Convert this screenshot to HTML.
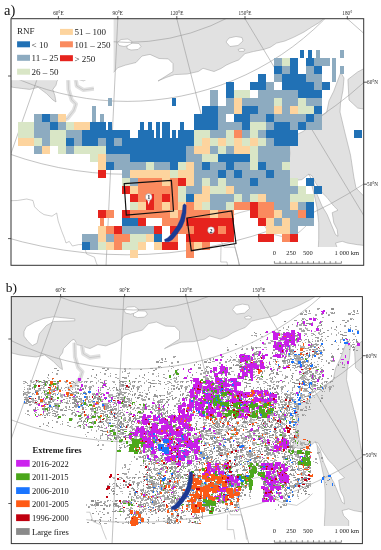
<!DOCTYPE html>
<html><head><meta charset="utf-8"><title>Fire maps</title>
<style>html,body{margin:0;padding:0;background:#fff;width:381px;height:550px;overflow:hidden}svg{display:block}</style>
</head><body>
<svg width="381" height="550" viewBox="0 0 381 550"><rect width="381" height="550" fill="#fff"/><text x="4" y="14.6" font-size="14.5" font-family="'Liberation Serif', serif" fill="#111">a)</text><text x="5.8" y="291.7" font-size="13.5" font-family="'Liberation Serif', serif" fill="#111">b)</text><clipPath id="ca"><rect x="11" y="18.7" width="352.7" height="246.6"/></clipPath><g clip-path="url(#ca)"><polygon points="-30.0,85.0 4.5,85.2 12.9,87.3 21.3,88.4 29.7,89.4 33.9,88.4 38.1,87.3 46.5,93.6 52.8,99.9 56.0,102.0 54.9,95.7 52.8,89.4 56.0,85.2 57.0,81.0 61.2,76.8 65.4,72.6 67.5,71.6 69.6,74.7 70.0,77.0 75.5,78.2 80.0,80.0 83.5,80.9 91.4,77.0 99.3,78.3 109.7,74.3 114.0,72.0 117.6,67.8 125.5,65.1 136.0,62.5 142.0,56.0 150.0,54.4 159.0,58.5 168.3,58.9 173.0,63.6 173.0,71.5 166.0,76.0 158.0,81.0 166.0,77.5 174.6,74.6 187.2,74.0 198.3,71.5 203.0,68.3 214.0,71.5 221.0,68.5 226.1,65.2 232.0,62.5 238.7,59.9 245.0,53.6 253.4,51.5 263.9,49.4 270.2,47.3 276.5,43.1 284.9,41.0 293.6,37.3 304.0,32.0 312.0,26.8 318.6,22.9 323.8,18.7 326.0,-40.0 -30.0,-40.0" fill="#e1e1e1" stroke="#9a9a9a" stroke-width="0.5"/><polygon points="293.5,136.2 303.0,131.5 312.4,124.4 319.5,117.3 326.6,112.6 329.0,100.8 333.7,91.3 337.2,81.9 340.8,72.4 344.0,78.0 343.0,90.0 340.5,103.0 340.0,112.0 345.0,133.0 350.5,155.0 354.0,178.0 356.0,188.0 363.7,196.0 380.0,196.0 380.0,300.0 317.9,300.0 317.9,256.4 318.7,239.6 318.7,222.8 317.0,207.7 314.5,195.9 311.1,182.5 310.3,174.9 308.0,174.7 301.9,179.6 292.1,180.8 286.0,179.0 288.8,166.5 289.9,153.2 289.0,140.0" fill="#e1e1e1" stroke="#9a9a9a" stroke-width="0.5"/><polygon points="347.9,79.5 357.6,72.0 380.0,60.0 380.0,112.0 357.6,108.0 349.0,100.0" fill="#e1e1e1" stroke="#9a9a9a" stroke-width="0.5"/><polygon points="17.5,63.8 19.9,59.1 28.1,54.4 37.5,50.8 47.0,49.2 68.3,51.3 68.3,53.2 47.0,53.9 39.9,57.9 32.8,66.2 30.5,75.6 25.8,78.0 21.0,73.3 17.5,68.6" fill="#fff" stroke="#9a9a9a" stroke-width="0.5"/><polygon points="117.5,42.5 121.0,39.5 128.0,39.0 132.0,41.5 131.0,45.0 124.0,46.5 119.0,45.5" fill="#fff" stroke="#9a9a9a" stroke-width="0.5"/><polygon points="127.0,46.0 132.0,43.2 139.0,43.5 141.0,46.5 138.0,49.5 131.0,50.0 127.0,48.5" fill="#fff" stroke="#9a9a9a" stroke-width="0.5"/><polygon points="226.0,42.0 229.0,38.0 236.0,36.5 242.0,37.5 243.0,41.0 238.0,45.5 230.0,46.5" fill="#fff" stroke="#9a9a9a" stroke-width="0.5"/><polygon points="238.0,49.5 242.0,48.3 245.0,49.5 244.0,51.3 239.0,51.3" fill="#fff" stroke="#9a9a9a" stroke-width="0.5"/><polygon points="308.6,174.1 312.0,175.8 315.3,182.5 322.0,192.6 327.1,197.6 333.8,206.0 338.0,210.2 332.2,212.7 333.8,222.8 337.2,229.5 338.0,236.3 335.5,234.6 331.3,224.5 327.1,214.4 322.0,206.0 317.0,194.2 313.7,182.5" fill="#fff" stroke="#9a9a9a" stroke-width="0.5"/><polygon points="335.5,243.0 342.2,241.3 347.3,243.0 357.5,244.7 370.0,246.0 370.0,275.0 342.2,262.0 342.2,253.1 337.2,248.0" fill="#fff" stroke="#9a9a9a" stroke-width="0.5"/><polyline points="0.0,201.0 17.3,200.5 26.7,199.0 33.0,200.5 34.6,206.8 39.3,211.5 44.0,214.6 52.0,216.2 56.7,213.0 58.2,221.0 61.4,230.4 64.5,238.3 66.0,243.0 69.3,241.4 72.4,246.0 78.7,244.6 83.4,244.6 86.6,254.0 94.5,257.2 96.0,262.0 100.0,272.0" fill="none" stroke="#9a9a9a" stroke-width="0.5"/><polyline points="226.0,217.0 230.4,215.7 239.8,212.6 252.4,209.4 257.2,214.2 262.0,222.0 268.2,231.5 274.5,234.6 280.8,236.2 290.2,237.8 300.0,231.5 306.0,226.0" fill="none" stroke="#9a9a9a" stroke-width="0.5"/><polyline points="219.0,236.0 221.0,241.0 224.0,247.2 235.0,247.2 238.3,259.8 240.0,272.0" fill="none" stroke="#9a9a9a" stroke-width="0.5"/><polyline points="221.0,247.0 220.7,262.0 227.0,262.0 228.5,272.0" fill="none" stroke="#9a9a9a" stroke-width="0.5"/><polyline points="68.0,75.0 68.5,89.4 71.7,99.9 75.9,104.1 73.8,110.4 67.5,118.4 61.0,121.0" fill="none" stroke="#e1e1e1" stroke-width="4.2" stroke-linejoin="round"/><polyline points="68.0,75.0 68.5,89.4 71.7,99.9 75.9,104.1 73.8,110.4 67.5,118.4 61.0,121.0" fill="none" stroke="#a8a8a8" stroke-width="0.4"/><polyline points="75.5,78.2 76.8,86.0 83.4,90.0 93.9,88.6" fill="none" stroke="#e1e1e1" stroke-width="4.2" stroke-linejoin="round"/><polyline points="75.5,78.2 76.8,86.0 83.4,90.0 93.9,88.6" fill="none" stroke="#a8a8a8" stroke-width="0.4"/><g fill="none" stroke="#9a9a9a" stroke-width="0.6"><line x1="127.1" y1="-176.6" x2="-171.6" y2="672.4"/><line x1="127.1" y1="-176.6" x2="84.3" y2="722.4"/><line x1="127.1" y1="-176.6" x2="349.1" y2="695.6"/><line x1="127.1" y1="-176.6" x2="592.2" y2="593.9"/><line x1="127.1" y1="-176.6" x2="800.4" y2="420.6"/><circle cx="127.1" cy="-176.6" r="219.0"/><circle cx="127.1" cy="-176.6" r="278.0"/><circle cx="127.1" cy="-176.6" r="350.9"/><circle cx="127.1" cy="-176.6" r="431.4"/></g><g shape-rendering="crispEdges"><rect x="300" y="50" width="4" height="8" fill="#2171b5"/><rect x="308" y="50" width="4" height="8" fill="#2171b5"/><rect x="316" y="50" width="4" height="8" fill="#8dabc0"/><rect x="340" y="50" width="4" height="8" fill="#8dabc0"/><rect x="274" y="58" width="8" height="8" fill="#8dabc0"/><rect x="282" y="58" width="8" height="8" fill="#d9e6c6"/><rect x="290" y="58" width="8" height="8" fill="#2171b5"/><rect x="306" y="58" width="8" height="8" fill="#2171b5"/><rect x="314" y="58" width="8" height="8" fill="#8dabc0"/><rect x="322" y="58" width="8" height="8" fill="#8dabc0"/><rect x="332" y="58" width="4" height="8" fill="#8dabc0"/><rect x="274" y="66" width="8" height="8" fill="#2171b5"/><rect x="282" y="66" width="8" height="8" fill="#8dabc0"/><rect x="290" y="66" width="8" height="8" fill="#2171b5"/><rect x="306" y="66" width="8" height="8" fill="#8dabc0"/><rect x="314" y="66" width="8" height="8" fill="#2171b5"/><rect x="332" y="66" width="4" height="8" fill="#8dabc0"/><rect x="340" y="66" width="4" height="8" fill="#8dabc0"/><rect x="258" y="74" width="8" height="8" fill="#2171b5"/><rect x="274" y="74" width="8" height="8" fill="#8dabc0"/><rect x="282" y="74" width="8" height="8" fill="#2171b5"/><rect x="290" y="74" width="8" height="8" fill="#2171b5"/><rect x="298" y="74" width="8" height="8" fill="#2171b5"/><rect x="306" y="74" width="8" height="8" fill="#8dabc0"/><rect x="314" y="74" width="8" height="8" fill="#8dabc0"/><rect x="332" y="74" width="4" height="8" fill="#8dabc0"/><rect x="226" y="82" width="8" height="8" fill="#2171b5"/><rect x="250" y="82" width="8" height="8" fill="#2171b5"/><rect x="258" y="82" width="8" height="8" fill="#2171b5"/><rect x="266" y="82" width="8" height="8" fill="#8dabc0"/><rect x="282" y="82" width="8" height="8" fill="#2171b5"/><rect x="290" y="82" width="8" height="8" fill="#2171b5"/><rect x="298" y="82" width="8" height="8" fill="#2171b5"/><rect x="306" y="82" width="8" height="8" fill="#2171b5"/><rect x="314" y="82" width="8" height="8" fill="#8dabc0"/><rect x="322" y="82" width="8" height="8" fill="#2171b5"/><rect x="210" y="90" width="8" height="8" fill="#8dabc0"/><rect x="226" y="90" width="8" height="8" fill="#2171b5"/><rect x="234" y="90" width="8" height="8" fill="#d9e6c6"/><rect x="242" y="90" width="8" height="8" fill="#d9e6c6"/><rect x="258" y="90" width="8" height="8" fill="#8dabc0"/><rect x="266" y="90" width="8" height="8" fill="#8dabc0"/><rect x="274" y="90" width="8" height="8" fill="#8dabc0"/><rect x="282" y="90" width="8" height="8" fill="#8dabc0"/><rect x="290" y="90" width="8" height="8" fill="#8dabc0"/><rect x="298" y="90" width="8" height="8" fill="#2171b5"/><rect x="306" y="90" width="8" height="8" fill="#2171b5"/><rect x="314" y="90" width="8" height="8" fill="#2171b5"/><rect x="34" y="114" width="8" height="8" fill="#8dabc0"/><rect x="42" y="114" width="8" height="8" fill="#2171b5"/><rect x="50" y="114" width="8" height="8" fill="#8dabc0"/><rect x="58" y="114" width="8" height="8" fill="#fdd49e"/><rect x="92" y="114" width="4" height="8" fill="#8dabc0"/><rect x="100" y="114" width="4" height="8" fill="#8dabc0"/><rect x="194" y="114" width="8" height="8" fill="#2171b5"/><rect x="202" y="114" width="8" height="8" fill="#2171b5"/><rect x="210" y="114" width="8" height="8" fill="#2171b5"/><rect x="218" y="114" width="8" height="8" fill="#8dabc0"/><rect x="234" y="114" width="8" height="8" fill="#2171b5"/><rect x="242" y="114" width="8" height="8" fill="#2171b5"/><rect x="250" y="114" width="8" height="8" fill="#8dabc0"/><rect x="258" y="114" width="8" height="8" fill="#8dabc0"/><rect x="266" y="114" width="8" height="8" fill="#2171b5"/><rect x="274" y="114" width="8" height="8" fill="#8dabc0"/><rect x="282" y="114" width="8" height="8" fill="#8dabc0"/><rect x="290" y="114" width="8" height="8" fill="#8dabc0"/><rect x="298" y="114" width="8" height="8" fill="#8dabc0"/><rect x="306" y="114" width="8" height="8" fill="#2171b5"/><rect x="314" y="114" width="8" height="8" fill="#8dabc0"/><rect x="18" y="122" width="8" height="8" fill="#d9e6c6"/><rect x="26" y="122" width="8" height="8" fill="#d9e6c6"/><rect x="34" y="122" width="8" height="8" fill="#8dabc0"/><rect x="42" y="122" width="8" height="8" fill="#8dabc0"/><rect x="50" y="122" width="8" height="8" fill="#2171b5"/><rect x="58" y="122" width="8" height="8" fill="#8dabc0"/><rect x="66" y="122" width="8" height="8" fill="#d9e6c6"/><rect x="74" y="122" width="8" height="8" fill="#fdd49e"/><rect x="82" y="122" width="8" height="8" fill="#fdd49e"/><rect x="90" y="122" width="8" height="8" fill="#2171b5"/><rect x="98" y="122" width="8" height="8" fill="#2171b5"/><rect x="108" y="122" width="4" height="8" fill="#2171b5"/><rect x="140" y="122" width="4" height="8" fill="#2171b5"/><rect x="148" y="122" width="4" height="8" fill="#2171b5"/><rect x="156" y="122" width="4" height="8" fill="#2171b5"/><rect x="162" y="122" width="8" height="8" fill="#2171b5"/><rect x="180" y="122" width="4" height="8" fill="#2171b5"/><rect x="194" y="122" width="8" height="8" fill="#2171b5"/><rect x="202" y="122" width="8" height="8" fill="#2171b5"/><rect x="210" y="122" width="8" height="8" fill="#2171b5"/><rect x="218" y="122" width="8" height="8" fill="#8dabc0"/><rect x="226" y="122" width="8" height="8" fill="#8dabc0"/><rect x="234" y="122" width="8" height="8" fill="#8dabc0"/><rect x="242" y="122" width="8" height="8" fill="#2171b5"/><rect x="250" y="122" width="8" height="8" fill="#d9e6c6"/><rect x="258" y="122" width="8" height="8" fill="#d9e6c6"/><rect x="266" y="122" width="8" height="8" fill="#8dabc0"/><rect x="274" y="122" width="8" height="8" fill="#2171b5"/><rect x="282" y="122" width="8" height="8" fill="#2171b5"/><rect x="290" y="122" width="8" height="8" fill="#8dabc0"/><rect x="298" y="122" width="8" height="8" fill="#2171b5"/><rect x="306" y="122" width="8" height="8" fill="#8dabc0"/><rect x="314" y="122" width="8" height="8" fill="#8dabc0"/><rect x="18" y="130" width="8" height="8" fill="#d9e6c6"/><rect x="26" y="130" width="8" height="8" fill="#d9e6c6"/><rect x="34" y="130" width="8" height="8" fill="#8dabc0"/><rect x="42" y="130" width="8" height="8" fill="#8dabc0"/><rect x="50" y="130" width="8" height="8" fill="#d9e6c6"/><rect x="58" y="130" width="8" height="8" fill="#d9e6c6"/><rect x="66" y="130" width="8" height="8" fill="#8dabc0"/><rect x="74" y="130" width="8" height="8" fill="#8dabc0"/><rect x="82" y="130" width="8" height="8" fill="#2171b5"/><rect x="90" y="130" width="8" height="8" fill="#2171b5"/><rect x="98" y="130" width="8" height="8" fill="#2171b5"/><rect x="106" y="130" width="8" height="8" fill="#2171b5"/><rect x="114" y="130" width="8" height="8" fill="#2171b5"/><rect x="122" y="130" width="8" height="8" fill="#2171b5"/><rect x="138" y="130" width="8" height="8" fill="#2171b5"/><rect x="146" y="130" width="8" height="8" fill="#2171b5"/><rect x="156" y="130" width="4" height="8" fill="#2171b5"/><rect x="162" y="130" width="8" height="8" fill="#2171b5"/><rect x="172" y="130" width="4" height="8" fill="#2171b5"/><rect x="178" y="130" width="8" height="8" fill="#2171b5"/><rect x="186" y="130" width="8" height="8" fill="#2171b5"/><rect x="194" y="130" width="8" height="8" fill="#d9e6c6"/><rect x="202" y="130" width="8" height="8" fill="#d9e6c6"/><rect x="210" y="130" width="8" height="8" fill="#8dabc0"/><rect x="218" y="130" width="8" height="8" fill="#8dabc0"/><rect x="226" y="130" width="8" height="8" fill="#d9e6c6"/><rect x="234" y="130" width="8" height="8" fill="#fa8a5e"/><rect x="242" y="130" width="8" height="8" fill="#8dabc0"/><rect x="250" y="130" width="8" height="8" fill="#d9e6c6"/><rect x="258" y="130" width="8" height="8" fill="#8dabc0"/><rect x="266" y="130" width="8" height="8" fill="#2171b5"/><rect x="274" y="130" width="8" height="8" fill="#2171b5"/><rect x="282" y="130" width="8" height="8" fill="#2171b5"/><rect x="290" y="130" width="8" height="8" fill="#2171b5"/><rect x="354" y="130" width="8" height="8" fill="#2171b5"/><rect x="18" y="138" width="8" height="8" fill="#fdd49e"/><rect x="26" y="138" width="8" height="8" fill="#fdd49e"/><rect x="34" y="138" width="8" height="8" fill="#d9e6c6"/><rect x="42" y="138" width="8" height="8" fill="#8dabc0"/><rect x="50" y="138" width="8" height="8" fill="#d9e6c6"/><rect x="58" y="138" width="8" height="8" fill="#d9e6c6"/><rect x="66" y="138" width="8" height="8" fill="#2171b5"/><rect x="74" y="138" width="8" height="8" fill="#8dabc0"/><rect x="82" y="138" width="8" height="8" fill="#2171b5"/><rect x="90" y="138" width="8" height="8" fill="#2171b5"/><rect x="98" y="138" width="8" height="8" fill="#8dabc0"/><rect x="106" y="138" width="8" height="8" fill="#2171b5"/><rect x="114" y="138" width="8" height="8" fill="#8dabc0"/><rect x="122" y="138" width="8" height="8" fill="#2171b5"/><rect x="130" y="138" width="8" height="8" fill="#2171b5"/><rect x="138" y="138" width="8" height="8" fill="#2171b5"/><rect x="146" y="138" width="8" height="8" fill="#2171b5"/><rect x="154" y="138" width="8" height="8" fill="#2171b5"/><rect x="162" y="138" width="8" height="8" fill="#2171b5"/><rect x="170" y="138" width="8" height="8" fill="#2171b5"/><rect x="178" y="138" width="8" height="8" fill="#2171b5"/><rect x="186" y="138" width="8" height="8" fill="#2171b5"/><rect x="194" y="138" width="8" height="8" fill="#d9e6c6"/><rect x="202" y="138" width="8" height="8" fill="#fdd49e"/><rect x="210" y="138" width="8" height="8" fill="#d9e6c6"/><rect x="218" y="138" width="8" height="8" fill="#fdd49e"/><rect x="226" y="138" width="8" height="8" fill="#d9e6c6"/><rect x="234" y="138" width="8" height="8" fill="#fdd49e"/><rect x="242" y="138" width="8" height="8" fill="#d9e6c6"/><rect x="250" y="138" width="8" height="8" fill="#fdd49e"/><rect x="258" y="138" width="8" height="8" fill="#d9e6c6"/><rect x="266" y="138" width="8" height="8" fill="#8dabc0"/><rect x="274" y="138" width="8" height="8" fill="#2171b5"/><rect x="282" y="138" width="8" height="8" fill="#2171b5"/><rect x="290" y="138" width="8" height="8" fill="#2171b5"/><rect x="108" y="98" width="4" height="8" fill="#8dabc0"/><rect x="172" y="98" width="4" height="8" fill="#2171b5"/><rect x="210" y="98" width="8" height="8" fill="#8dabc0"/><rect x="226" y="98" width="8" height="8" fill="#8dabc0"/><rect x="234" y="98" width="8" height="8" fill="#fdd49e"/><rect x="242" y="98" width="8" height="8" fill="#8dabc0"/><rect x="250" y="98" width="8" height="8" fill="#8dabc0"/><rect x="258" y="98" width="8" height="8" fill="#8dabc0"/><rect x="266" y="98" width="8" height="8" fill="#8dabc0"/><rect x="274" y="98" width="8" height="8" fill="#d9e6c6"/><rect x="282" y="98" width="8" height="8" fill="#8dabc0"/><rect x="290" y="98" width="8" height="8" fill="#8dabc0"/><rect x="298" y="98" width="8" height="8" fill="#d9e6c6"/><rect x="306" y="98" width="8" height="8" fill="#8dabc0"/><rect x="314" y="98" width="8" height="8" fill="#8dabc0"/><rect x="92" y="106" width="4" height="8" fill="#8dabc0"/><rect x="202" y="106" width="8" height="8" fill="#2171b5"/><rect x="210" y="106" width="8" height="8" fill="#2171b5"/><rect x="218" y="106" width="8" height="8" fill="#8dabc0"/><rect x="226" y="106" width="8" height="8" fill="#8dabc0"/><rect x="234" y="106" width="8" height="8" fill="#fdd49e"/><rect x="242" y="106" width="8" height="8" fill="#2171b5"/><rect x="250" y="106" width="8" height="8" fill="#2171b5"/><rect x="258" y="106" width="8" height="8" fill="#8dabc0"/><rect x="266" y="106" width="8" height="8" fill="#8dabc0"/><rect x="274" y="106" width="8" height="8" fill="#fdd49e"/><rect x="282" y="106" width="8" height="8" fill="#8dabc0"/><rect x="290" y="106" width="8" height="8" fill="#fdd49e"/><rect x="298" y="106" width="8" height="8" fill="#d9e6c6"/><rect x="306" y="106" width="8" height="8" fill="#d9e6c6"/><rect x="314" y="106" width="8" height="8" fill="#2171b5"/><rect x="34" y="146" width="8" height="8" fill="#8dabc0"/><rect x="42" y="146" width="8" height="8" fill="#fdd49e"/><rect x="58" y="146" width="8" height="8" fill="#d9e6c6"/><rect x="66" y="146" width="8" height="8" fill="#8dabc0"/><rect x="74" y="146" width="8" height="8" fill="#d9e6c6"/><rect x="82" y="146" width="8" height="8" fill="#d9e6c6"/><rect x="90" y="146" width="8" height="8" fill="#d9e6c6"/><rect x="98" y="146" width="8" height="8" fill="#d9e6c6"/><rect x="106" y="146" width="8" height="8" fill="#2171b5"/><rect x="114" y="146" width="8" height="8" fill="#2171b5"/><rect x="122" y="146" width="8" height="8" fill="#2171b5"/><rect x="130" y="146" width="8" height="8" fill="#2171b5"/><rect x="138" y="146" width="8" height="8" fill="#2171b5"/><rect x="146" y="146" width="8" height="8" fill="#2171b5"/><rect x="154" y="146" width="8" height="8" fill="#2171b5"/><rect x="162" y="146" width="8" height="8" fill="#2171b5"/><rect x="170" y="146" width="8" height="8" fill="#2171b5"/><rect x="178" y="146" width="8" height="8" fill="#2171b5"/><rect x="186" y="146" width="8" height="8" fill="#8dabc0"/><rect x="194" y="146" width="8" height="8" fill="#fdd49e"/><rect x="202" y="146" width="8" height="8" fill="#fdd49e"/><rect x="210" y="146" width="8" height="8" fill="#8dabc0"/><rect x="218" y="146" width="8" height="8" fill="#d9e6c6"/><rect x="226" y="146" width="8" height="8" fill="#8dabc0"/><rect x="234" y="146" width="8" height="8" fill="#fdd49e"/><rect x="242" y="146" width="8" height="8" fill="#fdd49e"/><rect x="250" y="146" width="8" height="8" fill="#d9e6c6"/><rect x="258" y="146" width="8" height="8" fill="#8dabc0"/><rect x="266" y="146" width="8" height="8" fill="#8dabc0"/><rect x="274" y="146" width="8" height="8" fill="#8dabc0"/><rect x="282" y="146" width="8" height="8" fill="#8dabc0"/><rect x="90" y="154" width="8" height="8" fill="#d9e6c6"/><rect x="98" y="154" width="8" height="8" fill="#fdd49e"/><rect x="106" y="154" width="8" height="8" fill="#8dabc0"/><rect x="114" y="154" width="8" height="8" fill="#8dabc0"/><rect x="122" y="154" width="8" height="8" fill="#8dabc0"/><rect x="130" y="154" width="8" height="8" fill="#2171b5"/><rect x="138" y="154" width="8" height="8" fill="#2171b5"/><rect x="146" y="154" width="8" height="8" fill="#2171b5"/><rect x="154" y="154" width="8" height="8" fill="#2171b5"/><rect x="162" y="154" width="8" height="8" fill="#2171b5"/><rect x="170" y="154" width="8" height="8" fill="#2171b5"/><rect x="178" y="154" width="8" height="8" fill="#2171b5"/><rect x="186" y="154" width="8" height="8" fill="#8dabc0"/><rect x="194" y="154" width="8" height="8" fill="#8dabc0"/><rect x="202" y="154" width="8" height="8" fill="#d9e6c6"/><rect x="210" y="154" width="8" height="8" fill="#d9e6c6"/><rect x="218" y="154" width="8" height="8" fill="#2171b5"/><rect x="226" y="154" width="8" height="8" fill="#2171b5"/><rect x="234" y="154" width="8" height="8" fill="#2171b5"/><rect x="242" y="154" width="8" height="8" fill="#2171b5"/><rect x="250" y="154" width="8" height="8" fill="#d9e6c6"/><rect x="258" y="154" width="8" height="8" fill="#8dabc0"/><rect x="266" y="154" width="8" height="8" fill="#8dabc0"/><rect x="274" y="154" width="8" height="8" fill="#8dabc0"/><rect x="282" y="154" width="8" height="8" fill="#8dabc0"/><rect x="98" y="162" width="8" height="8" fill="#fdd49e"/><rect x="106" y="162" width="8" height="8" fill="#2171b5"/><rect x="114" y="162" width="8" height="8" fill="#8dabc0"/><rect x="122" y="162" width="8" height="8" fill="#8dabc0"/><rect x="130" y="162" width="8" height="8" fill="#8dabc0"/><rect x="138" y="162" width="8" height="8" fill="#8dabc0"/><rect x="146" y="162" width="8" height="8" fill="#d9e6c6"/><rect x="154" y="162" width="8" height="8" fill="#8dabc0"/><rect x="162" y="162" width="8" height="8" fill="#8dabc0"/><rect x="170" y="162" width="8" height="8" fill="#2171b5"/><rect x="178" y="162" width="8" height="8" fill="#d9e6c6"/><rect x="186" y="162" width="8" height="8" fill="#fdd49e"/><rect x="194" y="162" width="8" height="8" fill="#8dabc0"/><rect x="202" y="162" width="8" height="8" fill="#2171b5"/><rect x="210" y="162" width="8" height="8" fill="#8dabc0"/><rect x="218" y="162" width="8" height="8" fill="#8dabc0"/><rect x="226" y="162" width="8" height="8" fill="#2171b5"/><rect x="234" y="162" width="8" height="8" fill="#8dabc0"/><rect x="242" y="162" width="8" height="8" fill="#8dabc0"/><rect x="250" y="162" width="8" height="8" fill="#d9e6c6"/><rect x="258" y="162" width="8" height="8" fill="#2171b5"/><rect x="266" y="162" width="8" height="8" fill="#8dabc0"/><rect x="274" y="162" width="8" height="8" fill="#8dabc0"/><rect x="282" y="162" width="8" height="8" fill="#d9e6c6"/><rect x="98" y="170" width="8" height="8" fill="#e6231d"/><rect x="122" y="170" width="8" height="8" fill="#8dabc0"/><rect x="130" y="170" width="8" height="8" fill="#fdd49e"/><rect x="138" y="170" width="8" height="8" fill="#fdd49e"/><rect x="146" y="170" width="8" height="8" fill="#fdd49e"/><rect x="154" y="170" width="8" height="8" fill="#fdd49e"/><rect x="162" y="170" width="8" height="8" fill="#fdd49e"/><rect x="170" y="170" width="8" height="8" fill="#d9e6c6"/><rect x="178" y="170" width="8" height="8" fill="#fdd49e"/><rect x="186" y="170" width="8" height="8" fill="#fdd49e"/><rect x="194" y="170" width="8" height="8" fill="#8dabc0"/><rect x="202" y="170" width="8" height="8" fill="#8dabc0"/><rect x="210" y="170" width="8" height="8" fill="#8dabc0"/><rect x="218" y="170" width="8" height="8" fill="#2171b5"/><rect x="226" y="170" width="8" height="8" fill="#8dabc0"/><rect x="234" y="170" width="8" height="8" fill="#2171b5"/><rect x="242" y="170" width="8" height="8" fill="#8dabc0"/><rect x="250" y="170" width="8" height="8" fill="#8dabc0"/><rect x="258" y="170" width="8" height="8" fill="#8dabc0"/><rect x="266" y="170" width="8" height="8" fill="#2171b5"/><rect x="274" y="170" width="8" height="8" fill="#8dabc0"/><rect x="282" y="170" width="8" height="8" fill="#8dabc0"/><rect x="122" y="178" width="8" height="8" fill="#d9e6c6"/><rect x="130" y="178" width="8" height="8" fill="#8dabc0"/><rect x="138" y="178" width="8" height="8" fill="#fa8a5e"/><rect x="146" y="178" width="8" height="8" fill="#fa8a5e"/><rect x="154" y="178" width="8" height="8" fill="#fa8a5e"/><rect x="162" y="178" width="8" height="8" fill="#fdd49e"/><rect x="170" y="178" width="8" height="8" fill="#fa8a5e"/><rect x="178" y="178" width="8" height="8" fill="#e6231d"/><rect x="186" y="178" width="8" height="8" fill="#fdd49e"/><rect x="194" y="178" width="8" height="8" fill="#8dabc0"/><rect x="202" y="178" width="8" height="8" fill="#d9e6c6"/><rect x="210" y="178" width="8" height="8" fill="#8dabc0"/><rect x="218" y="178" width="8" height="8" fill="#d9e6c6"/><rect x="226" y="178" width="8" height="8" fill="#8dabc0"/><rect x="234" y="178" width="8" height="8" fill="#8dabc0"/><rect x="242" y="178" width="8" height="8" fill="#8dabc0"/><rect x="250" y="178" width="8" height="8" fill="#2171b5"/><rect x="258" y="178" width="8" height="8" fill="#8dabc0"/><rect x="266" y="178" width="8" height="8" fill="#8dabc0"/><rect x="274" y="178" width="8" height="8" fill="#8dabc0"/><rect x="282" y="178" width="8" height="8" fill="#8dabc0"/><rect x="290" y="178" width="8" height="8" fill="#d9e6c6"/><rect x="306" y="178" width="8" height="8" fill="#2171b5"/><rect x="122" y="186" width="8" height="8" fill="#e6231d"/><rect x="130" y="186" width="8" height="8" fill="#fdd49e"/><rect x="138" y="186" width="8" height="8" fill="#fa8a5e"/><rect x="146" y="186" width="8" height="8" fill="#fa8a5e"/><rect x="154" y="186" width="8" height="8" fill="#fa8a5e"/><rect x="162" y="186" width="8" height="8" fill="#fa8a5e"/><rect x="170" y="186" width="8" height="8" fill="#fa8a5e"/><rect x="178" y="186" width="8" height="8" fill="#d9e6c6"/><rect x="186" y="186" width="8" height="8" fill="#8dabc0"/><rect x="194" y="186" width="8" height="8" fill="#8dabc0"/><rect x="202" y="186" width="8" height="8" fill="#fdd49e"/><rect x="210" y="186" width="8" height="8" fill="#d9e6c6"/><rect x="218" y="186" width="8" height="8" fill="#d9e6c6"/><rect x="226" y="186" width="8" height="8" fill="#fdd49e"/><rect x="234" y="186" width="8" height="8" fill="#8dabc0"/><rect x="242" y="186" width="8" height="8" fill="#8dabc0"/><rect x="250" y="186" width="8" height="8" fill="#8dabc0"/><rect x="258" y="186" width="8" height="8" fill="#8dabc0"/><rect x="266" y="186" width="8" height="8" fill="#8dabc0"/><rect x="274" y="186" width="8" height="8" fill="#8dabc0"/><rect x="282" y="186" width="8" height="8" fill="#8dabc0"/><rect x="290" y="186" width="8" height="8" fill="#8dabc0"/><rect x="298" y="186" width="8" height="8" fill="#d9e6c6"/><rect x="314" y="186" width="8" height="8" fill="#2171b5"/><rect x="130" y="194" width="8" height="8" fill="#e6231d"/><rect x="138" y="194" width="8" height="8" fill="#fa8a5e"/><rect x="146" y="194" width="8" height="8" fill="#e6231d"/><rect x="154" y="194" width="8" height="8" fill="#fa8a5e"/><rect x="162" y="194" width="8" height="8" fill="#e6231d"/><rect x="170" y="194" width="8" height="8" fill="#fa8a5e"/><rect x="178" y="194" width="8" height="8" fill="#d9e6c6"/><rect x="186" y="194" width="8" height="8" fill="#2171b5"/><rect x="194" y="194" width="8" height="8" fill="#fdd49e"/><rect x="202" y="194" width="8" height="8" fill="#fdd49e"/><rect x="210" y="194" width="8" height="8" fill="#8dabc0"/><rect x="218" y="194" width="8" height="8" fill="#8dabc0"/><rect x="226" y="194" width="8" height="8" fill="#8dabc0"/><rect x="234" y="194" width="8" height="8" fill="#d9e6c6"/><rect x="242" y="194" width="8" height="8" fill="#8dabc0"/><rect x="250" y="194" width="8" height="8" fill="#d9e6c6"/><rect x="258" y="194" width="8" height="8" fill="#fdd49e"/><rect x="266" y="194" width="8" height="8" fill="#8dabc0"/><rect x="274" y="194" width="8" height="8" fill="#8dabc0"/><rect x="282" y="194" width="8" height="8" fill="#8dabc0"/><rect x="290" y="194" width="8" height="8" fill="#d9e6c6"/><rect x="298" y="194" width="8" height="8" fill="#d9e6c6"/><rect x="306" y="194" width="8" height="8" fill="#d9e6c6"/><rect x="130" y="202" width="8" height="8" fill="#d9e6c6"/><rect x="138" y="202" width="8" height="8" fill="#fdd49e"/><rect x="146" y="202" width="8" height="8" fill="#e6231d"/><rect x="154" y="202" width="8" height="8" fill="#fa8a5e"/><rect x="162" y="202" width="8" height="8" fill="#fdd49e"/><rect x="170" y="202" width="8" height="8" fill="#fa8a5e"/><rect x="178" y="202" width="8" height="8" fill="#fdd49e"/><rect x="186" y="202" width="8" height="8" fill="#fa8a5e"/><rect x="194" y="202" width="8" height="8" fill="#fdd49e"/><rect x="202" y="202" width="8" height="8" fill="#d9e6c6"/><rect x="210" y="202" width="8" height="8" fill="#8dabc0"/><rect x="218" y="202" width="8" height="8" fill="#8dabc0"/><rect x="226" y="202" width="8" height="8" fill="#d9e6c6"/><rect x="234" y="202" width="8" height="8" fill="#fa8a5e"/><rect x="242" y="202" width="8" height="8" fill="#fa8a5e"/><rect x="250" y="202" width="8" height="8" fill="#e6231d"/><rect x="258" y="202" width="8" height="8" fill="#fa8a5e"/><rect x="266" y="202" width="8" height="8" fill="#fa8a5e"/><rect x="274" y="202" width="8" height="8" fill="#8dabc0"/><rect x="282" y="202" width="8" height="8" fill="#8dabc0"/><rect x="290" y="202" width="8" height="8" fill="#fdd49e"/><rect x="298" y="202" width="8" height="8" fill="#8dabc0"/><rect x="306" y="202" width="8" height="8" fill="#2171b5"/><rect x="98" y="210" width="8" height="8" fill="#e6231d"/><rect x="106" y="210" width="8" height="8" fill="#fa8a5e"/><rect x="122" y="210" width="8" height="8" fill="#e6231d"/><rect x="130" y="210" width="8" height="8" fill="#fa8a5e"/><rect x="138" y="210" width="8" height="8" fill="#fa8a5e"/><rect x="146" y="210" width="8" height="8" fill="#fa8a5e"/><rect x="154" y="210" width="8" height="8" fill="#fa8a5e"/><rect x="162" y="210" width="8" height="8" fill="#fa8a5e"/><rect x="170" y="210" width="8" height="8" fill="#fdd49e"/><rect x="178" y="210" width="8" height="8" fill="#fa8a5e"/><rect x="186" y="210" width="8" height="8" fill="#fa8a5e"/><rect x="194" y="210" width="8" height="8" fill="#fa8a5e"/><rect x="202" y="210" width="8" height="8" fill="#fa8a5e"/><rect x="210" y="210" width="8" height="8" fill="#fdd49e"/><rect x="218" y="210" width="8" height="8" fill="#fa8a5e"/><rect x="226" y="210" width="8" height="8" fill="#fa8a5e"/><rect x="250" y="210" width="8" height="8" fill="#e6231d"/><rect x="258" y="210" width="8" height="8" fill="#fa8a5e"/><rect x="266" y="210" width="8" height="8" fill="#fa8a5e"/><rect x="274" y="210" width="8" height="8" fill="#fdd49e"/><rect x="282" y="210" width="8" height="8" fill="#8dabc0"/><rect x="290" y="210" width="8" height="8" fill="#8dabc0"/><rect x="298" y="210" width="8" height="8" fill="#fa8a5e"/><rect x="306" y="210" width="8" height="8" fill="#2171b5"/><rect x="100" y="218" width="4" height="8" fill="#fa8a5e"/><rect x="122" y="218" width="8" height="8" fill="#2171b5"/><rect x="130" y="218" width="8" height="8" fill="#2171b5"/><rect x="138" y="218" width="8" height="8" fill="#e6231d"/><rect x="162" y="218" width="8" height="8" fill="#fa8a5e"/><rect x="170" y="218" width="8" height="8" fill="#fa8a5e"/><rect x="178" y="218" width="8" height="8" fill="#fa8a5e"/><rect x="186" y="218" width="8" height="8" fill="#e6231d"/><rect x="194" y="218" width="8" height="8" fill="#e6231d"/><rect x="202" y="218" width="8" height="8" fill="#e6231d"/><rect x="210" y="218" width="8" height="8" fill="#e6231d"/><rect x="218" y="218" width="8" height="8" fill="#e6231d"/><rect x="226" y="218" width="8" height="8" fill="#e6231d"/><rect x="258" y="218" width="8" height="8" fill="#e6231d"/><rect x="266" y="218" width="8" height="8" fill="#fdd49e"/><rect x="274" y="218" width="8" height="8" fill="#8dabc0"/><rect x="282" y="218" width="8" height="8" fill="#fdd49e"/><rect x="290" y="218" width="8" height="8" fill="#8dabc0"/><rect x="298" y="218" width="8" height="8" fill="#8dabc0"/><rect x="306" y="218" width="8" height="8" fill="#8dabc0"/><rect x="98" y="226" width="8" height="8" fill="#fdd49e"/><rect x="106" y="226" width="8" height="8" fill="#fa8a5e"/><rect x="114" y="226" width="8" height="8" fill="#e6231d"/><rect x="122" y="226" width="8" height="8" fill="#8dabc0"/><rect x="130" y="226" width="8" height="8" fill="#8dabc0"/><rect x="138" y="226" width="8" height="8" fill="#8dabc0"/><rect x="146" y="226" width="8" height="8" fill="#8dabc0"/><rect x="154" y="226" width="8" height="8" fill="#e6231d"/><rect x="170" y="226" width="8" height="8" fill="#e6231d"/><rect x="178" y="226" width="8" height="8" fill="#fa8a5e"/><rect x="186" y="226" width="8" height="8" fill="#fa8a5e"/><rect x="194" y="226" width="8" height="8" fill="#e6231d"/><rect x="202" y="226" width="8" height="8" fill="#e6231d"/><rect x="210" y="226" width="8" height="8" fill="#e6231d"/><rect x="218" y="226" width="8" height="8" fill="#fa8a5e"/><rect x="226" y="226" width="8" height="8" fill="#e6231d"/><rect x="266" y="226" width="8" height="8" fill="#fdd49e"/><rect x="274" y="226" width="8" height="8" fill="#fdd49e"/><rect x="282" y="226" width="8" height="8" fill="#fdd49e"/><rect x="290" y="226" width="8" height="8" fill="#8dabc0"/><rect x="82" y="234" width="8" height="8" fill="#8dabc0"/><rect x="90" y="234" width="8" height="8" fill="#8dabc0"/><rect x="98" y="234" width="8" height="8" fill="#fdd49e"/><rect x="106" y="234" width="8" height="8" fill="#8dabc0"/><rect x="114" y="234" width="8" height="8" fill="#fa8a5e"/><rect x="122" y="234" width="8" height="8" fill="#fa8a5e"/><rect x="130" y="234" width="8" height="8" fill="#d9e6c6"/><rect x="138" y="234" width="8" height="8" fill="#d9e6c6"/><rect x="146" y="234" width="8" height="8" fill="#fdd49e"/><rect x="154" y="234" width="8" height="8" fill="#2171b5"/><rect x="170" y="234" width="8" height="8" fill="#fa8a5e"/><rect x="186" y="234" width="8" height="8" fill="#e6231d"/><rect x="194" y="234" width="8" height="8" fill="#e6231d"/><rect x="202" y="234" width="8" height="8" fill="#e6231d"/><rect x="210" y="234" width="8" height="8" fill="#e6231d"/><rect x="218" y="234" width="8" height="8" fill="#e6231d"/><rect x="226" y="234" width="8" height="8" fill="#e6231d"/><rect x="258" y="234" width="8" height="8" fill="#e6231d"/><rect x="266" y="234" width="8" height="8" fill="#e6231d"/><rect x="282" y="234" width="8" height="8" fill="#fa8a5e"/><rect x="290" y="234" width="8" height="8" fill="#e6231d"/><rect x="82" y="242" width="8" height="8" fill="#2171b5"/><rect x="90" y="242" width="8" height="8" fill="#8dabc0"/><rect x="98" y="242" width="8" height="8" fill="#d9e6c6"/><rect x="106" y="242" width="8" height="8" fill="#fdd49e"/><rect x="114" y="242" width="8" height="8" fill="#fa8a5e"/><rect x="122" y="242" width="8" height="8" fill="#d9e6c6"/><rect x="130" y="242" width="8" height="8" fill="#d9e6c6"/><rect x="138" y="242" width="8" height="8" fill="#fdd49e"/><rect x="154" y="242" width="8" height="8" fill="#fdd49e"/><rect x="162" y="242" width="8" height="8" fill="#e6231d"/><rect x="170" y="242" width="8" height="8" fill="#e6231d"/><rect x="186" y="242" width="8" height="8" fill="#fa8a5e"/><rect x="194" y="242" width="8" height="8" fill="#fdd49e"/><rect x="202" y="242" width="8" height="8" fill="#fa8a5e"/><rect x="130" y="250" width="8" height="8" fill="#fdd49e"/><rect x="186" y="250" width="8" height="8" fill="#fa8a5e"/></g><polygon points="183.0,205.0 182.3,212.0 180.5,219.0 177.5,225.5 174.0,230.5 171.0,234.5 167.5,238.0 164.5,239.5 165.0,241.8 169.0,241.8 172.5,239.5 175.5,236.0 178.5,232.0 182.0,227.0 184.5,221.0 186.0,213.0 186.2,205.5 184.8,203.8" fill="#1b3a93" stroke="#1b3a93" stroke-width="0.4" stroke-linejoin="round"/><polygon points="124.2,183.7 171.4,180.5 173.5,211 126.3,215.2" fill="none" stroke="#111" stroke-width="1.2"/><polygon points="187,218 231.8,211 236,243.5 191.3,250.7" fill="none" stroke="#111" stroke-width="1.2"/><path d="M147.3,199.5 L148.7,205 L150.1,199.5 Z" fill="#fff"/><circle cx="148.7" cy="197" r="3.4" fill="#fff" stroke="#777" stroke-width="0.4"/><text x="148.7" y="199.3" font-size="6.2" font-weight="bold" text-anchor="middle" font-family="'Liberation Serif', serif" fill="#1a2a3a">1</text><circle cx="211" cy="230.2" r="3.4" fill="#fff" stroke="#777" stroke-width="0.4"/><text x="211" y="232.5" font-size="6.2" font-weight="bold" text-anchor="middle" font-family="'Liberation Serif', serif" fill="#1a2a3a">2</text><rect x="11" y="18.7" width="102.6" height="61.5" fill="#fff"/><rect x="265" y="247" width="100" height="20" fill="#fff"/></g><rect x="11" y="18.7" width="352.7" height="246.6" fill="none" stroke="#333" stroke-width="1"/><text x="17" y="34" font-size="9" font-family="'Liberation Serif', serif" fill="#222">RNF</text><rect x="17.1" y="41.3" width="12.9" height="6" fill="#2171b5"/><text x="31.6" y="47.6" font-size="9" font-family="'Liberation Serif', serif" fill="#222">&lt; 10</text><rect x="17.1" y="54.8" width="12.9" height="6" fill="#8dabc0"/><text x="31.6" y="61.1" font-size="9" font-family="'Liberation Serif', serif" fill="#222">11 – 25</text><rect x="17.1" y="68.7" width="12.9" height="6" fill="#d9e6c6"/><text x="31.6" y="75.0" font-size="9" font-family="'Liberation Serif', serif" fill="#222">26 – 50</text><rect x="60.0" y="28.9" width="12.9" height="6" fill="#fdd49e"/><text x="74.5" y="35.2" font-size="9" font-family="'Liberation Serif', serif" fill="#222">51 – 100</text><rect x="60.0" y="41.3" width="12.9" height="6" fill="#fa8a5e"/><text x="74.5" y="47.6" font-size="9" font-family="'Liberation Serif', serif" fill="#222">101 – 250</text><rect x="60.0" y="55.2" width="12.9" height="6" fill="#e6231d"/><text x="74.5" y="61.5" font-size="9" font-family="'Liberation Serif', serif" fill="#222">&gt; 250</text><g font-family="'Liberation Serif', serif" font-size="6.5" fill="#222"><text x="274.4" y="254.6" text-anchor="middle">0</text><text x="291.2" y="254.6" text-anchor="middle">250</text><text x="307.8" y="254.6" text-anchor="middle">500</text><text x="346.8" y="254.6" text-anchor="middle">1 000 km</text></g><g stroke="#444" stroke-width="0.6"><line x1="274.4" y1="263.3" x2="341.4" y2="263.3"/><line x1="274.4" y1="263.3" x2="274.4" y2="261.1"/><line x1="280.0" y1="263.3" x2="280.0" y2="261.1"/><line x1="285.6" y1="263.3" x2="285.6" y2="261.1"/><line x1="291.1" y1="263.3" x2="291.1" y2="261.1"/><line x1="296.7" y1="263.3" x2="296.7" y2="261.1"/><line x1="302.3" y1="263.3" x2="302.3" y2="261.1"/><line x1="307.9" y1="263.3" x2="307.9" y2="261.1"/><line x1="313.5" y1="263.3" x2="313.5" y2="261.1"/><line x1="319.1" y1="263.3" x2="319.1" y2="261.1"/><line x1="324.6" y1="263.3" x2="324.6" y2="261.1"/><line x1="330.2" y1="263.3" x2="330.2" y2="261.1"/><line x1="335.8" y1="263.3" x2="335.8" y2="261.1"/><line x1="341.4" y1="263.3" x2="341.4" y2="261.1"/></g><text x="58.4" y="14.7" font-size="5.2" text-anchor="middle" font-family="'Liberation Serif', serif" fill="#222">60°E</text><line x1="58.4" y1="16.1" x2="58.4" y2="19.2" stroke="#333" stroke-width="0.8"/><text x="117.8" y="14.7" font-size="5.2" text-anchor="middle" font-family="'Liberation Serif', serif" fill="#222">90°E</text><line x1="117.8" y1="16.1" x2="117.8" y2="19.2" stroke="#333" stroke-width="0.8"/><text x="176.8" y="14.7" font-size="5.2" text-anchor="middle" font-family="'Liberation Serif', serif" fill="#222">120°E</text><line x1="176.8" y1="16.1" x2="176.8" y2="19.2" stroke="#333" stroke-width="0.8"/><text x="245.0" y="14.7" font-size="5.2" text-anchor="middle" font-family="'Liberation Serif', serif" fill="#222">150°E</text><line x1="245.0" y1="16.1" x2="245.0" y2="19.2" stroke="#333" stroke-width="0.8"/><text x="347.3" y="14.7" font-size="5.2" text-anchor="middle" font-family="'Liberation Serif', serif" fill="#222">180°</text><line x1="347.3" y1="16.1" x2="347.3" y2="19.2" stroke="#333" stroke-width="0.8"/><line x1="363.7" y1="82.2" x2="367.0" y2="82.2" stroke="#333" stroke-width="0.8"/><text x="367.1" y="84.0" font-size="5.2" font-family="'Liberation Serif', serif" fill="#222">60°N</text><line x1="8" y1="76.0" x2="11" y2="76.0" stroke="#333" stroke-width="0.8"/><line x1="8" y1="238.6" x2="11" y2="238.6" stroke="#333" stroke-width="0.8"/><line x1="8.3" y1="339.0" x2="11.3" y2="339.0" stroke="#333" stroke-width="0.8"/><line x1="8.3" y1="503.5" x2="11.3" y2="503.5" stroke="#333" stroke-width="0.8"/><line x1="363.7" y1="184.2" x2="367.0" y2="184.2" stroke="#333" stroke-width="0.8"/><text x="367.1" y="186.0" font-size="5.2" font-family="'Liberation Serif', serif" fill="#222">50°N</text><clipPath id="cb"><rect x="11.3" y="296.6" width="351.1" height="247"/></clipPath><g clip-path="url(#cb)"><polygon points="-23.5,352.6 11.0,352.8 19.4,354.9 27.8,356.0 36.2,357.0 40.4,356.0 44.6,354.9 53.0,361.2 59.3,367.5 62.5,369.6 61.4,363.3 59.3,357.0 62.5,352.8 63.5,348.6 67.7,344.4 71.9,340.2 74.0,339.2 76.1,342.3 76.5,344.6 82.0,345.8 86.5,347.6 90.0,348.5 97.9,344.6 105.8,345.9 116.2,341.9 120.5,339.6 124.1,335.4 132.0,332.7 142.5,330.1 148.5,323.6 156.5,322.0 165.5,326.1 174.8,326.5 179.5,331.2 179.5,339.1 172.5,343.6 164.5,348.6 172.5,345.1 181.1,342.2 193.7,341.6 204.8,339.1 209.5,335.9 220.5,339.1 227.5,336.1 232.6,332.8 238.5,330.1 245.2,327.5 251.5,321.2 259.9,319.1 270.4,317.0 276.7,314.9 283.0,310.7 291.4,308.6 300.1,304.9 310.5,299.6 318.5,294.4 325.1,290.5 330.3,286.3 332.5,227.6 -23.5,227.6" fill="#e1e1e1" stroke="#9a9a9a" stroke-width="0.5"/><polygon points="300.0,403.8 309.5,399.1 318.9,392.0 326.0,384.9 333.1,380.2 335.5,368.4 340.2,358.9 343.7,349.5 347.3,340.0 350.5,345.6 349.5,357.6 347.0,370.6 346.5,379.6 351.5,400.6 357.0,422.6 360.5,445.6 362.5,455.6 370.2,463.6 386.5,463.6 386.5,567.6 324.4,567.6 324.4,524.0 325.2,507.2 325.2,490.4 323.5,475.3 321.0,463.5 317.6,450.1 316.8,442.5 314.5,442.3 308.4,447.2 298.6,448.4 292.5,446.6 295.3,434.1 296.4,420.8 295.5,407.6" fill="#e1e1e1" stroke="#9a9a9a" stroke-width="0.5"/><polygon points="354.4,347.1 364.1,339.6 386.5,327.6 386.5,379.6 364.1,375.6 355.5,367.6" fill="#e1e1e1" stroke="#9a9a9a" stroke-width="0.5"/><polygon points="24.0,331.4 26.4,326.7 34.6,322.0 44.0,318.4 53.5,316.8 74.8,318.9 74.8,320.8 53.5,321.5 46.4,325.5 39.3,333.8 37.0,343.2 32.3,345.6 27.5,340.9 24.0,336.2" fill="#fff" stroke="#9a9a9a" stroke-width="0.5"/><polygon points="124.0,310.1 127.5,307.1 134.5,306.6 138.5,309.1 137.5,312.6 130.5,314.1 125.5,313.1" fill="#fff" stroke="#9a9a9a" stroke-width="0.5"/><polygon points="133.5,313.6 138.5,310.8 145.5,311.1 147.5,314.1 144.5,317.1 137.5,317.6 133.5,316.1" fill="#fff" stroke="#9a9a9a" stroke-width="0.5"/><polygon points="232.5,309.6 235.5,305.6 242.5,304.1 248.5,305.1 249.5,308.6 244.5,313.1 236.5,314.1" fill="#fff" stroke="#9a9a9a" stroke-width="0.5"/><polygon points="244.5,317.1 248.5,315.9 251.5,317.1 250.5,318.9 245.5,318.9" fill="#fff" stroke="#9a9a9a" stroke-width="0.5"/><polygon points="315.1,441.7 318.5,443.4 321.8,450.1 328.5,460.2 333.6,465.2 340.3,473.6 344.5,477.8 338.7,480.3 340.3,490.4 343.7,497.1 344.5,503.9 342.0,502.2 337.8,492.1 333.6,482.0 328.5,473.6 323.5,461.8 320.2,450.1" fill="#fff" stroke="#9a9a9a" stroke-width="0.5"/><polygon points="342.0,510.6 348.7,508.9 353.8,510.6 364.0,512.3 376.5,513.6 376.5,542.6 348.7,529.6 348.7,520.7 343.7,515.6" fill="#fff" stroke="#9a9a9a" stroke-width="0.5"/><polyline points="6.5,468.6 23.8,468.1 33.2,466.6 39.5,468.1 41.1,474.4 45.8,479.1 50.5,482.2 58.5,483.8 63.2,480.6 64.7,488.6 67.9,498.0 71.0,505.9 72.5,510.6 75.8,509.0 78.9,513.6 85.2,512.2 89.9,512.2 93.1,521.6 101.0,524.8 102.5,529.6 106.5,539.6" fill="none" stroke="#9a9a9a" stroke-width="0.5"/><polyline points="232.5,484.6 236.9,483.3 246.3,480.2 258.9,477.0 263.7,481.8 268.5,489.6 274.7,499.1 281.0,502.2 287.3,503.8 296.7,505.4 306.5,499.1 312.5,493.6" fill="none" stroke="#9a9a9a" stroke-width="0.5"/><polyline points="225.5,503.6 227.5,508.6 230.5,514.8 241.5,514.8 244.8,527.4 246.5,539.6" fill="none" stroke="#9a9a9a" stroke-width="0.5"/><polyline points="227.5,514.6 227.2,529.6 233.5,529.6 235.0,539.6" fill="none" stroke="#9a9a9a" stroke-width="0.5"/><polyline points="74.5,342.6 75.0,357.0 78.2,367.5 82.4,371.7 80.3,378.0 74.0,386.0 67.5,388.6" fill="none" stroke="#e1e1e1" stroke-width="4.2" stroke-linejoin="round"/><polyline points="74.5,342.6 75.0,357.0 78.2,367.5 82.4,371.7 80.3,378.0 74.0,386.0 67.5,388.6" fill="none" stroke="#a8a8a8" stroke-width="0.4"/><polyline points="82.0,345.8 83.3,353.6 89.9,357.6 100.4,356.2" fill="none" stroke="#e1e1e1" stroke-width="4.2" stroke-linejoin="round"/><polyline points="82.0,345.8 83.3,353.6 89.9,357.6 100.4,356.2" fill="none" stroke="#a8a8a8" stroke-width="0.4"/><g fill="none" stroke="#9a9a9a" stroke-width="0.6"><line x1="133.6" y1="91.0" x2="-165.1" y2="940.0"/><line x1="133.6" y1="91.0" x2="90.8" y2="990.0"/><line x1="133.6" y1="91.0" x2="355.6" y2="963.2"/><line x1="133.6" y1="91.0" x2="598.7" y2="861.5"/><line x1="133.6" y1="91.0" x2="806.9" y2="688.2"/><circle cx="133.6" cy="91.0" r="219.0"/><circle cx="133.6" cy="91.0" r="278.0"/><circle cx="133.6" cy="91.0" r="350.9"/><circle cx="133.6" cy="91.0" r="431.4"/></g><defs><pattern id="sp1" patternUnits="userSpaceOnUse" x="0" y="0" width="48" height="48"><path fill="#9c9c9c" d="M6 28h1v1h-1zM39 0h2v1h-2zM2 12h1v2h-1zM20 14h2v1h-2zM4 36h1v1h-1zM18 24h1v1h-1zM15 45h1v1h-1zM1 13h1v1h-1zM43 24h2v2h-2zM26 3h1v1h-1zM14 30h2v2h-2zM17 13h1v2h-1zM44 19h1v1h-1zM4 26h1v1h-1zM39 42h2v1h-2zM38 4h1v1h-1zM29 34h1v2h-1zM19 38h1v1h-1zM8 31h1v1h-1zM20 4h1v1h-1zM15 9h1v2h-1zM29 20h3v1h-3zM16 45h1v1h-1zM17 31h1v1h-1zM12 26h2v1h-2zM38 24h1v2h-1zM33 25h2v2h-2zM31 5h3v1h-3zM27 30h2v1h-2zM16 8h3v1h-3zM6 31h3v2h-3zM46 5h1v1h-1zM12 25h3v2h-3z"/><path fill="#aaaaaa" d="M28 35h2v1h-2zM11 32h2v2h-2zM28 41h3v2h-3zM29 20h2v2h-2zM45 25h2v1h-2zM21 0h2v1h-2zM29 31h1v2h-1zM28 32h1v2h-1zM4 4h1v1h-1zM8 37h2v2h-2zM14 39h1v2h-1zM10 47h3v1h-3zM33 11h3v1h-3zM4 17h2v1h-2zM8 28h1v2h-1zM47 2h1v2h-1zM16 0h1v1h-1zM43 39h1v2h-1zM21 42h2v1h-2zM20 25h3v1h-3zM14 37h1v1h-1zM19 41h2v1h-2zM34 45h1v1h-1zM17 22h2v2h-2zM46 41h2v1h-2zM31 37h3v1h-3zM28 33h2v1h-2zM32 39h1v2h-1zM40 26h2v2h-2zM34 13h3v2h-3zM33 13h2v2h-2zM14 47h3v1h-3zM20 38h1v1h-1zM12 6h1v1h-1zM27 26h2v2h-2z"/><path fill="#b6b6b6" d="M0 42h1v1h-1zM26 35h1v2h-1zM43 17h1v1h-1zM26 13h1v1h-1zM2 9h1v1h-1zM24 11h3v1h-3zM16 26h2v1h-2zM3 2h1v1h-1zM33 36h1v1h-1zM37 2h1v1h-1zM30 4h3v1h-3zM8 4h1v1h-1zM43 45h1v2h-1zM25 29h1v1h-1zM28 6h3v2h-3zM12 40h1v1h-1zM15 24h1v1h-1zM27 2h1v2h-1zM33 32h2v1h-2zM42 24h2v1h-2zM34 29h2v1h-2zM15 30h2v1h-2zM12 9h1v1h-1zM6 12h2v2h-2zM23 7h3v2h-3z"/><path fill="#8e8e8e" d="M34 44h3v1h-3zM33 14h3v1h-3zM13 13h1v1h-1zM26 41h2v1h-2zM0 39h1v1h-1zM0 38h1v1h-1zM32 16h1v2h-1zM21 22h1v2h-1zM16 26h3v1h-3zM47 44h1v1h-1zM14 44h1v1h-1zM40 27h1v1h-1zM17 10h1v1h-1zM17 13h2v1h-2zM43 20h3v2h-3zM4 43h1v1h-1zM16 11h3v1h-3zM25 44h1v1h-1zM46 24h1v1h-1zM2 28h1v2h-1zM43 8h2v1h-2zM9 34h2v1h-2zM20 46h1v1h-1zM44 33h2v1h-2z"/></pattern><pattern id="sp2" patternUnits="userSpaceOnUse" x="0" y="0" width="48" height="48"><path fill="#9c9c9c" d="M11 10h1v2h-1zM38 23h1v2h-1zM6 32h1v1h-1zM4 21h1v1h-1zM0 22h3v2h-3zM36 1h1v2h-1zM41 4h2v2h-2zM31 34h2v2h-2zM42 45h3v1h-3zM16 15h1v2h-1zM46 29h1v1h-1zM3 39h2v1h-2zM46 8h1v1h-1zM32 41h1v2h-1zM27 1h2v1h-2zM14 34h1v1h-1zM21 31h3v1h-3zM25 46h2v1h-2zM11 5h2v1h-2zM4 37h2v1h-2zM21 5h1v2h-1zM43 8h2v1h-2zM0 24h1v1h-1zM33 23h3v1h-3zM17 3h2v1h-2zM19 41h1v1h-1zM29 1h2v1h-2zM16 31h2v1h-2zM0 13h1v1h-1zM22 17h2v2h-2zM1 12h2v1h-2zM21 25h2v2h-2zM16 12h1v1h-1zM24 5h1v1h-1zM30 21h2v2h-2zM15 42h2v2h-2zM13 32h1v1h-1zM15 36h2v2h-2zM10 11h2v2h-2zM19 42h3v1h-3zM2 9h2v1h-2zM16 15h2v1h-2zM33 33h2v1h-2zM28 15h2v1h-2zM7 34h2v1h-2zM18 15h3v1h-3zM13 12h1v2h-1zM12 20h1v1h-1zM34 40h1v1h-1zM17 23h3v2h-3zM42 14h1v1h-1zM29 4h2v2h-2zM34 16h2v2h-2zM0 31h1v1h-1zM11 20h1v2h-1zM46 16h1v1h-1zM44 42h2v1h-2zM9 47h2v1h-2zM19 21h2v1h-2zM10 25h2v2h-2zM46 23h1v1h-1zM1 20h2v1h-2zM24 20h1v2h-1zM39 13h1v1h-1zM47 40h1v2h-1zM47 19h1v2h-1zM13 35h3v1h-3zM23 15h3v1h-3zM42 45h1v2h-1zM39 26h1v1h-1zM29 28h2v1h-2zM33 0h2v1h-2zM15 35h2v2h-2z"/><path fill="#aaaaaa" d="M9 12h1v1h-1zM27 32h1v1h-1zM47 23h1v1h-1zM45 40h2v2h-2zM27 11h2v1h-2zM13 42h2v2h-2zM24 10h2v1h-2zM0 15h2v1h-2zM13 3h1v2h-1zM17 17h2v2h-2zM40 17h1v1h-1zM27 47h1v1h-1zM19 0h1v1h-1zM33 19h2v1h-2zM24 34h1v2h-1zM14 33h1v2h-1zM20 5h1v2h-1zM6 47h3v1h-3zM26 26h1v1h-1zM38 32h1v1h-1zM30 14h2v1h-2zM33 34h1v1h-1zM0 46h1v2h-1zM8 43h3v2h-3zM37 45h1v1h-1zM4 21h2v2h-2zM35 14h1v2h-1zM36 45h1v2h-1zM36 1h3v2h-3zM17 29h1v1h-1zM29 2h2v1h-2zM36 25h1v1h-1zM41 2h3v2h-3zM30 44h1v2h-1zM34 19h3v1h-3zM36 7h1v1h-1zM33 25h1v1h-1zM11 40h3v2h-3zM44 28h2v1h-2zM14 19h1v2h-1zM37 33h1v1h-1zM10 18h1v1h-1zM17 46h2v1h-2zM2 33h1v2h-1zM38 31h1v1h-1zM11 36h3v2h-3zM37 31h1v2h-1zM20 26h2v1h-2zM45 2h1v1h-1zM0 15h2v2h-2zM27 4h1v2h-1zM18 16h1v2h-1zM47 21h1v2h-1zM19 30h2v1h-2zM17 39h1v2h-1zM47 16h1v1h-1zM17 6h1v1h-1zM2 12h1v2h-1zM27 30h2v2h-2zM46 28h2v1h-2zM31 45h1v1h-1zM39 21h1v1h-1zM14 16h3v1h-3zM22 6h1v1h-1zM44 25h3v1h-3zM45 11h2v2h-2zM23 45h3v1h-3z"/><path fill="#b6b6b6" d="M12 11h2v1h-2zM32 37h1v1h-1zM8 21h2v2h-2zM14 17h3v1h-3zM0 6h1v1h-1zM38 19h1v2h-1zM30 41h1v2h-1zM26 43h2v1h-2zM47 25h1v2h-1zM23 47h2v1h-2zM32 19h2v2h-2zM40 3h1v1h-1zM43 10h2v1h-2zM30 30h1v1h-1zM23 9h3v2h-3zM42 38h1v2h-1zM31 46h3v1h-3zM9 14h1v2h-1zM37 24h1v2h-1zM45 14h2v2h-2zM29 25h1v1h-1zM45 39h1v1h-1zM40 24h3v1h-3zM13 24h2v2h-2zM8 24h2v2h-2zM38 10h2v1h-2zM9 16h2v1h-2zM30 44h2v1h-2zM33 31h1v1h-1zM19 25h1v2h-1zM29 42h3v1h-3zM18 40h2v2h-2zM46 25h2v2h-2zM16 21h1v1h-1zM39 45h1v1h-1zM44 21h1v1h-1zM35 16h1v2h-1zM38 9h1v1h-1zM43 23h1v2h-1zM27 7h2v1h-2zM46 24h2v1h-2zM2 19h1v1h-1zM41 6h1v2h-1zM17 26h3v1h-3zM17 11h3v1h-3zM33 2h1v2h-1zM16 45h3v1h-3zM2 44h1v2h-1zM26 29h1v1h-1zM24 3h1v1h-1zM4 3h3v1h-3zM33 45h2v1h-2zM25 8h2v2h-2zM14 6h1v1h-1zM3 31h2v1h-2zM25 12h2v1h-2zM30 37h1v2h-1zM44 1h2v1h-2zM31 37h1v1h-1zM16 4h1v1h-1zM20 23h2v1h-2zM1 9h2v1h-2zM39 35h3v1h-3zM15 41h1v1h-1zM4 4h1v2h-1z"/><path fill="#8e8e8e" d="M32 43h1v1h-1zM6 1h1v2h-1zM37 3h1v2h-1zM4 6h1v1h-1zM7 47h3v1h-3zM34 4h2v2h-2zM41 13h3v1h-3zM47 15h1v1h-1zM32 3h1v2h-1zM21 35h2v2h-2zM33 36h1v2h-1zM27 31h2v1h-2zM4 14h2v2h-2zM7 23h2v1h-2zM29 38h1v2h-1zM7 28h2v1h-2zM18 35h3v1h-3zM41 23h2v1h-2zM20 5h2v1h-2zM36 36h2v2h-2zM23 7h1v2h-1zM36 38h3v1h-3zM23 23h1v1h-1zM36 18h1v2h-1zM22 13h2v1h-2zM17 25h1v1h-1zM3 42h1v1h-1zM23 28h1v2h-1zM28 13h1v2h-1zM4 43h1v1h-1zM43 29h3v1h-3zM0 24h3v2h-3zM15 18h2v1h-2zM21 19h1v2h-1zM11 12h2v1h-2zM2 10h1v1h-1zM41 13h1v2h-1zM41 28h1v2h-1zM5 8h1v1h-1zM25 31h2v1h-2zM22 26h2v2h-2zM18 31h2v2h-2zM20 3h1v2h-1zM4 46h3v1h-3zM36 10h1v2h-1zM20 11h1v1h-1zM19 20h2v1h-2zM9 2h2v1h-2zM35 41h1v1h-1zM38 10h1v2h-1zM38 45h1v2h-1zM38 31h2v2h-2zM39 9h1v1h-1zM24 16h1v1h-1zM5 25h2v1h-2zM15 11h2v1h-2zM13 25h1v2h-1zM31 13h2v1h-2zM19 25h2v1h-2zM13 17h2v2h-2zM4 25h1v1h-1zM42 11h3v1h-3zM4 40h1v2h-1zM10 10h1v2h-1zM18 23h3v2h-3zM7 28h2v2h-2zM2 10h2v1h-2zM3 22h1v1h-1z"/></pattern><pattern id="sp3" patternUnits="userSpaceOnUse" x="0" y="0" width="48" height="48"><path fill="#9c9c9c" d="M12 23h2v1h-2zM9 4h1v1h-1zM22 35h2v2h-2zM36 46h1v1h-1zM10 34h1v2h-1zM45 26h1v2h-1zM22 11h2v1h-2zM25 32h1v1h-1zM20 11h1v2h-1zM28 45h3v1h-3zM32 14h2v2h-2zM28 18h2v1h-2zM47 30h1v1h-1zM17 41h1v1h-1zM35 28h2v1h-2zM2 22h1v1h-1zM26 11h2v1h-2zM43 39h2v1h-2zM29 8h2v1h-2zM31 37h1v1h-1zM38 14h2v2h-2zM24 26h1v1h-1zM37 6h2v2h-2zM29 13h1v1h-1zM32 20h2v2h-2zM41 34h3v1h-3zM9 32h2v1h-2zM1 6h1v1h-1zM6 19h2v2h-2zM4 36h1v1h-1zM35 6h2v1h-2zM26 39h2v2h-2zM26 0h1v1h-1zM7 31h1v2h-1zM7 3h1v2h-1zM33 47h2v1h-2zM27 41h1v1h-1zM18 36h3v1h-3zM26 21h3v2h-3zM24 28h3v1h-3zM28 20h3v2h-3zM7 22h3v2h-3zM44 7h2v1h-2zM44 24h2v1h-2zM33 29h2v1h-2zM23 44h1v1h-1zM4 35h1v2h-1zM19 0h1v2h-1zM9 3h3v2h-3zM39 31h1v2h-1zM26 8h2v1h-2zM44 31h1v2h-1zM10 5h2v1h-2zM6 7h1v1h-1zM44 38h2v2h-2zM38 33h2v1h-2zM43 2h1v2h-1zM23 42h1v1h-1zM4 27h1v1h-1zM46 7h1v1h-1zM10 21h3v2h-3zM14 27h2v2h-2zM29 1h1v1h-1zM44 21h1v2h-1zM1 17h2v1h-2zM2 16h1v2h-1zM41 4h3v1h-3zM31 14h1v2h-1zM29 17h3v1h-3zM13 33h2v1h-2zM37 34h2v1h-2zM17 41h1v2h-1zM12 16h1v2h-1zM47 25h1v1h-1zM27 20h1v2h-1zM47 27h1v1h-1zM33 35h2v2h-2zM18 22h2v1h-2zM9 22h2v2h-2zM13 11h1v1h-1zM1 31h1v2h-1zM3 14h2v2h-2zM44 47h1v1h-1zM31 38h2v1h-2zM2 18h2v1h-2zM36 40h2v1h-2zM7 39h1v2h-1zM37 17h1v1h-1zM24 18h3v2h-3zM45 20h2v1h-2zM26 31h2v1h-2zM28 12h2v2h-2zM47 10h1v2h-1zM21 38h1v2h-1zM9 24h2v2h-2zM24 0h2v1h-2zM39 1h1v1h-1zM18 19h1v1h-1zM21 16h1v2h-1zM16 25h2v2h-2zM35 38h1v2h-1zM7 3h3v2h-3zM43 6h3v1h-3zM28 9h2v1h-2zM24 13h3v1h-3zM10 8h1v2h-1zM21 28h1v2h-1zM27 4h1v2h-1zM19 19h2v1h-2zM20 3h3v1h-3zM29 4h1v2h-1zM38 38h1v1h-1zM18 24h3v2h-3zM16 24h1v2h-1zM11 19h2v1h-2zM44 9h3v2h-3zM4 5h3v2h-3zM23 39h3v2h-3zM35 41h1v2h-1zM27 29h1v1h-1zM44 31h2v1h-2zM0 28h1v1h-1zM30 5h3v1h-3zM5 26h2v1h-2zM24 5h1v2h-1zM19 29h2v2h-2zM39 34h2v2h-2zM38 30h1v1h-1zM46 24h2v1h-2zM26 45h2v2h-2zM37 44h2v1h-2zM6 37h2v1h-2zM28 8h1v2h-1zM19 41h1v1h-1z"/><path fill="#aaaaaa" d="M24 43h1v1h-1zM21 1h2v1h-2zM9 36h2v2h-2zM34 18h1v1h-1zM0 11h1v1h-1zM4 32h2v1h-2zM38 6h1v1h-1zM47 11h1v1h-1zM34 19h3v1h-3zM20 34h1v1h-1zM16 47h2v1h-2zM8 31h1v1h-1zM16 33h1v1h-1zM31 3h2v1h-2zM40 17h3v2h-3zM44 13h1v1h-1zM44 37h2v1h-2zM19 12h1v1h-1zM22 32h3v1h-3zM44 0h3v2h-3zM14 1h2v1h-2zM4 29h3v1h-3zM3 13h2v1h-2zM32 9h1v2h-1zM47 47h1v1h-1zM21 31h1v2h-1zM17 47h2v1h-2zM2 20h1v1h-1zM0 44h2v1h-2zM3 25h2v1h-2zM21 40h3v1h-3zM11 5h2v2h-2zM13 6h2v1h-2zM26 2h2v1h-2zM20 5h3v1h-3zM22 19h1v1h-1zM7 10h1v2h-1zM7 15h1v1h-1zM32 9h2v1h-2zM39 5h2v2h-2zM19 3h2v1h-2zM9 1h2v2h-2zM8 19h1v1h-1zM44 17h1v2h-1zM14 22h2v1h-2zM41 15h2v1h-2zM32 21h3v2h-3zM13 2h2v2h-2zM24 8h2v2h-2zM2 12h1v1h-1zM3 7h1v1h-1zM33 16h1v1h-1zM1 4h1v2h-1zM38 31h2v1h-2zM16 39h3v1h-3zM40 30h1v2h-1zM19 42h1v2h-1zM46 45h1v1h-1zM7 30h1v2h-1zM11 39h3v1h-3zM45 22h1v1h-1zM47 33h1v1h-1zM12 11h1v2h-1zM8 27h2v2h-2zM2 5h3v2h-3zM46 29h2v1h-2zM5 45h1v1h-1zM27 13h3v1h-3zM42 31h1v1h-1zM0 19h2v2h-2zM9 19h3v2h-3zM28 27h1v1h-1zM6 26h1v2h-1zM35 17h1v2h-1zM28 33h2v2h-2zM32 35h1v2h-1zM11 35h2v1h-2zM16 12h3v1h-3zM3 22h1v2h-1zM12 40h1v2h-1zM4 16h1v2h-1zM24 9h2v2h-2zM13 32h1v1h-1zM4 34h1v1h-1zM22 4h1v1h-1zM9 5h3v1h-3zM7 27h1v1h-1zM14 30h3v1h-3zM13 20h2v1h-2zM11 23h2v2h-2zM41 12h1v2h-1zM43 2h2v1h-2zM30 14h1v1h-1zM27 35h3v2h-3zM44 25h2v1h-2zM18 3h1v2h-1zM41 21h2v1h-2zM26 10h2v2h-2zM10 38h3v1h-3zM21 43h2v2h-2zM31 41h2v1h-2zM29 22h2v1h-2zM8 21h3v1h-3zM8 20h3v1h-3zM5 9h3v1h-3zM11 26h1v2h-1zM43 29h1v2h-1zM0 13h3v1h-3zM2 35h1v1h-1zM14 23h1v1h-1zM33 6h1v1h-1zM4 37h3v1h-3zM0 28h2v2h-2zM28 30h1v1h-1zM32 30h2v1h-2zM38 19h1v2h-1zM13 46h1v2h-1z"/><path fill="#b6b6b6" d="M41 45h1v2h-1zM10 8h1v1h-1zM37 44h1v1h-1zM45 7h1v1h-1zM23 4h1v1h-1zM7 9h1v1h-1zM13 35h2v2h-2zM17 22h1v2h-1zM4 23h1v2h-1zM15 47h2v1h-2zM0 36h1v1h-1zM24 46h1v2h-1zM23 40h3v1h-3zM19 17h1v2h-1zM22 6h1v1h-1zM20 4h2v1h-2zM41 3h1v2h-1zM20 9h2v1h-2zM41 9h1v1h-1zM16 4h1v1h-1zM5 41h1v2h-1zM24 0h1v2h-1zM17 7h1v1h-1zM12 9h1v2h-1zM27 23h2v1h-2zM0 26h1v1h-1zM23 1h3v2h-3zM33 37h1v1h-1zM0 10h3v2h-3zM29 9h1v1h-1zM32 32h1v1h-1zM36 32h1v1h-1zM10 33h2v2h-2zM25 14h3v1h-3zM23 38h3v1h-3zM13 38h2v1h-2zM11 31h1v2h-1zM3 5h1v1h-1zM35 47h1v1h-1zM12 0h1v1h-1zM28 36h2v1h-2zM36 2h1v1h-1zM14 11h2v1h-2zM13 12h2v2h-2zM45 18h2v2h-2zM34 16h3v1h-3zM4 17h1v1h-1zM34 42h3v2h-3zM30 28h3v1h-3zM46 13h2v2h-2zM33 43h1v1h-1zM27 1h2v1h-2zM16 3h2v1h-2zM14 21h1v1h-1zM11 19h1v1h-1zM13 10h2v1h-2zM21 8h1v1h-1zM46 42h2v1h-2zM18 30h2v1h-2zM37 25h2v1h-2zM10 19h1v1h-1zM27 34h2v1h-2zM39 42h1v1h-1zM4 31h2v1h-2zM20 42h2v2h-2zM2 1h2v2h-2zM16 18h2v1h-2zM26 25h1v2h-1zM44 9h2v1h-2zM41 17h3v1h-3zM21 3h1v1h-1zM29 3h1v1h-1zM37 23h1v1h-1zM25 4h1v1h-1zM43 26h3v2h-3zM11 35h1v2h-1zM20 40h1v1h-1zM42 4h3v1h-3zM38 5h2v2h-2zM13 41h2v1h-2zM47 23h1v1h-1zM34 10h1v1h-1zM46 32h1v1h-1zM44 23h1v1h-1zM40 1h3v1h-3zM39 45h1v2h-1zM21 13h2v2h-2zM1 28h2v1h-2zM39 20h1v2h-1zM30 22h2v2h-2zM13 20h1v1h-1zM6 20h1v2h-1zM18 14h2v1h-2zM15 23h1v1h-1zM19 16h1v1h-1zM19 26h2v1h-2zM35 43h2v2h-2zM4 7h1v2h-1zM34 27h2v2h-2zM13 28h3v2h-3zM38 4h1v1h-1zM36 19h2v2h-2zM1 23h2v1h-2zM27 37h2v1h-2zM42 8h1v1h-1zM45 6h3v1h-3zM47 26h1v1h-1zM8 41h1v1h-1zM17 28h3v1h-3zM7 0h3v1h-3zM30 43h2v1h-2zM34 46h1v2h-1zM2 8h2v2h-2zM43 16h2v1h-2zM8 5h2v2h-2zM7 23h3v2h-3zM3 43h2v1h-2zM13 0h2v1h-2zM30 38h2v1h-2zM3 34h1v1h-1zM29 38h2v1h-2zM32 15h1v2h-1zM15 10h2v2h-2zM23 7h3v1h-3zM12 18h2v1h-2zM46 30h1v1h-1zM11 26h2v1h-2zM40 39h1v1h-1zM5 13h1v1h-1zM5 0h2v1h-2zM5 15h1v2h-1zM23 29h2v2h-2zM2 33h2v2h-2zM21 11h1v1h-1zM6 16h1v1h-1zM4 3h1v1h-1zM38 1h3v1h-3zM9 31h1v2h-1zM38 45h1v2h-1zM6 15h1v1h-1zM45 37h2v1h-2zM32 17h2v2h-2z"/><path fill="#8e8e8e" d="M21 13h2v1h-2zM14 41h1v1h-1zM26 16h3v2h-3zM22 46h2v1h-2zM14 25h3v2h-3zM6 35h1v1h-1zM36 36h1v1h-1zM17 20h1v1h-1zM12 26h2v1h-2zM17 12h1v1h-1zM34 42h1v1h-1zM27 30h1v1h-1zM45 11h1v1h-1zM9 46h3v2h-3zM7 47h3v1h-3zM27 42h2v1h-2zM32 2h2v2h-2zM34 0h2v1h-2zM46 12h2v2h-2zM47 45h1v1h-1zM18 5h3v2h-3zM14 30h2v1h-2zM23 26h1v1h-1zM1 42h3v1h-3zM42 46h2v1h-2zM15 15h2v1h-2zM18 33h2v1h-2zM13 16h2v1h-2zM23 5h2v1h-2zM22 41h2v1h-2zM18 41h1v1h-1zM37 34h1v2h-1zM43 44h2v1h-2zM24 37h2v2h-2zM37 9h2v2h-2zM40 16h1v2h-1zM24 15h3v1h-3zM39 4h2v1h-2zM22 36h1v2h-1zM16 35h1v1h-1zM43 33h2v1h-2zM0 23h1v1h-1zM9 13h1v1h-1zM5 43h2v1h-2zM35 37h3v1h-3zM0 3h2v1h-2zM37 7h1v2h-1zM9 30h3v1h-3zM39 35h1v2h-1zM22 9h2v2h-2zM40 43h1v1h-1zM35 7h2v2h-2zM43 0h3v1h-3zM17 31h2v2h-2zM5 17h1v1h-1zM12 41h1v2h-1zM30 41h2v2h-2zM47 46h1v1h-1zM31 40h2v1h-2zM6 45h2v1h-2zM18 33h3v2h-3zM5 7h2v1h-2zM29 3h2v1h-2zM0 17h2v2h-2zM25 41h1v2h-1zM15 3h2v1h-2zM1 24h1v2h-1zM1 14h3v2h-3zM23 42h2v1h-2zM26 19h2v1h-2zM47 30h1v2h-1zM42 24h3v2h-3zM14 46h2v2h-2zM36 45h2v1h-2zM22 27h1v1h-1zM16 45h3v2h-3zM33 31h1v1h-1zM6 38h1v1h-1zM34 23h2v2h-2zM44 43h1v1h-1zM11 7h1v1h-1zM43 32h1v1h-1zM44 45h2v1h-2zM24 23h2v1h-2zM18 1h1v1h-1zM2 41h1v2h-1zM34 7h1v1h-1zM45 40h1v1h-1zM29 47h1v1h-1zM24 45h3v1h-3zM40 42h3v2h-3zM24 29h1v1h-1zM39 2h1v1h-1zM14 18h1v1h-1zM4 10h2v1h-2zM44 46h3v1h-3zM45 14h2v1h-2zM35 25h1v1h-1zM28 18h3v1h-3zM25 43h2v1h-2zM2 38h1v1h-1zM44 32h2v2h-2zM26 15h3v1h-3zM6 4h1v2h-1zM31 12h1v1h-1zM15 29h2v2h-2zM20 20h1v2h-1zM5 29h3v1h-3zM33 33h2v2h-2zM19 7h2v1h-2zM26 0h2v2h-2zM38 12h2v2h-2zM3 37h3v2h-3zM28 31h1v1h-1zM14 7h2v1h-2zM18 18h1v1h-1zM38 21h2v1h-2zM29 43h1v1h-1zM1 26h1v1h-1zM6 22h2v1h-2zM45 15h1v1h-1z"/></pattern><pattern id="sp4" patternUnits="userSpaceOnUse" x="0" y="0" width="48" height="48"><path fill="#9c9c9c" d="M13 11h1v2h-1zM36 43h1v2h-1zM42 3h3v2h-3zM42 29h2v1h-2zM39 23h1v1h-1zM29 40h2v2h-2zM20 17h1v2h-1zM36 19h3v1h-3zM3 28h2v1h-2zM47 45h1v1h-1zM38 37h1v1h-1zM32 44h1v1h-1zM23 13h1v1h-1zM5 14h1v1h-1zM34 27h1v1h-1zM22 38h2v2h-2zM4 10h1v2h-1zM0 22h1v1h-1zM6 22h2v1h-2zM44 31h1v1h-1zM30 18h1v2h-1zM46 24h1v1h-1zM46 28h2v1h-2zM38 30h2v1h-2zM28 9h2v1h-2zM9 43h2v2h-2zM6 8h1v1h-1zM39 37h3v2h-3zM1 12h1v1h-1zM13 13h1v1h-1zM5 25h1v2h-1zM35 22h1v2h-1zM16 41h1v1h-1zM29 17h1v1h-1zM42 1h1v1h-1zM27 8h2v1h-2zM33 29h2v1h-2zM39 10h2v1h-2zM42 35h1v1h-1zM22 23h2v1h-2zM39 34h2v2h-2zM38 43h1v1h-1zM5 22h1v1h-1zM30 23h1v1h-1zM16 5h3v2h-3zM2 7h1v1h-1zM5 47h1v1h-1zM25 14h1v2h-1zM8 35h1v1h-1zM46 31h2v1h-2zM1 32h1v1h-1zM15 11h1v2h-1zM4 27h2v2h-2zM4 4h3v1h-3zM33 18h3v2h-3zM38 23h3v1h-3zM9 47h1v1h-1zM27 43h2v1h-2zM45 11h2v1h-2zM26 10h2v1h-2zM22 20h1v1h-1zM21 40h3v1h-3zM43 6h3v1h-3zM33 34h1v2h-1zM18 21h2v1h-2zM19 34h1v2h-1zM31 27h1v2h-1zM20 12h2v2h-2zM4 18h3v1h-3zM2 43h2v1h-2zM23 46h3v2h-3zM40 2h2v1h-2zM30 0h1v1h-1zM17 23h3v1h-3zM20 3h3v1h-3zM28 27h1v1h-1zM41 38h2v2h-2zM31 35h2v2h-2zM24 20h1v2h-1zM28 5h1v1h-1zM41 18h1v1h-1zM43 39h1v2h-1zM27 25h1v2h-1zM25 7h1v1h-1zM0 38h2v2h-2zM5 27h3v1h-3zM31 37h1v1h-1zM25 18h3v1h-3zM17 9h2v2h-2zM19 4h1v1h-1zM31 2h2v2h-2zM46 23h2v1h-2zM7 44h2v1h-2zM37 42h3v1h-3zM3 18h1v2h-1zM5 34h3v1h-3zM9 31h2v1h-2zM37 4h1v2h-1zM0 44h1v2h-1zM14 33h2v1h-2zM8 4h2v2h-2zM26 28h3v1h-3zM46 29h1v1h-1zM33 3h2v2h-2zM2 0h2v1h-2zM31 5h2v2h-2zM20 46h2v2h-2zM46 26h1v1h-1zM27 45h1v2h-1zM39 47h2v1h-2zM46 23h2v2h-2zM17 35h3v2h-3zM44 21h1v1h-1zM47 25h1v2h-1zM4 13h2v1h-2zM35 12h1v1h-1zM2 46h2v2h-2zM27 36h2v2h-2zM30 30h2v1h-2zM4 34h2v1h-2zM13 31h3v1h-3zM6 20h2v2h-2zM3 1h1v2h-1zM1 10h1v1h-1zM45 24h2v2h-2zM24 4h3v2h-3zM11 25h2v1h-2zM13 0h2v1h-2zM6 45h3v2h-3zM7 36h2v1h-2zM28 6h1v2h-1zM35 3h2v1h-2zM9 26h1v2h-1zM32 24h2v2h-2zM20 18h2v2h-2zM8 38h3v1h-3zM16 4h1v1h-1zM41 23h2v2h-2zM4 16h2v2h-2zM33 42h1v1h-1zM11 47h3v1h-3zM0 47h2v1h-2zM12 41h1v1h-1zM21 35h2v2h-2zM18 27h2v1h-2zM2 38h1v1h-1zM47 1h1v1h-1zM45 19h2v1h-2zM37 10h2v1h-2zM45 9h2v1h-2zM15 37h1v1h-1zM14 25h1v1h-1zM20 44h1v1h-1zM33 42h3v2h-3zM35 10h2v1h-2zM16 32h1v1h-1zM4 5h1v1h-1zM12 10h1v1h-1zM12 36h2v1h-2zM4 1h3v1h-3zM17 43h3v1h-3zM20 43h2v1h-2zM31 29h3v2h-3zM2 19h1v2h-1zM8 6h2v1h-2zM4 42h2v2h-2zM34 2h2v2h-2zM4 41h2v1h-2zM25 44h1v1h-1zM18 1h2v1h-2z"/><path fill="#aaaaaa" d="M3 37h3v1h-3zM43 35h3v1h-3zM0 25h1v1h-1zM14 26h3v2h-3zM43 1h3v2h-3zM29 29h1v2h-1zM37 12h1v2h-1zM2 21h2v2h-2zM22 18h3v2h-3zM8 15h3v1h-3zM29 38h2v1h-2zM43 7h1v2h-1zM44 26h1v2h-1zM39 24h1v1h-1zM23 35h1v1h-1zM9 32h2v1h-2zM34 31h1v1h-1zM13 27h1v2h-1zM34 15h3v1h-3zM39 35h1v2h-1zM29 5h2v1h-2zM22 36h1v1h-1zM12 16h3v2h-3zM2 37h2v1h-2zM4 6h1v2h-1zM40 46h1v2h-1zM15 41h2v1h-2zM43 10h2v2h-2zM44 14h3v1h-3zM0 12h3v1h-3zM27 31h3v2h-3zM7 1h1v2h-1zM27 30h3v1h-3zM10 1h1v1h-1zM5 41h2v1h-2zM28 4h3v1h-3zM36 38h2v1h-2zM31 10h2v1h-2zM29 39h3v1h-3zM35 14h1v2h-1zM30 31h2v2h-2zM37 6h1v2h-1zM26 27h2v1h-2zM14 37h1v1h-1zM29 12h2v2h-2zM20 9h2v2h-2zM33 15h1v1h-1zM0 30h1v2h-1zM35 29h1v1h-1zM36 38h1v2h-1zM26 29h2v1h-2zM5 44h2v2h-2zM18 15h3v2h-3zM20 13h1v1h-1zM0 17h3v1h-3zM41 43h2v2h-2zM21 47h1v1h-1zM30 24h3v1h-3zM21 29h1v1h-1zM46 3h2v1h-2zM44 7h1v1h-1zM34 8h3v1h-3zM29 16h2v2h-2zM45 15h3v2h-3zM10 17h2v2h-2zM18 32h1v1h-1zM39 45h2v2h-2zM30 6h1v2h-1zM2 41h1v2h-1zM7 11h3v1h-3zM47 10h1v2h-1zM1 19h2v1h-2zM10 42h3v1h-3zM19 8h1v2h-1zM22 0h1v1h-1zM27 19h2v2h-2zM13 40h2v2h-2zM4 20h1v1h-1zM30 38h2v1h-2zM4 40h2v1h-2zM30 11h2v1h-2zM36 14h1v2h-1zM15 38h1v2h-1zM37 29h1v2h-1zM27 24h2v1h-2zM34 23h2v1h-2zM34 39h2v2h-2zM16 42h2v1h-2zM2 14h2v2h-2zM38 31h1v2h-1zM42 34h1v2h-1zM11 26h1v2h-1zM12 38h2v1h-2zM14 28h1v1h-1zM41 25h1v1h-1zM15 47h1v1h-1zM30 41h2v2h-2zM18 1h1v1h-1zM22 36h2v1h-2zM15 16h3v1h-3zM43 0h1v1h-1zM20 0h1v1h-1zM7 19h2v1h-2zM47 22h1v2h-1zM31 17h1v2h-1zM6 26h2v2h-2zM41 31h3v2h-3zM39 31h1v2h-1zM26 16h2v1h-2zM46 39h2v1h-2zM24 34h1v1h-1zM10 29h3v2h-3zM32 31h2v2h-2zM7 0h1v2h-1zM13 13h3v2h-3zM21 10h1v2h-1zM12 11h1v1h-1zM5 28h3v1h-3zM2 29h1v1h-1zM23 10h3v1h-3zM36 13h2v2h-2zM16 28h1v1h-1zM34 5h1v1h-1zM42 39h1v2h-1zM7 37h3v1h-3zM39 32h3v1h-3zM41 33h1v2h-1zM3 34h1v1h-1zM24 19h2v1h-2zM23 28h1v1h-1zM44 46h2v2h-2zM17 19h1v2h-1zM8 1h3v2h-3zM17 33h2v1h-2zM30 29h1v1h-1zM46 14h2v1h-2zM42 8h2v1h-2zM43 9h2v1h-2zM0 13h2v2h-2zM26 21h1v1h-1zM1 43h1v1h-1zM11 24h1v1h-1zM11 19h1v2h-1zM40 41h2v2h-2zM30 45h2v1h-2zM27 6h2v2h-2zM17 24h2v2h-2zM6 40h1v1h-1zM8 39h2v2h-2zM17 4h3v1h-3zM17 45h1v1h-1zM27 1h2v1h-2zM33 17h1v1h-1zM11 15h2v1h-2z"/><path fill="#b6b6b6" d="M47 40h1v1h-1zM2 44h2v2h-2zM42 20h3v1h-3zM46 19h2v1h-2zM5 21h3v1h-3zM5 38h2v1h-2zM36 33h1v1h-1zM0 33h1v1h-1zM21 31h2v2h-2zM19 47h2v1h-2zM8 24h1v2h-1zM16 6h1v1h-1zM31 1h2v2h-2zM26 32h2v1h-2zM10 3h3v2h-3zM15 44h1v1h-1zM43 46h1v1h-1zM8 28h1v2h-1zM15 8h2v1h-2zM8 18h1v1h-1zM41 38h1v2h-1zM11 31h3v1h-3zM30 28h1v1h-1zM27 18h1v1h-1zM35 36h2v1h-2zM28 35h3v1h-3zM47 8h1v1h-1zM10 2h1v2h-1zM39 12h3v2h-3zM46 38h2v1h-2zM39 14h2v2h-2zM6 24h2v2h-2zM18 7h2v1h-2zM33 44h2v1h-2zM46 6h2v1h-2zM35 13h1v1h-1zM22 9h2v1h-2zM27 47h2v1h-2zM25 32h2v1h-2zM10 36h2v1h-2zM41 15h2v1h-2zM28 14h2v1h-2zM15 39h3v2h-3zM31 43h1v2h-1zM6 29h1v1h-1zM0 43h1v1h-1zM44 6h1v1h-1zM5 32h1v1h-1zM16 7h2v2h-2zM33 22h2v1h-2zM45 43h2v1h-2zM43 28h2v2h-2zM35 33h2v1h-2zM41 9h1v1h-1zM47 44h1v1h-1zM42 20h1v2h-1zM23 24h1v1h-1zM42 5h1v1h-1zM15 17h2v1h-2zM19 14h1v1h-1zM19 27h2v2h-2zM43 34h1v1h-1zM36 7h2v1h-2zM17 31h1v1h-1zM43 40h3v1h-3zM8 17h2v1h-2zM41 17h2v1h-2zM30 13h3v1h-3zM40 33h2v1h-2zM33 34h2v1h-2zM9 22h1v2h-1zM29 9h1v2h-1zM19 44h1v1h-1zM31 5h1v1h-1zM0 28h2v1h-2zM29 22h1v1h-1zM11 26h2v1h-2zM12 3h2v2h-2zM31 43h3v1h-3zM31 18h2v1h-2zM9 11h2v1h-2zM47 17h1v2h-1zM19 6h1v1h-1zM43 36h2v1h-2zM47 34h1v2h-1zM29 2h1v2h-1zM44 5h1v1h-1zM40 38h1v2h-1zM26 36h1v1h-1zM0 36h1v1h-1zM15 6h1v2h-1zM13 42h3v2h-3zM42 42h1v2h-1zM25 39h1v1h-1zM5 16h2v1h-2zM14 4h2v1h-2zM13 9h1v1h-1zM12 8h2v1h-2zM5 2h2v1h-2zM10 28h1v1h-1zM17 35h1v2h-1zM18 37h2v2h-2zM38 41h1v2h-1zM38 40h3v1h-3zM33 20h1v2h-1zM1 14h2v2h-2zM6 0h1v1h-1zM41 2h3v1h-3zM4 35h2v1h-2zM39 7h1v1h-1zM1 28h2v1h-2zM31 26h2v2h-2zM28 1h1v2h-1zM22 11h3v1h-3zM6 34h2v2h-2zM26 41h1v1h-1zM16 9h1v1h-1zM43 39h2v1h-2zM11 5h2v2h-2zM32 30h1v2h-1zM17 37h1v1h-1zM24 23h1v1h-1zM7 29h1v2h-1zM23 37h2v1h-2zM44 12h1v1h-1zM34 2h1v1h-1zM17 32h1v2h-1zM38 6h1v1h-1zM47 47h1v1h-1zM10 5h1v2h-1zM30 36h1v1h-1zM7 21h2v1h-2zM35 3h2v2h-2zM42 24h1v2h-1zM20 17h3v2h-3zM3 11h3v1h-3zM9 37h3v2h-3zM16 8h3v1h-3zM16 29h2v1h-2zM20 37h1v1h-1zM39 2h3v2h-3zM3 3h1v2h-1zM42 47h1v1h-1zM23 12h1v2h-1zM46 32h2v2h-2zM38 20h2v2h-2zM14 27h2v2h-2zM32 39h1v2h-1zM1 11h1v1h-1zM47 41h1v2h-1zM9 47h3v1h-3zM34 12h1v1h-1zM3 4h2v2h-2zM5 0h2v1h-2zM34 0h3v2h-3zM22 26h2v1h-2zM44 40h1v2h-1zM7 17h1v1h-1zM14 2h1v2h-1zM7 42h3v2h-3z"/><path fill="#8e8e8e" d="M2 25h1v2h-1zM3 40h1v1h-1zM29 13h1v1h-1zM41 20h2v1h-2zM35 20h1v1h-1zM44 34h1v1h-1zM36 6h2v1h-2zM8 3h3v1h-3zM2 41h2v1h-2zM44 18h1v1h-1zM5 37h2v1h-2zM10 31h2v1h-2zM28 7h1v2h-1zM16 0h2v2h-2zM3 33h1v1h-1zM40 10h3v2h-3zM22 12h1v1h-1zM47 5h1v1h-1zM3 7h2v2h-2zM8 7h2v1h-2zM6 18h1v2h-1zM33 45h1v2h-1zM30 39h1v1h-1zM23 16h2v2h-2zM24 28h2v1h-2zM36 9h2v2h-2zM3 11h1v2h-1zM28 45h2v1h-2zM18 0h1v1h-1zM29 46h2v1h-2zM1 15h1v2h-1zM35 45h1v1h-1zM38 16h1v1h-1zM14 4h1v1h-1zM29 26h3v2h-3zM35 27h2v1h-2zM8 20h2v1h-2zM35 46h2v1h-2zM32 6h2v1h-2zM28 16h1v2h-1zM38 35h1v1h-1zM15 29h1v1h-1zM24 1h3v2h-3zM46 7h1v1h-1zM23 15h1v1h-1zM45 31h1v1h-1zM1 23h2v1h-2zM39 9h2v2h-2zM39 3h3v1h-3zM2 24h1v1h-1zM46 17h2v1h-2zM6 10h3v1h-3zM23 3h3v1h-3zM36 27h2v2h-2zM32 32h3v1h-3zM25 28h1v2h-1zM5 32h2v2h-2zM5 42h1v2h-1zM16 46h3v1h-3zM9 7h3v2h-3zM5 24h3v1h-3zM36 5h2v2h-2zM32 29h1v1h-1zM28 11h3v1h-3zM36 30h1v1h-1zM37 43h1v1h-1zM16 23h3v1h-3zM8 11h1v2h-1zM38 9h2v1h-2zM38 36h2v1h-2zM37 39h2v1h-2zM41 27h1v2h-1zM14 46h2v1h-2zM44 30h2v2h-2zM14 45h1v2h-1zM0 20h1v1h-1zM32 40h2v1h-2zM44 45h1v2h-1zM3 18h2v2h-2zM0 20h2v2h-2zM46 20h2v1h-2zM40 0h3v1h-3zM32 24h2v1h-2zM42 22h2v1h-2zM16 45h1v2h-1zM5 7h3v1h-3zM29 20h3v1h-3zM22 4h3v1h-3zM6 6h1v2h-1zM1 44h1v1h-1zM30 34h2v1h-2zM1 33h1v1h-1zM7 2h1v2h-1zM47 9h1v2h-1zM25 35h3v2h-3zM42 23h2v1h-2zM27 44h2v2h-2zM20 25h2v2h-2zM4 6h2v2h-2zM42 29h1v2h-1zM44 20h2v2h-2zM3 43h2v1h-2zM8 0h1v1h-1zM23 1h1v2h-1zM23 29h1v1h-1zM45 43h3v2h-3zM37 0h1v1h-1zM34 16h2v1h-2zM36 8h3v2h-3zM42 14h1v1h-1zM34 45h1v2h-1zM35 12h2v1h-2zM35 47h1v1h-1zM44 32h2v2h-2zM34 32h1v2h-1zM7 31h1v1h-1zM39 18h2v1h-2zM10 21h2v1h-2zM28 40h1v1h-1zM16 11h1v2h-1zM13 19h1v1h-1zM27 13h1v2h-1zM29 15h3v1h-3zM40 36h1v1h-1zM41 19h2v2h-2zM35 18h2v2h-2zM16 36h2v2h-2zM43 4h1v2h-1zM27 34h2v1h-2zM31 29h1v1h-1zM38 33h2v1h-2zM41 34h2v2h-2zM9 36h1v2h-1zM20 34h2v1h-2zM32 12h1v1h-1zM11 28h2v1h-2zM8 38h2v2h-2zM35 35h1v2h-1zM26 46h1v1h-1zM20 7h1v2h-1zM9 9h1v2h-1zM4 7h2v2h-2zM12 2h1v1h-1zM7 16h1v1h-1zM11 45h1v2h-1zM44 3h2v2h-2zM19 32h3v1h-3zM40 12h3v2h-3zM15 44h2v1h-2zM23 12h3v1h-3zM35 6h2v1h-2zM43 11h1v2h-1zM32 8h1v1h-1zM16 21h1v1h-1zM11 18h2v1h-2z"/></pattern><pattern id="sp5" patternUnits="userSpaceOnUse" x="0" y="0" width="48" height="48"><path fill="#9c9c9c" d="M35 42h2v2h-2zM41 8h3v2h-3zM10 45h1v2h-1zM29 7h1v2h-1zM47 44h1v1h-1zM8 32h1v1h-1zM23 14h2v1h-2zM13 25h1v1h-1zM35 11h2v1h-2zM34 46h1v1h-1zM45 0h2v1h-2zM43 36h2v1h-2zM0 32h1v2h-1zM24 11h1v2h-1zM5 11h1v1h-1zM46 21h1v2h-1zM19 36h1v1h-1zM19 35h1v1h-1zM42 4h1v2h-1zM20 19h1v1h-1zM47 6h1v2h-1zM23 25h2v1h-2zM8 33h2v1h-2zM4 28h2v2h-2zM30 46h2v1h-2zM27 19h2v1h-2zM32 45h3v1h-3zM16 26h1v2h-1zM9 19h1v2h-1zM15 46h1v1h-1zM41 38h3v1h-3zM7 32h1v2h-1zM4 17h1v1h-1zM44 0h1v2h-1zM35 4h2v2h-2zM44 2h2v2h-2zM19 18h1v2h-1zM11 46h1v1h-1zM25 23h2v2h-2zM39 35h3v1h-3zM9 10h2v1h-2zM44 40h1v1h-1zM38 28h3v1h-3zM41 3h1v1h-1zM33 31h1v1h-1zM35 34h1v1h-1zM43 30h1v2h-1zM30 32h1v1h-1zM12 29h1v2h-1zM46 4h2v1h-2zM37 25h1v1h-1zM9 27h2v1h-2zM39 34h1v1h-1zM0 36h2v1h-2zM13 36h2v1h-2zM42 45h3v2h-3zM39 11h2v1h-2zM40 37h3v1h-3zM5 2h2v1h-2zM12 24h3v1h-3zM32 42h1v1h-1zM9 36h3v2h-3zM41 25h2v1h-2zM23 24h1v2h-1zM27 0h2v1h-2zM17 12h2v1h-2zM21 2h2v1h-2zM17 4h1v1h-1zM17 3h1v1h-1zM0 9h1v2h-1zM32 9h2v2h-2zM37 12h1v1h-1zM37 5h3v1h-3zM47 9h1v2h-1zM11 19h2v1h-2zM41 20h1v1h-1zM22 6h2v1h-2zM30 13h1v2h-1zM11 32h2v1h-2zM20 39h2v1h-2zM11 3h2v1h-2zM18 40h1v1h-1zM12 10h1v2h-1zM25 27h2v2h-2zM11 29h2v1h-2zM7 27h1v1h-1zM42 44h2v1h-2zM5 15h2v2h-2zM33 1h1v1h-1zM27 6h1v1h-1zM2 32h3v2h-3zM46 7h2v2h-2zM40 46h1v1h-1zM8 18h2v1h-2zM39 45h2v2h-2zM42 30h2v1h-2zM6 30h2v1h-2zM6 38h3v2h-3zM16 22h3v1h-3zM41 40h2v1h-2zM20 28h2v2h-2zM26 13h1v1h-1zM4 35h2v2h-2zM14 22h3v2h-3zM9 47h2v1h-2zM7 26h3v2h-3zM0 20h3v2h-3zM29 29h2v2h-2zM14 7h2v1h-2zM31 17h2v1h-2zM40 3h1v1h-1zM40 38h2v1h-2zM13 35h1v1h-1zM20 15h1v1h-1zM35 11h1v2h-1zM44 40h2v1h-2zM36 13h1v1h-1zM25 46h3v1h-3zM37 14h1v2h-1zM13 20h1v2h-1zM40 32h3v1h-3zM4 18h1v1h-1zM10 28h2v2h-2zM4 17h2v1h-2zM6 13h1v1h-1zM1 6h1v1h-1zM12 18h3v2h-3zM46 1h2v2h-2zM40 0h1v2h-1zM0 17h2v1h-2zM44 42h2v1h-2zM39 16h1v2h-1zM7 40h1v1h-1zM15 47h3v1h-3zM37 41h1v2h-1zM6 13h1v2h-1zM15 3h3v1h-3zM32 38h1v1h-1zM31 27h2v1h-2zM2 6h1v1h-1zM36 2h2v1h-2zM3 22h2v1h-2zM30 19h1v1h-1zM3 43h1v2h-1zM19 38h1v1h-1zM29 21h3v1h-3zM39 15h2v1h-2zM26 9h2v1h-2zM28 19h1v2h-1zM6 40h2v2h-2zM9 45h3v1h-3zM19 26h1v2h-1zM17 10h1v2h-1zM21 5h3v1h-3zM27 29h2v2h-2zM22 22h2v1h-2zM1 27h2v2h-2zM17 32h1v1h-1zM12 32h3v1h-3zM43 29h2v1h-2zM31 11h3v1h-3zM34 39h3v1h-3zM33 34h2v1h-2zM4 13h1v2h-1zM38 34h1v1h-1zM3 22h1v2h-1zM4 47h2v1h-2zM16 5h3v2h-3zM6 0h2v2h-2zM11 24h1v1h-1zM20 39h1v2h-1zM36 43h1v2h-1zM33 32h1v2h-1zM44 32h2v1h-2zM27 28h3v1h-3zM32 0h1v1h-1zM5 19h2v2h-2zM8 20h2v1h-2zM13 44h3v1h-3zM31 37h3v2h-3zM1 12h2v1h-2zM28 22h2v1h-2zM40 19h1v2h-1zM4 37h2v1h-2zM25 28h1v2h-1zM39 41h1v1h-1zM1 31h1v2h-1zM0 42h2v1h-2zM5 6h3v2h-3zM22 2h2v1h-2zM37 9h1v1h-1zM19 29h2v1h-2zM8 21h1v2h-1zM33 35h1v2h-1zM9 4h2v1h-2zM36 44h1v2h-1zM3 29h3v1h-3zM13 45h3v1h-3zM40 18h1v2h-1zM21 0h2v1h-2zM9 15h2v2h-2zM37 23h1v2h-1zM0 1h1v1h-1zM38 29h2v1h-2zM45 39h1v1h-1zM2 42h1v1h-1zM13 42h3v1h-3zM23 25h3v1h-3z"/><path fill="#aaaaaa" d="M38 21h1v1h-1zM16 22h1v1h-1zM4 7h1v2h-1zM44 22h1v2h-1zM28 46h2v1h-2zM27 3h3v1h-3zM13 23h1v1h-1zM46 24h2v1h-2zM22 26h1v1h-1zM35 10h1v1h-1zM29 30h1v2h-1zM16 19h2v1h-2zM19 18h2v1h-2zM5 23h2v1h-2zM12 15h1v1h-1zM4 44h1v1h-1zM26 32h1v2h-1zM34 28h1v2h-1zM37 26h1v2h-1zM8 47h1v1h-1zM5 8h2v1h-2zM1 44h1v1h-1zM42 20h2v1h-2zM27 29h1v1h-1zM21 43h3v1h-3zM21 12h2v2h-2zM11 6h3v2h-3zM15 36h3v2h-3zM10 21h1v1h-1zM1 2h1v2h-1zM9 10h1v1h-1zM45 46h2v1h-2zM27 8h3v1h-3zM16 1h3v1h-3zM35 22h3v1h-3zM11 15h2v1h-2zM6 43h1v2h-1zM32 46h2v1h-2zM4 26h2v1h-2zM17 39h2v1h-2zM43 43h3v2h-3zM45 32h1v1h-1zM3 39h2v1h-2zM37 29h2v1h-2zM38 38h1v1h-1zM18 6h1v2h-1zM14 5h2v1h-2zM23 21h3v2h-3zM37 31h2v1h-2zM44 5h2v1h-2zM38 46h2v1h-2zM6 22h2v1h-2zM19 11h2v1h-2zM42 18h2v1h-2zM10 27h1v2h-1zM2 24h1v1h-1zM34 3h2v1h-2zM40 22h1v2h-1zM47 27h1v2h-1zM38 24h1v1h-1zM8 22h2v1h-2zM18 37h1v2h-1zM17 11h2v1h-2zM8 44h1v1h-1zM11 25h1v2h-1zM16 42h3v1h-3zM25 36h2v2h-2zM10 20h1v1h-1zM22 9h2v1h-2zM12 33h1v1h-1zM46 46h2v2h-2zM45 41h2v1h-2zM47 21h1v2h-1zM7 41h1v2h-1zM36 35h2v2h-2zM32 36h2v1h-2zM45 28h3v1h-3zM22 47h1v1h-1zM30 10h2v1h-2zM38 10h1v2h-1zM13 3h3v1h-3zM8 3h1v2h-1zM8 11h3v2h-3zM0 39h2v2h-2zM27 35h1v2h-1zM23 8h1v1h-1zM23 36h2v2h-2zM15 13h3v1h-3zM12 23h2v1h-2zM5 16h3v1h-3zM27 42h1v1h-1zM45 17h1v1h-1zM47 36h1v1h-1zM13 9h2v1h-2zM0 12h2v2h-2zM24 44h2v1h-2zM38 13h1v1h-1zM14 15h2v1h-2zM17 43h1v1h-1zM19 8h2v1h-2zM39 7h1v1h-1zM16 46h2v2h-2zM7 15h2v1h-2zM39 37h1v1h-1zM42 24h1v2h-1zM19 43h1v2h-1zM9 32h1v2h-1zM30 15h3v1h-3zM24 23h1v1h-1zM23 35h1v1h-1zM33 14h1v1h-1zM33 32h3v1h-3zM20 33h3v2h-3zM16 33h1v1h-1zM14 40h3v2h-3zM2 3h1v1h-1zM4 38h2v1h-2zM27 15h2v1h-2zM12 36h2v1h-2zM33 29h3v1h-3zM22 23h2v2h-2zM16 37h1v2h-1zM33 13h1v2h-1zM32 22h3v2h-3zM29 15h3v1h-3zM14 31h1v1h-1zM32 40h1v2h-1zM25 34h3v1h-3zM26 29h2v1h-2zM39 37h1v2h-1zM39 22h1v1h-1zM19 45h1v2h-1zM38 23h2v1h-2zM0 34h3v1h-3zM0 11h1v1h-1zM47 39h1v2h-1zM24 47h1v1h-1zM29 44h1v1h-1zM10 33h2v1h-2zM4 20h2v1h-2zM19 0h1v1h-1zM11 40h3v1h-3zM36 46h1v1h-1zM40 19h1v1h-1zM24 12h3v1h-3zM29 1h1v2h-1zM13 47h2v1h-2zM38 36h2v1h-2zM37 43h2v1h-2zM43 33h1v2h-1zM39 25h3v2h-3zM42 14h2v2h-2zM0 27h3v1h-3zM2 4h2v1h-2zM46 39h2v1h-2zM3 26h1v2h-1zM1 15h2v1h-2zM32 16h3v1h-3zM44 24h1v1h-1zM4 11h1v1h-1zM25 3h3v2h-3zM30 35h1v1h-1zM46 41h2v2h-2zM19 7h1v1h-1zM8 37h2v2h-2zM12 28h1v1h-1zM28 32h2v1h-2zM46 15h2v1h-2zM31 38h2v2h-2zM21 14h1v1h-1zM21 8h1v2h-1zM33 0h2v1h-2zM36 0h1v1h-1zM1 19h2v1h-2zM18 46h1v1h-1zM11 0h2v2h-2zM12 22h2v1h-2zM25 37h1v2h-1zM17 35h1v1h-1zM12 33h3v2h-3zM28 34h1v1h-1zM17 40h1v2h-1zM1 37h2v2h-2zM27 22h2v2h-2zM46 40h1v2h-1zM1 24h2v2h-2zM2 5h3v1h-3zM12 35h1v1h-1zM22 40h1v1h-1zM3 4h2v1h-2zM20 26h3v1h-3zM27 45h1v2h-1zM31 3h2v1h-2zM30 45h1v1h-1zM26 5h2v2h-2z"/><path fill="#b6b6b6" d="M1 41h1v2h-1zM13 1h1v1h-1zM29 1h2v1h-2zM10 31h3v1h-3zM14 2h1v1h-1zM17 18h2v1h-2zM29 7h3v2h-3zM44 4h1v1h-1zM31 15h1v1h-1zM28 6h2v1h-2zM20 34h1v1h-1zM2 36h1v2h-1zM20 9h1v1h-1zM26 45h1v1h-1zM45 37h3v1h-3zM14 12h3v1h-3zM4 5h2v2h-2zM47 45h1v1h-1zM34 9h1v1h-1zM46 46h2v1h-2zM3 7h1v1h-1zM37 0h2v2h-2zM24 19h3v1h-3zM33 15h2v1h-2zM33 7h1v1h-1zM24 1h2v2h-2zM15 13h1v2h-1zM31 18h2v2h-2zM35 38h3v2h-3zM13 17h3v2h-3zM36 47h2v1h-2zM39 20h1v2h-1zM40 7h2v2h-2zM3 31h1v1h-1zM31 0h1v1h-1zM47 40h1v2h-1zM7 24h2v2h-2zM5 24h2v2h-2zM42 47h1v1h-1zM38 9h1v1h-1zM45 9h1v1h-1zM7 17h1v1h-1zM5 15h1v1h-1zM18 36h1v1h-1zM14 26h1v2h-1zM29 3h2v1h-2zM40 12h1v1h-1zM3 12h2v1h-2zM35 37h3v2h-3zM43 18h3v1h-3zM46 26h2v1h-2zM3 8h2v1h-2zM15 2h1v1h-1zM26 37h3v1h-3zM37 19h1v1h-1zM28 1h1v2h-1zM34 7h1v1h-1zM1 9h3v2h-3zM34 24h2v2h-2zM17 30h2v1h-2zM47 7h1v2h-1zM22 36h1v2h-1zM12 16h1v1h-1zM3 42h2v2h-2zM32 47h1v1h-1zM13 40h1v1h-1zM47 23h1v1h-1zM35 26h1v1h-1zM3 18h1v1h-1zM8 0h1v1h-1zM19 8h1v1h-1zM5 33h1v2h-1zM20 16h3v2h-3zM28 30h2v2h-2zM13 28h1v2h-1zM18 10h1v1h-1zM39 9h1v1h-1zM23 6h2v1h-2zM5 1h2v1h-2zM43 46h3v2h-3zM13 9h1v1h-1zM17 23h3v2h-3zM10 9h2v1h-2zM29 8h3v2h-3zM24 41h1v1h-1zM14 32h2v1h-2zM5 42h1v2h-1zM26 35h1v1h-1zM34 18h2v1h-2zM23 13h3v1h-3zM24 31h2v2h-2zM36 33h1v1h-1zM17 45h1v1h-1zM39 39h2v1h-2zM13 10h1v1h-1zM43 39h2v1h-2zM45 35h1v1h-1zM18 16h2v2h-2zM37 3h1v2h-1zM41 39h1v1h-1zM37 3h3v2h-3zM17 15h2v1h-2zM11 14h1v1h-1zM37 28h1v1h-1zM10 26h2v1h-2zM0 4h2v2h-2zM40 27h2v1h-2zM11 5h2v1h-2zM27 30h1v1h-1zM18 27h3v2h-3zM31 34h2v1h-2zM10 3h2v2h-2zM31 42h1v1h-1zM22 45h2v1h-2zM7 35h3v2h-3zM34 30h1v2h-1zM27 36h2v1h-2zM9 6h3v1h-3zM20 42h2v1h-2zM24 35h2v1h-2zM45 31h3v1h-3zM24 0h2v2h-2zM9 31h1v2h-1zM38 26h2v2h-2zM41 23h1v1h-1zM9 15h1v1h-1zM9 31h3v2h-3zM3 20h2v2h-2zM13 3h2v2h-2zM11 0h1v1h-1zM45 32h1v2h-1zM28 32h1v2h-1zM34 4h1v2h-1zM25 7h1v2h-1zM43 28h3v1h-3zM3 46h1v1h-1zM5 27h1v1h-1zM12 16h3v1h-3zM15 39h2v1h-2zM41 42h1v1h-1zM29 33h2v1h-2zM39 23h1v2h-1zM5 26h2v1h-2zM20 7h1v2h-1zM1 46h2v1h-2zM40 38h3v2h-3zM25 45h1v2h-1zM2 2h1v1h-1zM13 41h3v1h-3zM31 13h2v1h-2zM25 42h1v2h-1zM39 6h2v1h-2zM31 13h1v2h-1zM0 10h2v2h-2zM36 29h1v2h-1zM7 44h3v2h-3zM34 13h2v1h-2zM12 12h2v1h-2zM4 15h1v1h-1zM34 37h1v1h-1zM38 42h1v1h-1zM44 1h2v1h-2zM41 11h2v1h-2zM7 2h2v1h-2zM19 15h2v1h-2zM29 0h1v1h-1zM27 33h1v1h-1zM32 7h3v1h-3zM11 11h1v1h-1zM43 35h3v2h-3zM37 32h2v1h-2zM23 18h2v1h-2zM14 32h3v1h-3zM19 24h2v2h-2zM35 7h1v1h-1zM33 4h2v2h-2zM32 35h1v1h-1zM14 24h3v1h-3zM40 47h1v1h-1zM14 42h3v2h-3zM22 14h1v1h-1zM16 11h1v1h-1zM1 5h2v1h-2zM43 30h2v1h-2zM8 10h1v1h-1zM14 9h2v1h-2zM3 10h2v1h-2zM37 9h2v2h-2zM7 19h1v1h-1z"/><path fill="#8e8e8e" d="M39 45h1v1h-1zM2 20h1v1h-1zM22 42h1v1h-1zM5 30h1v1h-1zM11 42h1v1h-1zM16 35h1v2h-1zM4 40h1v1h-1zM0 35h2v1h-2zM10 4h3v1h-3zM9 28h1v1h-1zM30 12h2v1h-2zM8 3h2v1h-2zM44 37h1v1h-1zM31 18h1v1h-1zM24 4h1v1h-1zM23 33h1v2h-1zM10 34h2v1h-2zM42 7h3v2h-3zM42 0h1v1h-1zM19 45h2v1h-2zM22 15h1v1h-1zM0 14h2v1h-2zM21 4h2v1h-2zM29 20h1v1h-1zM42 35h1v2h-1zM19 41h1v1h-1zM24 24h1v1h-1zM26 19h1v1h-1zM35 35h1v2h-1zM12 0h3v2h-3zM4 30h2v1h-2zM8 24h1v1h-1zM19 13h1v1h-1zM41 25h1v1h-1zM5 25h3v1h-3zM33 25h2v1h-2zM1 0h1v1h-1zM42 16h3v2h-3zM3 47h1v1h-1zM26 40h2v2h-2zM19 37h1v1h-1zM26 26h1v2h-1zM41 34h1v1h-1zM3 36h1v2h-1zM29 45h1v1h-1zM40 32h2v2h-2zM38 17h2v1h-2zM40 31h3v1h-3zM11 34h2v1h-2zM9 16h2v2h-2zM34 40h3v2h-3zM18 9h2v1h-2zM2 13h2v2h-2zM22 19h3v1h-3zM27 0h1v1h-1zM4 23h1v1h-1zM15 34h1v1h-1zM8 45h1v1h-1zM21 19h3v1h-3zM32 5h2v1h-2zM18 22h3v1h-3zM24 29h1v2h-1zM6 34h1v1h-1zM14 24h2v1h-2zM1 40h2v1h-2zM14 44h1v2h-1zM38 1h1v2h-1zM7 42h3v1h-3zM3 19h2v2h-2zM40 13h3v2h-3zM13 12h1v1h-1zM17 41h2v1h-2zM30 27h2v1h-2zM32 42h2v1h-2zM19 10h2v1h-2zM8 42h2v2h-2zM10 13h1v1h-1zM11 21h1v1h-1zM31 30h1v1h-1zM34 43h1v1h-1zM44 22h3v1h-3zM43 38h1v2h-1zM44 3h3v2h-3zM37 37h2v1h-2zM28 35h2v1h-2zM3 33h3v1h-3zM26 44h1v2h-1zM17 3h3v1h-3zM0 28h3v1h-3zM32 43h1v1h-1zM42 6h1v1h-1zM4 24h2v2h-2zM19 14h2v1h-2zM26 21h2v2h-2zM47 29h1v1h-1zM14 39h1v1h-1zM8 47h2v1h-2zM31 1h2v2h-2zM43 20h3v1h-3zM17 2h3v1h-3zM15 21h2v1h-2zM4 40h1v2h-1zM24 28h1v2h-1zM31 32h3v1h-3zM28 27h2v1h-2zM47 1h1v1h-1zM22 38h3v1h-3zM44 38h1v2h-1zM36 8h2v1h-2zM0 41h2v1h-2zM9 19h2v1h-2zM12 17h1v2h-1zM18 4h2v2h-2zM44 12h1v2h-1zM13 13h1v2h-1zM10 14h2v1h-2zM13 10h2v2h-2zM33 44h2v1h-2zM46 10h1v1h-1zM46 9h1v1h-1zM37 6h3v2h-3zM26 47h2v1h-2zM22 28h2v2h-2zM7 13h1v1h-1zM43 10h2v1h-2zM16 29h2v1h-2zM8 0h3v1h-3zM37 12h2v2h-2zM18 20h3v2h-3zM11 25h2v2h-2zM27 1h1v2h-1zM32 37h2v1h-2zM17 44h2v2h-2zM37 14h2v1h-2zM7 6h1v1h-1zM15 0h2v1h-2zM29 10h1v1h-1zM36 21h1v1h-1zM15 11h1v1h-1zM46 0h2v1h-2zM14 6h1v1h-1zM44 31h1v1h-1zM34 19h3v1h-3zM13 43h2v1h-2zM28 25h1v1h-1zM33 3h2v1h-2zM46 30h2v1h-2zM39 2h1v1h-1zM24 46h1v1h-1zM47 12h1v2h-1zM38 32h1v2h-1zM21 44h3v1h-3zM14 28h3v1h-3zM34 22h2v2h-2zM23 7h1v1h-1zM3 24h2v1h-2zM7 9h3v1h-3zM13 27h1v2h-1zM8 6h1v1h-1zM14 6h3v1h-3zM2 38h2v1h-2zM29 22h1v1h-1zM33 23h2v2h-2zM6 33h3v2h-3zM24 8h1v1h-1zM20 47h2v1h-2zM14 8h1v2h-1zM47 38h1v2h-1zM43 31h2v2h-2zM37 23h1v1h-1zM33 21h1v1h-1zM0 6h1v1h-1zM38 21h2v2h-2zM1 28h2v2h-2zM43 4h1v2h-1zM12 13h1v1h-1zM27 21h2v2h-2zM17 25h2v1h-2zM9 38h3v2h-3zM14 45h2v1h-2zM23 0h2v1h-2zM23 47h1v1h-1zM8 29h1v2h-1zM24 10h3v2h-3zM3 45h1v1h-1zM27 18h1v1h-1z"/></pattern></defs><g><rect x="299" y="308" width="36" height="12" fill="url(#sp1)"/><rect x="347" y="308" width="12" height="12" fill="url(#sp1)"/><rect x="275" y="320" width="24" height="12" fill="url(#sp1)"/><rect x="299" y="320" width="24" height="12" fill="url(#sp2)"/><rect x="323" y="320" width="36" height="12" fill="url(#sp1)"/><rect x="251" y="332" width="24" height="12" fill="url(#sp1)"/><rect x="275" y="332" width="24" height="12" fill="url(#sp3)"/><rect x="299" y="332" width="24" height="12" fill="url(#sp2)"/><rect x="323" y="332" width="12" height="12" fill="url(#sp1)"/><rect x="335" y="332" width="24" height="12" fill="url(#sp2)"/><rect x="227" y="344" width="24" height="12" fill="url(#sp1)"/><rect x="251" y="344" width="12" height="12" fill="url(#sp2)"/><rect x="263" y="344" width="12" height="12" fill="url(#sp1)"/><rect x="275" y="344" width="48" height="12" fill="url(#sp3)"/><rect x="323" y="344" width="36" height="12" fill="url(#sp1)"/><rect x="155" y="356" width="24" height="12" fill="url(#sp1)"/><rect x="191" y="356" width="36" height="12" fill="url(#sp1)"/><rect x="227" y="356" width="12" height="12" fill="url(#sp2)"/><rect x="239" y="356" width="24" height="12" fill="url(#sp3)"/><rect x="263" y="356" width="12" height="12" fill="url(#sp2)"/><rect x="275" y="356" width="36" height="12" fill="url(#sp3)"/><rect x="311" y="356" width="12" height="12" fill="url(#sp2)"/><rect x="323" y="356" width="24" height="12" fill="url(#sp1)"/><rect x="47" y="368" width="12" height="12" fill="url(#sp1)"/><rect x="83" y="368" width="84" height="12" fill="url(#sp1)"/><rect x="167" y="368" width="12" height="12" fill="url(#sp2)"/><rect x="179" y="368" width="24" height="12" fill="url(#sp1)"/><rect x="203" y="368" width="36" height="12" fill="url(#sp2)"/><rect x="239" y="368" width="24" height="12" fill="url(#sp3)"/><rect x="263" y="368" width="36" height="12" fill="url(#sp2)"/><rect x="299" y="368" width="12" height="12" fill="url(#sp4)"/><rect x="311" y="368" width="12" height="12" fill="url(#sp3)"/><rect x="323" y="368" width="12" height="12" fill="url(#sp1)"/><rect x="23" y="380" width="12" height="12" fill="url(#sp2)"/><rect x="35" y="380" width="24" height="12" fill="url(#sp3)"/><rect x="59" y="380" width="60" height="12" fill="url(#sp2)"/><rect x="119" y="380" width="12" height="12" fill="url(#sp3)"/><rect x="131" y="380" width="24" height="12" fill="url(#sp2)"/><rect x="155" y="380" width="12" height="12" fill="url(#sp1)"/><rect x="167" y="380" width="24" height="12" fill="url(#sp2)"/><rect x="191" y="380" width="12" height="12" fill="url(#sp3)"/><rect x="203" y="380" width="24" height="12" fill="url(#sp4)"/><rect x="227" y="380" width="12" height="12" fill="url(#sp3)"/><rect x="239" y="380" width="60" height="12" fill="url(#sp2)"/><rect x="299" y="380" width="12" height="12" fill="url(#sp4)"/><rect x="311" y="380" width="12" height="12" fill="url(#sp3)"/><rect x="323" y="380" width="12" height="12" fill="url(#sp2)"/><rect x="23" y="392" width="108" height="12" fill="url(#sp3)"/><rect x="131" y="392" width="60" height="12" fill="url(#sp2)"/><rect x="191" y="392" width="12" height="12" fill="url(#sp3)"/><rect x="203" y="392" width="72" height="12" fill="url(#sp4)"/><rect x="275" y="392" width="36" height="12" fill="url(#sp3)"/><rect x="311" y="392" width="12" height="12" fill="url(#sp1)"/><rect x="23" y="404" width="12" height="12" fill="url(#sp1)"/><rect x="35" y="404" width="24" height="12" fill="url(#sp3)"/><rect x="59" y="404" width="12" height="12" fill="url(#sp1)"/><rect x="71" y="404" width="60" height="12" fill="url(#sp3)"/><rect x="131" y="404" width="24" height="12" fill="url(#sp2)"/><rect x="155" y="404" width="12" height="12" fill="url(#sp3)"/><rect x="167" y="404" width="12" height="12" fill="url(#sp2)"/><rect x="179" y="404" width="24" height="12" fill="url(#sp3)"/><rect x="203" y="404" width="84" height="12" fill="url(#sp4)"/><rect x="287" y="404" width="12" height="12" fill="url(#sp3)"/><rect x="299" y="404" width="12" height="12" fill="url(#sp1)"/><rect x="35" y="416" width="36" height="12" fill="url(#sp1)"/><rect x="71" y="416" width="12" height="12" fill="url(#sp2)"/><rect x="83" y="416" width="108" height="12" fill="url(#sp3)"/><rect x="191" y="416" width="12" height="12" fill="url(#sp2)"/><rect x="203" y="416" width="72" height="12" fill="url(#sp3)"/><rect x="275" y="416" width="12" height="12" fill="url(#sp4)"/><rect x="287" y="416" width="12" height="12" fill="url(#sp3)"/><rect x="83" y="428" width="12" height="12" fill="url(#sp1)"/><rect x="95" y="428" width="12" height="12" fill="url(#sp2)"/><rect x="107" y="428" width="36" height="12" fill="url(#sp3)"/><rect x="143" y="428" width="36" height="12" fill="url(#sp4)"/><rect x="179" y="428" width="96" height="12" fill="url(#sp3)"/><rect x="275" y="428" width="12" height="12" fill="url(#sp4)"/><rect x="287" y="428" width="12" height="12" fill="url(#sp3)"/><rect x="95" y="440" width="12" height="12" fill="url(#sp1)"/><rect x="119" y="440" width="12" height="12" fill="url(#sp2)"/><rect x="131" y="440" width="12" height="12" fill="url(#sp3)"/><rect x="143" y="440" width="12" height="12" fill="url(#sp4)"/><rect x="155" y="440" width="12" height="12" fill="url(#sp3)"/><rect x="167" y="440" width="24" height="12" fill="url(#sp4)"/><rect x="191" y="440" width="84" height="12" fill="url(#sp3)"/><rect x="275" y="440" width="12" height="12" fill="url(#sp4)"/><rect x="287" y="440" width="24" height="12" fill="url(#sp3)"/><rect x="131" y="452" width="12" height="12" fill="url(#sp1)"/><rect x="143" y="452" width="12" height="12" fill="url(#sp3)"/><rect x="155" y="452" width="24" height="12" fill="url(#sp4)"/><rect x="179" y="452" width="120" height="12" fill="url(#sp3)"/><rect x="299" y="452" width="12" height="12" fill="url(#sp4)"/><rect x="311" y="452" width="12" height="12" fill="url(#sp1)"/><rect x="119" y="464" width="24" height="12" fill="url(#sp1)"/><rect x="143" y="464" width="12" height="12" fill="url(#sp3)"/><rect x="155" y="464" width="24" height="12" fill="url(#sp4)"/><rect x="179" y="464" width="24" height="12" fill="url(#sp3)"/><rect x="203" y="464" width="24" height="12" fill="url(#sp4)"/><rect x="227" y="464" width="36" height="12" fill="url(#sp3)"/><rect x="263" y="464" width="24" height="12" fill="url(#sp4)"/><rect x="287" y="464" width="12" height="12" fill="url(#sp3)"/><rect x="299" y="464" width="12" height="12" fill="url(#sp4)"/><rect x="107" y="476" width="36" height="12" fill="url(#sp2)"/><rect x="143" y="476" width="36" height="12" fill="url(#sp4)"/><rect x="179" y="476" width="12" height="12" fill="url(#sp3)"/><rect x="191" y="476" width="48" height="12" fill="url(#sp4)"/><rect x="239" y="476" width="12" height="12" fill="url(#sp3)"/><rect x="263" y="476" width="12" height="12" fill="url(#sp4)"/><rect x="275" y="476" width="12" height="12" fill="url(#sp5)"/><rect x="287" y="476" width="24" height="12" fill="url(#sp3)"/><rect x="323" y="476" width="12" height="12" fill="url(#sp1)"/><rect x="107" y="488" width="24" height="12" fill="url(#sp1)"/><rect x="131" y="488" width="12" height="12" fill="url(#sp3)"/><rect x="143" y="488" width="36" height="12" fill="url(#sp4)"/><rect x="179" y="488" width="12" height="12" fill="url(#sp3)"/><rect x="191" y="488" width="48" height="12" fill="url(#sp4)"/><rect x="239" y="488" width="12" height="12" fill="url(#sp2)"/><rect x="263" y="488" width="12" height="12" fill="url(#sp4)"/><rect x="275" y="488" width="12" height="12" fill="url(#sp3)"/><rect x="287" y="488" width="12" height="12" fill="url(#sp2)"/><rect x="299" y="488" width="12" height="12" fill="url(#sp1)"/><rect x="83" y="500" width="12" height="12" fill="url(#sp1)"/><rect x="95" y="500" width="24" height="12" fill="url(#sp2)"/><rect x="119" y="500" width="72" height="12" fill="url(#sp3)"/><rect x="191" y="500" width="12" height="12" fill="url(#sp4)"/><rect x="203" y="500" width="36" height="12" fill="url(#sp3)"/><rect x="275" y="500" width="12" height="12" fill="url(#sp1)"/><rect x="83" y="512" width="12" height="12" fill="url(#sp1)"/><rect x="95" y="512" width="12" height="12" fill="url(#sp2)"/><rect x="107" y="512" width="12" height="12" fill="url(#sp1)"/><rect x="119" y="512" width="12" height="12" fill="url(#sp2)"/><rect x="131" y="512" width="12" height="12" fill="url(#sp3)"/><rect x="143" y="512" width="12" height="12" fill="url(#sp2)"/><rect x="155" y="512" width="12" height="12" fill="url(#sp1)"/><rect x="167" y="512" width="12" height="12" fill="url(#sp3)"/><rect x="179" y="512" width="12" height="12" fill="url(#sp2)"/><rect x="191" y="512" width="12" height="12" fill="url(#sp3)"/></g><g shape-rendering="crispEdges"><path fill="#c81ee8" d="M313 318h3v3h-3zM323 310h2v2h-2zM321 311h2v1h-2zM322 312h2v2h-2zM297 322h1v3h-1zM305 325h2v1h-2zM311 323h2v3h-2zM303 321h2v3h-2zM316 328h3v3h-3zM309 318h3v2h-3zM320 321h1v2h-1zM267 337h1v3h-1zM273 336h2v1h-2zM266 331h2v2h-2zM262 342h2v2h-2zM272 331h3v2h-3zM275 333h1v1h-1zM282 336h1v1h-1zM285 339h4v5h-4zM277 342h3v4h-3zM274 341h2v4h-2zM276 333h4v3h-4zM283 335h3v3h-3zM274 332h2v3h-2zM282 336h5v4h-5zM273 332h2v4h-2zM283 333h3v4h-3zM284 341h5v4h-5zM273 335h5v5h-5zM280 338h5v2h-5zM285 334h4v4h-4zM276 337h2v1h-2zM277 334h2v1h-2zM286 332h1v2h-1zM280 342h2v2h-2zM298 332h1v1h-1zM298 333h3v3h-3zM291 330h4v2h-4zM299 335h2v5h-2zM291 330h4v4h-4zM294 344h2v2h-2zM290 338h3v3h-3zM291 331h4v5h-4zM288 333h3v5h-3zM285 343h3v2h-3zM290 339h4v4h-4zM289 336h4v4h-4zM290 340h3v2h-3zM291 341h4v4h-4zM287 332h2v3h-2zM292 336h3v5h-3zM290 337h1v2h-1zM289 341h2v1h-2zM297 332h2v1h-2zM289 339h2v2h-2zM308 344h2v2h-2zM297 338h2v3h-2zM304 335h1v1h-1zM297 340h2v2h-2zM311 330h1v2h-1zM348 344h1v1h-1zM348 343h2v2h-2zM357 343h3v3h-3zM346 339h2v1h-2zM258 354h2v2h-2zM262 349h2v1h-2zM252 349h1v2h-1zM252 354h2v2h-2zM259 351h2v3h-2zM286 352h1v2h-1zM277 345h4v4h-4zM276 347h3v3h-3zM278 346h5v5h-5zM275 354h5v3h-5zM282 344h2v3h-2zM281 348h2v5h-2zM273 355h5v2h-5zM282 355h2v2h-2zM273 345h5v3h-5zM275 346h4v4h-4zM285 344h2v2h-2zM278 343h4v5h-4zM280 349h4v4h-4zM277 354h4v4h-4zM282 350h1v1h-1zM281 349h2v1h-2zM275 347h2v1h-2zM279 354h1v1h-1zM280 349h1v1h-1zM286 350h2v2h-2zM285 346h1v3h-1zM287 345h3v2h-3zM289 347h1v3h-1zM311 344h1v1h-1zM220 354h2v2h-2zM221 364h2v3h-2zM220 359h2v2h-2zM215 359h3v2h-3zM240 358h4v4h-4zM247 364h4v2h-4zM244 355h4v3h-4zM239 355h5v3h-5zM250 366h3v3h-3zM240 354h5v5h-5zM245 361h2v4h-2zM248 364h2v4h-2zM246 356h4v4h-4zM241 354h2v4h-2zM248 355h2v4h-2zM242 366h4v4h-4zM240 355h2v4h-2zM243 357h5v4h-5zM252 364h5v4h-5zM254 363h3v4h-3zM251 357h2v4h-2zM252 363h4v4h-4zM260 366h5v3h-5zM262 355h3v4h-3zM250 362h4v5h-4zM255 363h2v2h-2zM260 360h3v4h-3zM260 362h4v4h-4zM251 365h5v3h-5zM254 365h5v4h-5zM251 366h2v1h-2zM253 364h2v1h-2zM253 361h2v1h-2zM257 365h2v2h-2zM269 362h1v2h-1zM270 368h2v2h-2zM265 354h3v2h-3zM263 356h2v2h-2zM285 356h1v2h-1zM299 362h2v1h-2zM300 366h2v2h-2zM342 362h1v2h-1zM345 355h1v3h-1zM333 358h1v3h-1zM347 361h2v3h-2zM341 359h3v1h-3zM185 378h2v1h-2zM190 380h2v1h-2zM189 372h2v1h-2zM190 368h2v2h-2zM188 370h1v2h-1zM183 368h1v2h-1zM184 377h3v2h-3zM210 370h2v3h-2zM215 377h2v3h-2zM216 379h1v2h-1zM206 375h2v1h-2zM225 371h2v3h-2zM215 377h4v5h-4zM224 367h4v4h-4zM226 368h2v5h-2zM219 378h3v2h-3zM213 367h4v4h-4zM225 372h2v4h-2zM222 369h4v4h-4zM219 371h5v2h-5zM219 380h4v2h-4zM218 372h5v2h-5zM214 373h2v4h-2zM220 366h5v5h-5zM214 373h4v3h-4zM244 366h4v4h-4zM251 377h2v4h-2zM240 376h4v3h-4zM248 369h2v4h-2zM243 374h5v3h-5zM250 370h3v4h-3zM240 366h4v2h-4zM238 376h4v3h-4zM251 369h2v2h-2zM240 369h4v3h-4zM250 368h2v5h-2zM242 372h5v4h-5zM238 373h2v3h-2zM243 373h2v4h-2zM249 368h2v4h-2zM246 370h2v3h-2zM250 373h3v5h-3zM255 376h1v1h-1zM277 369h1v2h-1zM288 366h1v2h-1zM283 367h2v2h-2zM285 367h1v2h-1zM286 366h2v2h-2zM280 380h2v1h-2zM299 371h2v2h-2zM316 370h2v1h-2zM320 371h2v1h-2zM312 375h1v3h-1zM322 374h2v3h-2zM323 370h1v2h-1zM317 379h2v3h-2zM55 390h1v1h-1zM81 384h2v3h-2zM79 389h3v2h-3zM80 388h1v2h-1zM78 378h3v3h-3zM102 387h2v1h-2zM98 389h1v3h-1zM106 392h3v2h-3zM104 381h1v2h-1zM98 387h1v1h-1zM103 384h3v2h-3zM193 378h3v4h-3zM198 388h3v5h-3zM193 384h4v5h-4zM190 389h4v2h-4zM203 387h2v3h-2zM197 381h3v4h-3zM196 385h3v4h-3zM198 382h5v2h-5zM195 390h5v4h-5zM195 381h4v4h-4zM198 384h4v4h-4zM193 385h3v5h-3zM196 378h3v4h-3zM212 384h1v2h-1zM205 386h1v1h-1zM204 390h1v2h-1zM213 383h2v1h-2zM207 385h2v3h-2zM209 381h4v4h-4zM213 388h4v5h-4zM203 390h2v2h-2zM203 381h3v2h-3zM210 387h5v4h-5zM208 384h5v4h-5zM210 382h4v4h-4zM203 386h4v5h-4zM205 380h5v4h-5zM209 387h2v4h-2zM214 387h2v4h-2zM206 387h2v5h-2zM220 391h4v2h-4zM220 387h3v4h-3zM220 383h2v3h-2zM225 378h2v4h-2zM225 389h3v5h-3zM219 388h5v2h-5zM216 380h3v4h-3zM221 383h4v4h-4zM224 383h5v4h-5zM218 381h5v4h-5zM222 387h2v3h-2zM216 389h3v5h-3zM218 386h5v2h-5zM222 381h5v4h-5zM234 388h1v2h-1zM234 390h1v1h-1zM234 389h1v1h-1zM236 382h5v4h-5zM233 378h4v5h-4zM225 388h3v4h-3zM228 379h5v2h-5zM225 379h2v2h-2zM226 384h4v3h-4zM232 383h5v4h-5zM229 390h3v4h-3zM235 389h2v4h-2zM230 384h3v2h-3zM227 388h2v2h-2zM234 386h3v4h-3zM236 391h5v3h-5zM235 383h4v2h-4zM230 378h5v2h-5zM302 384h1v1h-1zM314 388h2v1h-2zM43 398h1v2h-1zM50 396h2v1h-2zM57 400h1v1h-1zM61 400h1v2h-1zM64 394h1v2h-1zM68 393h1v2h-1zM77 403h1v1h-1zM73 396h2v1h-2zM101 396h1v1h-1zM102 401h1v1h-1zM96 393h2v2h-2zM95 403h2v2h-2zM103 405h2v1h-2zM103 394h2v2h-2zM104 397h3v2h-3zM117 402h1v1h-1zM118 401h3v3h-3zM108 400h2v2h-2zM111 397h2v2h-2zM120 403h1v1h-1zM186 399h1v2h-1zM182 398h3v3h-3zM189 399h2v2h-2zM183 402h2v3h-2zM201 396h2v3h-2zM199 403h5v3h-5zM198 398h4v3h-4zM191 391h3v5h-3zM189 391h4v2h-4zM195 401h3v5h-3zM190 394h4v4h-4zM200 400h4v4h-4zM193 395h4v4h-4zM196 402h4v2h-4zM193 395h5v3h-5zM190 390h2v4h-2zM189 400h5v5h-5zM206 394h1v1h-1zM204 394h2v1h-2zM213 401h2v1h-2zM205 402h2v2h-2zM202 390h3v4h-3zM205 393h4v4h-4zM210 399h3v3h-3zM212 392h2v2h-2zM210 398h4v5h-4zM204 401h4v2h-4zM204 397h4v3h-4zM209 395h3v4h-3zM214 398h2v3h-2zM207 393h4v3h-4zM203 390h2v4h-2zM207 397h4v4h-4zM208 402h4v3h-4zM206 394h2v4h-2zM210 395h5v3h-5zM225 392h2v2h-2zM218 397h1v1h-1zM217 402h2v1h-2zM217 393h1v1h-1zM225 401h2v3h-2zM226 391h3v2h-3zM225 404h2v2h-2zM221 397h2v2h-2zM227 393h1v2h-1zM226 401h2v4h-2zM234 401h2v5h-2zM235 399h2v3h-2zM233 397h2v3h-2zM236 393h3v3h-3zM231 390h2v5h-2zM233 390h4v2h-4zM226 390h4v5h-4zM229 390h4v3h-4zM232 398h4v5h-4zM229 391h4v5h-4zM232 393h2v5h-2zM235 400h5v2h-5zM233 401h4v2h-4zM226 400h5v2h-5zM230 399h4v4h-4zM245 399h1v1h-1zM238 397h3v4h-3zM239 401h5v2h-5zM246 392h4v5h-4zM245 392h4v4h-4zM248 401h2v2h-2zM237 394h4v3h-4zM246 402h2v2h-2zM244 394h4v4h-4zM247 393h2v4h-2zM250 402h3v4h-3zM241 391h2v5h-2zM247 401h4v2h-4zM243 393h4v5h-4zM242 401h5v4h-5zM252 402h1v2h-1zM251 393h2v1h-2zM256 397h1v1h-1zM255 400h2v1h-2zM254 397h4v5h-4zM251 392h4v4h-4zM252 390h4v4h-4zM251 400h3v5h-3zM249 394h4v3h-4zM259 393h4v4h-4zM261 390h2v4h-2zM255 390h4v2h-4zM258 398h5v4h-5zM262 396h2v5h-2zM257 391h4v4h-4zM252 401h4v4h-4zM271 399h5v2h-5zM264 399h5v4h-5zM265 392h4v4h-4zM270 393h4v4h-4zM269 394h2v4h-2zM274 399h3v4h-3zM270 404h4v2h-4zM264 399h2v3h-2zM264 390h4v4h-4zM267 398h4v5h-4zM273 394h4v4h-4zM271 398h3v2h-3zM265 392h4v4h-4zM275 395h1v1h-1zM275 402h1v1h-1zM296 392h2v2h-2zM44 404h2v1h-2zM34 410h1v2h-1zM43 411h1v2h-1zM36 416h2v1h-2zM35 410h2v1h-2zM41 405h2v2h-2zM38 404h2v2h-2zM77 411h2v1h-2zM113 404h1v1h-1zM120 407h1v1h-1zM126 412h2v1h-2zM154 403h1v1h-1zM145 404h1v3h-1zM152 402h2v2h-2zM145 407h2v2h-2zM150 411h2v2h-2zM161 413h1v2h-1zM161 415h1v1h-1zM159 404h1v2h-1zM168 404h1v1h-1zM158 415h2v3h-2zM158 407h2v3h-2zM163 405h1v3h-1zM180 415h2v1h-2zM178 415h4v3h-4zM187 404h4v3h-4zM182 403h4v4h-4zM183 408h2v4h-2zM187 408h5v3h-5zM181 410h4v4h-4zM178 409h3v4h-3zM182 403h3v4h-3zM178 405h4v4h-4zM187 406h5v3h-5zM187 412h2v3h-2zM182 409h3v2h-3zM187 406h5v4h-5zM182 414h5v4h-5zM195 415h1v1h-1zM198 406h4v4h-4zM201 402h3v3h-3zM189 405h4v3h-4zM195 405h2v5h-2zM190 405h4v3h-4zM196 407h4v4h-4zM198 403h5v5h-5zM201 412h4v5h-4zM190 414h4v2h-4zM200 404h2v3h-2zM199 404h4v3h-4zM202 403h3v4h-3zM199 413h4v3h-4zM213 411h3v2h-3zM212 410h4v3h-4zM201 408h3v5h-3zM206 411h5v2h-5zM210 408h4v4h-4zM201 411h4v5h-4zM202 406h2v5h-2zM209 408h2v2h-2zM206 409h3v4h-3zM208 405h4v4h-4zM212 409h4v4h-4zM207 412h4v4h-4zM210 412h4v5h-4zM218 406h1v1h-1zM217 413h1v1h-1zM224 403h5v2h-5zM225 402h4v3h-4zM216 406h4v4h-4zM224 403h4v3h-4zM223 416h4v2h-4zM216 402h5v5h-5zM216 402h3v4h-3zM218 413h4v4h-4zM227 407h2v4h-2zM222 403h2v4h-2zM224 403h4v4h-4zM222 407h3v4h-3zM223 408h3v3h-3zM217 412h3v5h-3zM218 413h2v2h-2zM215 410h1v2h-1zM219 408h1v2h-1zM234 413h3v1h-3zM228 408h2v2h-2zM236 407h3v2h-3zM238 415h2v3h-2zM240 407h1v2h-1zM241 407h2v1h-2zM246 413h1v2h-1zM238 413h4v5h-4zM239 409h3v3h-3zM244 405h4v4h-4zM244 416h4v2h-4zM241 413h3v4h-3zM239 408h4v4h-4zM247 411h3v2h-3zM244 405h2v2h-2zM246 407h3v4h-3zM241 407h4v4h-4zM239 407h4v2h-4zM241 407h3v4h-3zM238 407h5v5h-5zM242 410h5v2h-5zM253 414h2v1h-2zM252 411h1v1h-1zM254 408h1v2h-1zM256 407h1v2h-1zM260 412h1v1h-1zM258 407h2v1h-2zM256 412h1v2h-1zM259 412h3v2h-3zM261 410h2v2h-2zM260 405h3v2h-3zM257 406h2v3h-2zM265 404h1v1h-1zM273 404h1v2h-1zM274 413h1v3h-1zM267 407h2v1h-2zM266 410h2v2h-2zM272 407h2v2h-2zM267 415h3v3h-3zM275 415h2v1h-2zM284 414h2v2h-2zM87 416h2v2h-2zM86 424h1v2h-1zM106 427h1v1h-1zM141 420h2v1h-2zM134 421h1v1h-1zM133 414h2v2h-2zM130 414h2v1h-2zM137 420h3v3h-3zM143 419h2v2h-2zM145 421h2v2h-2zM151 426h4v4h-4zM153 415h3v4h-3zM143 414h3v3h-3zM142 416h4v3h-4zM151 427h5v3h-5zM152 423h4v5h-4zM142 419h3v5h-3zM143 422h4v3h-4zM147 415h4v3h-4zM143 417h4v3h-4zM142 417h5v4h-5zM145 419h4v5h-4zM165 426h4v3h-4zM164 419h4v5h-4zM161 426h2v2h-2zM154 424h4v4h-4zM164 425h5v3h-5zM153 417h5v4h-5zM160 419h3v4h-3zM161 425h4v4h-4zM161 418h4v4h-4zM161 418h5v5h-5zM159 419h4v5h-4zM163 421h2v2h-2zM166 420h1v1h-1zM164 419h2v2h-2zM174 421h2v1h-2zM166 424h4v4h-4zM166 424h4v2h-4zM169 426h4v4h-4zM173 418h3v5h-3zM171 415h5v4h-5zM175 417h2v4h-2zM179 422h2v3h-2zM166 419h2v4h-2zM178 421h2v3h-2zM170 422h2v5h-2zM168 426h4v3h-4zM168 416h5v2h-5zM171 415h4v4h-4zM171 418h2v4h-2zM170 418h5v4h-5zM185 415h4v2h-4zM184 416h3v2h-3zM189 416h3v5h-3zM187 428h4v2h-4zM178 421h4v3h-4zM185 418h2v5h-2zM188 418h4v2h-4zM177 417h4v3h-4zM181 417h3v4h-3zM182 423h5v4h-5zM187 424h4v5h-4zM186 418h4v4h-4zM178 421h2v2h-2zM178 419h3v5h-3zM180 421h4v4h-4zM204 426h1v1h-1zM220 421h1v2h-1zM229 425h2v1h-2zM245 417h2v2h-2zM261 417h1v1h-1zM258 417h1v1h-1zM265 425h1v1h-1zM279 418h1v2h-1zM297 424h1v1h-1zM108 435h1v1h-1zM124 436h2v1h-2zM139 431h1v1h-1zM137 427h2v4h-2zM142 430h2v4h-2zM141 438h4v4h-4zM135 430h4v3h-4zM140 437h4v5h-4zM133 432h5v4h-5zM129 435h3v3h-3zM141 430h4v4h-4zM140 433h3v4h-3zM130 432h4v3h-4zM139 428h3v5h-3zM136 428h2v4h-2zM140 428h2v2h-2zM129 433h2v4h-2zM129 435h2v4h-2zM147 430h2v2h-2zM150 431h1v2h-1zM145 435h1v2h-1zM148 437h3v4h-3zM153 428h4v4h-4zM153 429h3v4h-3zM141 426h3v4h-3zM149 431h2v5h-2zM150 432h5v5h-5zM142 428h3v5h-3zM143 436h4v3h-4zM148 431h2v5h-2zM142 431h5v4h-5zM151 430h4v4h-4zM145 438h3v2h-3zM152 434h2v5h-2zM156 433h1v1h-1zM153 435h4v2h-4zM162 429h4v5h-4zM162 428h5v5h-5zM164 435h3v4h-3zM156 428h2v2h-2zM158 429h4v3h-4zM164 439h3v2h-3zM159 430h4v5h-4zM165 426h2v2h-2zM160 429h5v3h-5zM162 427h4v3h-4zM162 438h2v3h-2zM155 439h5v2h-5zM156 430h4v4h-4zM156 437h2v2h-2zM164 437h1v1h-1zM157 433h1v1h-1zM164 435h1v2h-1zM176 427h3v5h-3zM176 429h2v3h-2zM166 432h2v2h-2zM172 431h2v2h-2zM169 433h5v2h-5zM174 431h4v4h-4zM170 438h3v4h-3zM169 429h2v2h-2zM176 431h4v4h-4zM169 432h4v4h-4zM176 433h3v4h-3zM169 438h4v2h-4zM169 430h5v2h-5zM167 438h4v3h-4zM166 426h2v4h-2zM166 434h3v3h-3zM167 426h5v2h-5zM181 434h4v4h-4zM178 431h2v4h-2zM189 427h4v2h-4zM187 433h4v3h-4zM184 436h4v4h-4zM183 434h3v4h-3zM178 432h5v5h-5zM178 426h3v3h-3zM180 428h3v3h-3zM177 431h4v4h-4zM183 427h4v2h-4zM188 427h5v4h-5zM178 430h4v5h-4zM199 433h1v1h-1zM194 433h3v2h-3zM199 438h2v2h-2zM194 428h1v3h-1zM200 434h1v3h-1zM210 428h1v2h-1zM214 433h2v1h-2zM213 430h2v2h-2zM203 427h2v3h-2zM209 428h2v2h-2zM223 438h1v2h-1zM248 437h1v1h-1zM245 436h2v1h-2zM250 429h1v2h-1zM253 433h2v1h-2zM253 438h2v2h-2zM258 427h1v2h-1zM251 428h2v3h-2zM259 438h3v1h-3zM284 430h2v2h-2zM277 438h2v3h-2zM283 438h2v2h-2zM283 428h2v2h-2zM281 439h3v2h-3zM135 445h1v1h-1zM152 448h2v2h-2zM147 441h4v5h-4zM151 451h5v3h-5zM144 439h4v4h-4zM145 439h4v4h-4zM151 447h3v2h-3zM152 450h3v4h-3zM144 439h5v2h-5zM150 441h4v5h-4zM143 449h2v4h-2zM151 445h3v4h-3zM146 446h5v2h-5zM142 444h5v3h-5zM143 444h2v5h-2zM164 447h2v1h-2zM158 449h1v2h-1zM155 446h2v2h-2zM155 449h2v1h-2zM175 445h3v3h-3zM166 447h3v5h-3zM175 447h4v4h-4zM178 443h3v4h-3zM176 443h5v4h-5zM171 446h4v3h-4zM175 438h5v2h-5zM171 447h5v2h-5zM172 447h4v4h-4zM169 442h3v2h-3zM169 440h4v3h-4zM167 442h4v5h-4zM167 439h4v3h-4zM186 444h5v4h-5zM186 440h5v4h-5zM177 438h4v4h-4zM184 449h3v4h-3zM177 450h4v3h-4zM178 440h4v3h-4zM180 439h4v2h-4zM180 444h5v3h-5zM177 444h2v5h-2zM186 444h5v4h-5zM184 440h4v4h-4zM189 441h4v4h-4zM201 442h1v2h-1zM193 443h3v5h-3zM197 438h5v2h-5zM189 440h3v4h-3zM190 444h3v4h-3zM194 449h4v5h-4zM196 447h3v5h-3zM195 442h3v4h-3zM194 439h5v5h-5zM192 444h4v3h-4zM191 443h2v4h-2zM191 448h2v3h-2zM189 444h4v5h-4zM196 446h4v4h-4zM219 443h2v2h-2zM238 450h1v1h-1zM234 440h1v1h-1zM242 448h1v1h-1zM262 440h1v2h-1zM275 441h1v2h-1zM267 439h2v3h-2zM273 443h1v2h-1zM270 449h2v2h-2zM267 442h3v2h-3zM285 445h1v1h-1zM273 450h4v2h-4zM285 440h4v5h-4zM282 440h4v5h-4zM283 445h4v4h-4zM285 443h4v4h-4zM279 441h2v4h-2zM282 439h5v5h-5zM279 441h3v3h-3zM274 445h4v4h-4zM280 445h2v4h-2zM277 446h4v5h-4zM279 443h3v5h-3zM150 458h1v3h-1zM154 455h3v3h-3zM147 455h2v3h-2zM166 462h2v1h-2zM154 456h2v2h-2zM157 456h1v2h-1zM162 453h2v2h-2zM154 458h1v3h-1zM157 462h2v1h-2zM167 458h4v4h-4zM166 451h4v4h-4zM167 456h2v4h-2zM167 456h4v2h-4zM165 457h5v4h-5zM176 452h5v4h-5zM172 458h4v3h-4zM175 456h2v2h-2zM176 463h4v2h-4zM166 452h2v3h-2zM166 452h3v3h-3zM172 455h4v4h-4zM170 450h2v5h-2zM165 453h4v2h-4zM171 455h4v4h-4zM179 454h2v2h-2zM177 453h2v3h-2zM184 454h4v2h-4zM180 456h2v3h-2zM182 452h2v2h-2zM185 452h3v3h-3zM177 455h3v3h-3zM179 456h5v3h-5zM183 453h2v4h-2zM187 451h4v2h-4zM181 457h4v4h-4zM178 452h3v4h-3zM187 460h5v4h-5zM178 461h3v5h-3zM184 452h5v3h-5zM178 455h5v5h-5zM196 461h1v1h-1zM189 461h3v1h-3zM195 455h2v2h-2zM199 458h2v1h-2zM195 457h3v3h-3zM240 456h1v1h-1zM262 457h1v1h-1zM279 462h2v2h-2zM291 453h1v1h-1zM307 456h1v1h-1zM309 453h1v1h-1zM304 456h1v1h-1zM306 459h1v2h-1zM310 456h1v1h-1zM300 456h1v2h-1zM301 459h2v2h-2zM149 468h1v1h-1zM161 468h1v2h-1zM165 471h1v2h-1zM177 471h2v1h-2zM189 472h2v2h-2zM204 472h1v1h-1zM214 473h2v4h-2zM207 462h4v4h-4zM205 471h3v3h-3zM211 468h2v4h-2zM207 464h4v5h-4zM206 473h3v5h-3zM203 474h2v3h-2zM202 473h5v4h-5zM207 463h4v2h-4zM205 471h4v3h-4zM209 471h2v5h-2zM202 476h4v2h-4zM213 471h4v4h-4zM207 468h3v5h-3zM222 465h2v1h-2zM223 472h1v1h-1zM224 464h4v4h-4zM219 471h5v4h-5zM225 465h2v4h-2zM213 469h4v5h-4zM215 466h4v4h-4zM224 463h4v4h-4zM224 463h5v4h-5zM218 468h2v4h-2zM215 463h4v4h-4zM224 464h5v5h-5zM218 471h5v4h-5zM261 465h1v1h-1zM261 466h4v4h-4zM264 465h4v3h-4zM268 463h5v4h-5zM270 466h3v3h-3zM264 465h3v5h-3zM261 465h4v4h-4zM273 467h3v3h-3zM267 476h5v2h-5zM272 471h2v3h-2zM266 467h5v3h-5zM261 463h5v2h-5zM273 468h2v5h-2zM266 471h5v4h-5zM266 463h4v4h-4zM284 468h1v2h-1zM280 474h1v2h-1zM281 472h4v5h-4zM286 467h2v4h-2zM281 470h4v4h-4zM284 475h4v3h-4zM274 465h4v4h-4zM284 473h3v5h-3zM280 476h2v2h-2zM283 468h2v4h-2zM281 464h4v4h-4zM283 468h3v4h-3zM278 473h4v4h-4zM277 472h5v2h-5zM275 462h5v4h-5zM288 466h2v1h-2zM173 486h2v2h-2zM191 482h1v1h-1zM194 479h1v2h-1zM207 476h2v2h-2zM224 483h3v2h-3zM217 487h3v3h-3zM215 475h2v3h-2zM237 480h2v1h-2zM232 483h1v2h-1zM232 484h2v2h-2zM231 483h3v4h-3zM235 476h4v5h-4zM228 480h2v5h-2zM229 475h4v4h-4zM234 480h4v3h-4zM225 479h5v4h-5zM226 476h5v4h-5zM230 477h4v5h-4zM228 480h4v3h-4zM228 481h3v3h-3zM237 483h3v3h-3zM238 475h2v5h-2zM244 479h1v1h-1zM263 484h1v1h-1zM265 481h2v2h-2zM272 478h4v5h-4zM268 477h5v2h-5zM270 479h3v4h-3zM261 476h3v3h-3zM265 475h5v2h-5zM270 480h3v5h-3zM269 482h3v4h-3zM267 480h2v5h-2zM273 478h3v2h-3zM270 484h4v5h-4zM264 477h3v4h-3zM269 483h2v4h-2zM273 486h4v2h-4zM262 476h4v4h-4zM274 479h2v5h-2zM276 484h1v1h-1zM274 476h2v5h-2zM281 474h4v4h-4zM286 479h3v4h-3zM279 476h5v5h-5zM282 479h5v4h-5zM275 481h4v2h-4zM283 476h4v5h-4zM280 478h4v5h-4zM286 475h3v5h-3zM285 475h2v3h-2zM276 486h5v4h-5zM282 481h1v2h-1zM276 484h2v1h-2zM285 486h1v1h-1zM285 486h1v1h-1zM283 484h1v1h-1zM152 496h2v1h-2zM143 494h2v2h-2zM160 498h1v1h-1zM157 494h1v1h-1zM171 492h2v1h-2zM171 488h1v1h-1zM176 499h1v1h-1zM172 488h2v1h-2zM179 498h1v2h-1zM212 489h1v2h-1zM224 487h4v3h-4zM213 489h5v2h-5zM219 493h2v5h-2zM218 497h2v4h-2zM223 486h5v3h-5zM223 499h2v3h-2zM213 498h2v2h-2zM225 487h3v2h-3zM223 496h2v3h-2zM219 488h5v4h-5zM223 499h4v3h-4zM214 496h5v3h-5zM214 488h5v4h-5zM222 486h4v2h-4zM224 487h3v5h-3zM223 495h4v3h-4zM229 499h1v1h-1zM236 489h2v2h-2zM268 492h1v1h-1zM274 495h1v2h-1zM264 487h4v3h-4zM269 496h4v4h-4zM266 491h5v4h-5zM270 487h4v4h-4zM262 498h2v4h-2zM273 500h2v2h-2zM264 493h5v4h-5zM270 487h4v4h-4zM270 497h2v5h-2zM261 486h4v3h-4zM265 490h5v5h-5zM265 491h3v3h-3zM264 500h5v2h-5zM280 496h3v3h-3zM280 496h1v2h-1zM279 492h2v2h-2zM276 492h2v2h-2zM126 501h2v1h-2zM121 503h1v1h-1zM137 506h1v1h-1zM141 506h2v1h-2zM167 506h1v2h-1zM175 510h1v1h-1zM181 510h1v1h-1zM192 502h2v1h-2zM236 510h1v1h-1zM134 512h1v2h-1zM171 513h2v1h-2zM193 516h1v1h-1z"/><path fill="#4ca81c" d="M296 338h1v2h-1zM289 340h2v1h-2zM279 345h2v2h-2zM300 348h2v2h-2zM240 366h2v1h-2zM246 361h2v2h-2zM242 356h2v1h-2zM243 367h1v1h-1zM306 359h1v1h-1zM305 358h1v2h-1zM176 373h3v2h-3zM169 375h2v3h-2zM175 370h2v3h-2zM222 372h2v1h-2zM223 371h1v1h-1zM216 376h2v1h-2zM225 368h1v2h-1zM239 376h2v1h-2zM245 379h1v1h-1zM245 376h2v1h-2zM249 379h2v1h-2zM248 370h2v1h-2zM261 376h2v1h-2zM302 375h1v1h-1zM317 369h2v1h-2zM46 381h1v1h-1zM34 385h2v3h-2zM35 385h2v1h-2zM48 389h1v1h-1zM44 391h1v2h-1zM45 383h1v3h-1zM39 381h2v1h-2zM52 383h3v2h-3zM49 384h2v2h-2zM53 383h3v2h-3zM57 381h2v1h-2zM57 387h1v3h-1zM129 380h1v2h-1zM200 380h1v1h-1zM204 389h1v2h-1zM212 383h2v2h-2zM210 388h1v1h-1zM210 381h1v1h-1zM211 390h2v2h-2zM201 379h2v2h-2zM203 390h2v3h-2zM214 388h2v1h-2zM203 381h3v2h-3zM207 389h2v2h-2zM219 384h1v1h-1zM221 383h2v1h-2zM223 381h2v1h-2zM221 385h2v2h-2zM320 385h1v1h-1zM46 396h2v2h-2zM55 405h2v1h-2zM47 392h2v2h-2zM57 397h2v2h-2zM51 396h2v1h-2zM78 393h1v1h-1zM105 399h1v1h-1zM100 399h1v2h-1zM124 397h1v2h-1zM121 402h2v2h-2zM193 397h2v2h-2zM200 402h2v2h-2zM208 400h1v2h-1zM203 395h2v2h-2zM210 400h2v3h-2zM211 396h2v2h-2zM213 392h1v3h-1zM204 399h2v2h-2zM223 396h1v1h-1zM214 390h3v2h-3zM223 392h4v4h-4zM213 400h5v2h-5zM215 395h4v5h-4zM220 402h4v4h-4zM213 402h4v4h-4zM224 402h4v4h-4zM213 400h4v3h-4zM218 402h5v2h-5zM215 390h2v3h-2zM213 398h3v2h-3zM217 396h2v5h-2zM217 399h4v4h-4zM221 392h3v4h-3zM228 392h2v2h-2zM236 395h2v1h-2zM237 396h1v2h-1zM228 405h3v1h-3zM228 401h1v2h-1zM237 397h2v2h-2zM230 393h2v2h-2zM227 391h2v2h-2zM228 399h1v1h-1zM226 403h2v2h-2zM249 398h1v1h-1zM262 397h1v2h-1zM265 403h2v1h-2zM35 414h1v2h-1zM58 416h3v2h-3zM47 408h1v3h-1zM45 408h2v2h-2zM58 405h2v2h-2zM81 404h1v2h-1zM88 406h1v1h-1zM94 411h2v2h-2zM89 404h3v2h-3zM94 408h2v1h-2zM84 402h2v3h-2zM127 409h1v1h-1zM131 413h1v1h-1zM137 415h1v1h-1zM139 404h2v1h-2zM143 404h2v2h-2zM132 402h1v3h-1zM133 402h2v1h-2zM143 411h1v1h-1zM138 411h3v2h-3zM214 406h1v1h-1zM211 407h2v1h-2zM203 413h1v2h-1zM205 408h1v2h-1zM206 413h2v2h-2zM202 411h2v1h-2zM207 417h2v1h-2zM212 415h2v2h-2zM202 411h3v3h-3zM202 407h1v1h-1zM206 406h2v3h-2zM222 408h3v1h-3zM223 413h3v1h-3zM222 413h3v1h-3zM224 405h2v1h-2zM227 402h2v2h-2zM225 409h2v2h-2zM213 417h3v1h-3zM235 411h1v1h-1zM229 412h1v1h-1zM228 412h3v4h-3zM234 414h3v4h-3zM233 403h5v4h-5zM228 410h3v4h-3zM228 410h4v4h-4zM235 410h4v4h-4zM225 413h3v4h-3zM233 413h3v4h-3zM236 407h5v2h-5zM236 413h3v3h-3zM226 402h3v5h-3zM232 409h3v4h-3zM236 402h5v3h-5zM240 414h1v2h-1zM248 405h2v1h-2zM244 404h2v2h-2zM243 405h1v1h-1zM240 410h3v1h-3zM249 406h2v2h-2zM242 409h2v3h-2zM249 408h1v3h-1zM254 405h1v1h-1zM259 406h3v3h-3zM252 415h3v2h-3zM256 410h2v5h-2zM249 415h3v2h-3zM255 403h3v4h-3zM253 414h4v3h-4zM252 412h3v3h-3zM250 404h5v4h-5zM261 410h4v4h-4zM261 412h4v4h-4zM251 402h2v4h-2zM253 411h2v4h-2zM259 409h4v4h-4zM252 406h2v4h-2zM252 413h4v5h-4zM267 407h1v1h-1zM262 409h3v4h-3zM269 408h5v3h-5zM267 402h4v4h-4zM262 413h5v5h-5zM269 408h4v5h-4zM267 409h4v5h-4zM262 412h3v3h-3zM269 409h4v4h-4zM261 410h3v3h-3zM263 404h4v4h-4zM264 403h4v3h-4zM280 410h1v1h-1zM283 414h1v1h-1zM69 418h3v3h-3zM79 425h2v1h-2zM78 415h3v2h-3zM90 426h3v2h-3zM89 422h3v1h-3zM92 416h3v2h-3zM87 419h1v3h-1zM95 416h1v1h-1zM103 418h2v1h-2zM98 416h3v2h-3zM94 421h2v3h-2zM107 415h1v2h-1zM108 417h1v1h-1zM111 425h2v2h-2zM125 420h1v1h-1zM121 417h1v2h-1zM157 423h2v1h-2zM173 425h2v2h-2zM169 424h2v1h-2zM174 418h1v1h-1zM189 427h1v1h-1zM184 427h1v1h-1zM262 415h2v2h-2zM256 414h2v2h-2zM264 427h1v1h-1zM257 416h1v3h-1zM262 414h2v2h-2zM280 424h1v1h-1zM283 419h1v1h-1zM286 420h1v2h-1zM293 419h1v1h-1zM294 419h1v1h-1zM292 417h1v1h-1zM110 428h1v1h-1zM114 437h1v2h-1zM110 430h3v2h-3zM111 441h2v1h-2zM110 426h2v1h-2zM113 432h3v3h-3zM124 437h1v1h-1zM121 439h2v1h-2zM119 440h3v2h-3zM124 431h3v1h-3zM118 431h2v1h-2zM129 433h3v2h-3zM132 436h1v1h-1zM132 438h2v1h-2zM138 430h1v1h-1zM132 439h2v1h-2zM140 438h2v2h-2zM133 433h1v1h-1zM161 431h2v1h-2zM173 438h1v2h-1zM182 434h2v1h-2zM194 434h1v1h-1zM196 428h1v2h-1zM232 434h2v1h-2zM258 436h2v1h-2zM274 428h1v2h-1zM280 434h2v2h-2zM296 432h2v1h-2zM118 450h3v2h-3zM121 440h2v1h-2zM126 441h2v3h-2zM117 450h2v2h-2zM142 446h1v1h-1zM135 449h4v3h-4zM130 445h4v4h-4zM141 443h2v4h-2zM132 439h5v5h-5zM137 439h2v4h-2zM140 442h5v2h-5zM129 444h5v2h-5zM137 439h3v5h-3zM134 450h4v4h-4zM129 447h5v5h-5zM134 443h5v5h-5zM153 441h2v2h-2zM149 444h1v1h-1zM177 450h1v2h-1zM184 444h1v1h-1zM179 448h2v1h-2zM181 442h1v1h-1zM192 441h2v1h-2zM198 450h1v1h-1zM201 441h1v2h-1zM198 440h2v2h-2zM257 444h2v1h-2zM272 450h1v1h-1zM265 445h2v1h-2zM282 440h1v2h-1zM288 451h1v1h-1zM297 442h1v2h-1zM292 450h2v3h-2zM289 450h1v3h-1zM286 441h1v3h-1zM291 451h3v1h-3zM295 440h1v2h-1zM309 441h1v2h-1zM143 460h1v2h-1zM166 463h1v1h-1zM161 458h1v1h-1zM176 455h1v1h-1zM292 458h1v1h-1zM285 464h2v1h-2zM290 453h3v1h-3zM299 451h2v3h-2zM285 458h3v2h-3zM309 456h1v1h-1zM307 457h2v1h-2zM302 452h2v2h-2zM305 451h5v4h-5zM305 452h2v2h-2zM298 461h4v4h-4zM304 462h4v4h-4zM297 450h5v4h-5zM306 451h4v4h-4zM306 455h2v2h-2zM306 458h4v3h-4zM302 460h4v5h-4zM305 451h2v4h-2zM307 461h4v5h-4zM302 457h4v4h-4zM160 473h1v1h-1zM170 470h1v2h-1zM185 468h1v1h-1zM202 468h2v3h-2zM203 469h2v2h-2zM191 471h3v2h-3zM204 468h1v2h-1zM207 473h1v2h-1zM213 473h3v1h-3zM215 471h2v2h-2zM225 468h2v2h-2zM215 474h3v2h-3zM225 465h2v2h-2zM229 468h2v2h-2zM243 462h1v1h-1zM240 476h1v1h-1zM250 463h3v2h-3zM250 464h2v2h-2zM248 465h3v2h-3zM251 466h2v1h-2zM255 473h1v1h-1zM253 468h4v5h-4zM251 469h5v4h-5zM256 463h2v3h-2zM261 472h4v5h-4zM253 470h3v2h-3zM249 470h2v3h-2zM258 472h4v4h-4zM251 473h2v2h-2zM252 466h4v4h-4zM258 472h3v3h-3zM254 469h3v2h-3zM252 469h4v4h-4zM263 474h2v4h-2zM250 473h4v4h-4zM260 473h2v4h-2zM260 466h2v2h-2zM261 466h2v1h-2zM261 470h1v1h-1zM269 464h1v1h-1zM273 464h1v2h-1zM266 466h1v1h-1zM265 466h1v1h-1zM280 470h2v1h-2zM308 471h2v1h-2zM150 477h2v1h-2zM154 479h1v1h-1zM160 480h2v1h-2zM164 485h1v2h-1zM163 482h1v2h-1zM182 476h1v1h-1zM186 478h1v1h-1zM202 483h1v1h-1zM198 477h1v1h-1zM214 480h1v2h-1zM213 485h1v1h-1zM205 484h1v1h-1zM213 478h2v2h-2zM208 477h2v1h-2zM229 481h2v1h-2zM230 485h2v1h-2zM229 483h2v2h-2zM245 485h1v2h-1zM243 484h1v1h-1zM241 476h3v3h-3zM246 477h5v5h-5zM237 486h5v2h-5zM249 482h4v4h-4zM237 474h5v4h-5zM250 480h3v4h-3zM249 485h3v5h-3zM245 479h2v5h-2zM249 475h4v3h-4zM239 478h2v2h-2zM245 480h5v2h-5zM244 476h4v5h-4zM241 482h2v3h-2zM250 479h2v4h-2zM273 485h2v1h-2zM264 481h2v1h-2zM266 477h2v2h-2zM270 478h1v2h-1zM269 479h1v1h-1zM281 485h1v1h-1zM282 480h1v1h-1zM280 483h1v1h-1zM282 485h2v2h-2zM163 490h1v1h-1zM155 494h1v1h-1zM172 497h1v1h-1zM175 497h1v2h-1zM204 492h2v1h-2zM213 491h1v2h-1zM204 491h1v2h-1zM205 495h2v2h-2zM211 494h2v1h-2zM213 487h2v3h-2zM221 492h1v3h-1zM216 497h3v2h-3zM225 500h2v2h-2zM224 497h3v1h-3zM235 488h1v1h-1zM271 490h1v1h-1zM131 499h1v2h-1zM119 511h3v1h-3zM120 501h1v2h-1zM123 503h3v1h-3zM131 504h2v2h-2zM128 503h2v3h-2zM189 504h1v1h-1zM182 504h2v1h-2zM186 509h1v1h-1zM181 505h1v1h-1zM191 507h1v1h-1zM201 508h2v1h-2zM212 500h2v1h-2zM211 501h5v5h-5zM209 510h4v4h-4zM211 502h3v3h-3zM202 504h4v2h-4zM208 502h4v2h-4zM208 499h4v3h-4zM210 502h2v3h-2zM211 508h3v3h-3zM203 498h4v5h-4zM207 500h5v3h-5zM206 502h4v4h-4zM211 507h3v2h-3zM209 499h4v4h-4zM211 503h4v2h-4zM207 502h1v2h-1zM209 506h1v2h-1zM209 510h2v1h-2zM207 502h1v1h-1zM226 503h1v1h-1zM222 501h2v2h-2zM231 501h1v1h-1zM133 516h1v2h-1zM195 521h1v1h-1z"/><path fill="#1c74fc" d="M352 330h1v2h-1zM348 329h3v3h-3zM357 331h2v3h-2zM344 342h3v2h-3zM335 340h1v2h-1zM345 342h3v2h-3zM343 339h2v2h-2zM288 346h1v1h-1zM293 350h1v1h-1zM289 353h1v2h-1zM314 347h1v1h-1zM309 354h1v3h-1zM314 355h2v2h-2zM316 351h2v1h-2zM321 343h2v2h-2zM320 352h2v2h-2zM248 356h1v1h-1zM278 364h1v2h-1zM292 359h2v1h-2zM298 354h2v1h-2zM298 361h3v3h-3zM294 354h3v1h-3zM291 361h3v2h-3zM306 360h2v2h-2zM312 364h1v2h-1zM301 357h2v1h-2zM300 364h2v3h-2zM310 365h3v2h-3zM244 368h1v2h-1zM192 388h1v1h-1zM203 391h2v1h-2zM225 390h1v1h-1zM220 380h2v1h-2zM220 390h2v1h-2zM221 388h2v2h-2zM229 389h2v1h-2zM231 381h2v1h-2zM236 381h1v1h-1zM232 384h2v2h-2zM303 383h2v2h-2zM309 386h1v2h-1zM302 381h2v2h-2zM309 383h1v3h-1zM309 392h2v1h-2zM298 386h2v2h-2zM310 382h2v2h-2zM311 384h1v1h-1zM322 387h1v2h-1zM24 401h1v2h-1zM29 396h2v1h-2zM35 392h1v1h-1zM57 394h1v1h-1zM75 395h1v1h-1zM93 401h2v1h-2zM81 405h2v1h-2zM83 400h1v2h-1zM83 404h1v1h-1zM84 396h2v2h-2zM88 391h3v2h-3zM83 393h3v1h-3zM106 398h1v1h-1zM111 400h1v2h-1zM191 400h2v2h-2zM207 402h1v2h-1zM214 403h1v1h-1zM209 402h1v2h-1zM206 402h2v1h-2zM206 393h2v1h-2zM225 397h1v1h-1zM216 400h2v1h-2zM219 395h1v2h-1zM216 398h1v2h-1zM220 401h2v1h-2zM221 393h1v1h-1zM215 396h2v1h-2zM250 403h1v1h-1zM241 398h1v2h-1zM251 398h1v1h-1zM262 393h1v1h-1zM265 402h1v1h-1zM270 392h1v2h-1zM268 398h1v2h-1zM292 399h1v2h-1zM298 399h2v2h-2zM299 392h1v1h-1zM287 391h1v1h-1zM297 394h1v2h-1zM298 394h1v2h-1zM294 401h2v2h-2zM301 393h1v1h-1zM299 391h1v1h-1zM298 403h2v2h-2zM309 396h2v2h-2zM299 397h2v2h-2zM297 397h1v1h-1zM300 403h1v2h-1zM49 405h2v2h-2zM53 406h1v1h-1zM78 406h2v2h-2zM102 404h2v2h-2zM114 414h1v1h-1zM196 410h1v2h-1zM199 412h1v1h-1zM193 407h1v1h-1zM191 411h1v1h-1zM198 411h2v2h-2zM203 414h2v2h-2zM225 408h1v1h-1zM222 405h2v2h-2zM230 406h1v1h-1zM240 404h2v2h-2zM260 414h2v2h-2zM271 411h1v1h-1zM270 405h2v2h-2zM283 407h1v1h-1zM280 411h1v1h-1zM293 408h3v1h-3zM294 412h2v2h-2zM290 415h3v1h-3zM290 413h2v2h-2zM294 410h2v2h-2zM109 423h2v1h-2zM120 426h1v2h-1zM148 419h2v1h-2zM159 418h1v2h-1zM157 416h1v1h-1zM212 417h1v1h-1zM271 418h1v1h-1zM280 424h1v1h-1zM275 427h1v1h-1zM285 418h1v2h-1zM293 424h2v2h-2zM289 421h2v3h-2zM298 418h1v3h-1zM294 422h3v1h-3zM148 431h1v1h-1zM150 434h1v1h-1zM153 437h2v2h-2zM153 433h2v2h-2zM170 433h1v2h-1zM172 437h1v1h-1zM185 431h1v1h-1zM181 435h2v2h-2zM182 437h1v2h-1zM182 438h2v2h-2zM184 428h1v1h-1zM214 437h1v2h-1zM204 428h2v1h-2zM224 439h2v1h-2zM258 439h1v1h-1zM270 431h1v1h-1zM274 428h1v2h-1zM151 447h2v2h-2zM151 448h2v2h-2zM163 439h4v4h-4zM162 444h2v5h-2zM155 439h2v4h-2zM159 448h5v3h-5zM164 447h5v4h-5zM159 444h4v4h-4zM164 447h2v3h-2zM162 448h3v4h-3zM164 449h5v5h-5zM164 451h4v3h-4zM166 439h3v5h-3zM158 444h4v5h-4zM178 442h1v2h-1zM173 444h1v1h-1zM170 440h1v1h-1zM187 450h1v1h-1zM189 447h1v2h-1zM183 451h2v1h-2zM181 445h1v1h-1zM188 447h1v1h-1zM181 450h2v1h-2zM205 443h1v1h-1zM214 447h1v2h-1zM225 442h1v1h-1zM223 445h2v1h-2zM233 440h1v2h-1zM249 450h2v2h-2zM241 445h3v2h-3zM239 446h3v2h-3zM288 445h1v2h-1zM310 444h1v2h-1zM147 458h2v1h-2zM149 459h1v1h-1zM176 456h2v2h-2zM185 456h1v2h-1zM179 458h2v2h-2zM184 455h1v2h-1zM187 462h1v1h-1zM200 452h2v2h-2zM207 456h1v1h-1zM203 457h2v2h-2zM221 455h1v2h-1zM225 459h1v1h-1zM234 459h1v2h-1zM250 459h1v2h-1zM247 461h2v1h-2zM285 458h2v1h-2zM291 462h2v1h-2zM290 459h1v2h-1zM301 461h2v1h-2zM301 456h2v1h-2zM158 473h2v1h-2zM171 473h2v2h-2zM214 473h1v1h-1zM224 472h1v2h-1zM224 466h2v1h-2zM219 473h1v1h-1zM225 474h1v1h-1zM228 471h2v1h-2zM232 471h1v1h-1zM240 464h1v1h-1zM260 470h1v1h-1zM263 466h2v2h-2zM265 464h1v1h-1zM279 474h1v1h-1zM297 469h1v1h-1zM146 479h2v1h-2zM153 487h2v1h-2zM158 486h1v1h-1zM161 487h1v3h-1zM164 477h2v2h-2zM162 478h3v3h-3zM174 479h1v1h-1zM197 480h1v2h-1zM193 486h1v2h-1zM200 479h1v1h-1zM196 481h1v1h-1zM204 482h2v2h-2zM224 476h2v1h-2zM219 483h2v2h-2zM220 487h1v1h-1zM225 484h1v2h-1zM225 476h2v2h-2zM238 476h2v3h-2zM227 480h1v2h-1zM231 485h2v2h-2zM227 475h3v1h-3zM239 479h1v1h-1zM239 476h2v1h-2zM240 479h2v2h-2zM239 476h2v3h-2zM246 475h3v2h-3zM241 480h3v2h-3zM269 484h2v1h-2zM279 479h1v1h-1zM298 479h1v2h-1zM295 485h1v2h-1zM299 483h2v1h-2zM307 478h2v1h-2zM321 480h1v3h-1zM322 477h2v3h-2zM329 479h1v1h-1zM332 483h1v3h-1zM328 475h3v2h-3zM135 491h2v2h-2zM153 491h1v2h-1zM157 491h1v1h-1zM188 496h1v1h-1zM187 496h1v1h-1zM192 489h2v2h-2zM191 494h2v1h-2zM210 496h1v1h-1zM204 494h1v1h-1zM211 497h1v2h-1zM204 496h3v3h-3zM211 487h3v3h-3zM207 494h3v1h-3zM225 494h2v2h-2zM219 490h1v1h-1zM224 497h2v1h-2zM235 490h1v1h-1zM238 496h1v1h-1zM238 497h1v1h-1zM237 494h1v2h-1zM236 494h1v2h-1zM228 491h2v2h-2zM268 499h1v1h-1zM276 491h1v2h-1zM279 496h1v1h-1zM286 500h2v2h-2zM292 496h1v1h-1zM289 501h2v1h-2zM292 491h1v2h-1zM288 496h2v2h-2zM287 487h3v2h-3zM131 502h1v1h-1zM152 501h1v2h-1zM148 507h1v1h-1zM153 507h1v1h-1zM175 511h1v1h-1zM203 502h2v1h-2zM227 509h1v1h-1zM238 507h1v1h-1zM131 513h1v2h-1zM131 513h2v1h-2zM140 520h1v1h-1zM133 517h1v1h-1zM139 522h2v1h-2z"/><path fill="#fa5a16" d="M284 336h2v1h-2zM279 334h1v2h-1zM291 335h1v1h-1zM301 348h3v1h-3zM303 343h1v3h-1zM303 354h1v2h-1zM300 353h2v2h-2zM300 348h3v3h-3zM317 354h1v1h-1zM246 367h1v1h-1zM252 362h1v1h-1zM252 360h1v1h-1zM262 362h1v1h-1zM276 361h1v2h-1zM288 365h2v1h-2zM287 367h1v1h-1zM242 369h1v2h-1zM256 379h1v1h-1zM258 369h2v2h-2zM258 371h2v3h-2zM259 370h3v2h-3zM309 368h2v2h-2zM55 386h1v2h-1zM53 385h1v2h-1zM49 392h2v2h-2zM49 390h1v2h-1zM50 387h1v3h-1zM52 378h2v1h-2zM51 382h1v3h-1zM53 391h2v1h-2zM59 380h2v2h-2zM50 381h3v3h-3zM68 389h2v1h-2zM70 385h2v2h-2zM66 380h2v2h-2zM69 382h2v2h-2zM59 390h2v2h-2zM201 382h1v1h-1zM211 384h1v2h-1zM217 381h2v1h-2zM301 389h1v2h-1zM302 382h1v2h-1zM301 388h1v1h-1zM39 403h1v1h-1zM43 405h2v1h-2zM36 392h2v3h-2zM41 401h2v1h-2zM40 399h3v3h-3zM67 394h1v3h-1zM66 392h3v3h-3zM70 394h3v2h-3zM81 403h1v1h-1zM85 399h1v2h-1zM195 392h1v2h-1zM203 398h1v2h-1zM223 395h1v1h-1zM234 396h2v2h-2zM247 395h2v2h-2zM254 392h1v2h-1zM252 392h2v2h-2zM258 395h1v1h-1zM259 394h2v2h-2zM263 405h1v1h-1zM249 396h3v1h-3zM250 394h3v2h-3zM251 390h3v2h-3zM259 401h2v2h-2zM252 399h2v2h-2zM264 393h1v2h-1zM267 402h2v2h-2zM267 392h1v2h-1zM307 398h1v2h-1zM42 406h2v1h-2zM40 414h2v1h-2zM82 409h1v1h-1zM84 414h2v2h-2zM104 408h1v2h-1zM96 403h3v1h-3zM104 406h1v2h-1zM93 405h2v2h-2zM100 415h2v2h-2zM96 402h2v2h-2zM111 411h1v2h-1zM158 408h2v1h-2zM187 407h2v2h-2zM193 411h2v2h-2zM219 406h2v2h-2zM220 412h1v1h-1zM228 408h1v1h-1zM250 412h1v1h-1zM256 413h1v2h-1zM265 407h1v2h-1zM271 405h2v1h-2zM269 408h1v2h-1zM269 405h2v1h-2zM267 414h1v2h-1zM269 404h1v1h-1zM284 408h2v1h-2zM287 405h2v1h-2zM96 419h1v2h-1zM138 422h1v2h-1zM151 419h2v1h-2zM173 418h1v2h-1zM180 421h1v1h-1zM186 419h1v1h-1zM181 418h1v2h-1zM184 420h2v2h-2zM189 424h2v2h-2zM213 423h2v1h-2zM212 421h1v2h-1zM203 426h2v1h-2zM211 414h2v2h-2zM211 418h1v2h-1zM210 418h2v1h-2zM206 416h3v3h-3zM226 417h1v1h-1zM221 417h2v2h-2zM227 422h2v3h-2zM220 421h1v2h-1zM215 418h2v2h-2zM237 422h2v2h-2zM242 418h1v1h-1zM255 422h2v1h-2zM252 423h2v2h-2zM273 417h1v2h-1zM292 421h1v1h-1zM107 431h1v2h-1zM131 438h1v1h-1zM149 436h1v1h-1zM144 436h1v1h-1zM161 430h2v2h-2zM157 429h1v1h-1zM166 430h1v2h-1zM172 436h1v2h-1zM171 437h1v1h-1zM177 429h2v2h-2zM169 438h2v2h-2zM199 432h1v2h-1zM217 437h2v1h-2zM231 430h2v1h-2zM227 432h1v2h-1zM234 434h2v1h-2zM234 428h2v3h-2zM230 437h2v2h-2zM236 432h2v3h-2zM243 429h1v2h-1zM262 434h1v2h-1zM265 434h1v1h-1zM275 437h2v1h-2zM298 435h1v1h-1zM293 429h1v1h-1zM295 437h2v1h-2zM140 441h2v1h-2zM139 448h1v2h-1zM140 451h1v1h-1zM135 447h1v2h-1zM152 440h1v1h-1zM156 441h1v1h-1zM167 443h2v1h-2zM169 447h2v2h-2zM186 441h2v1h-2zM185 441h1v1h-1zM199 450h1v2h-1zM209 444h1v2h-1zM248 440h1v1h-1zM243 447h1v1h-1zM249 447h2v2h-2zM253 440h2v1h-2zM265 443h1v2h-1zM280 446h2v1h-2zM279 448h1v2h-1zM277 443h2v1h-2zM283 450h1v2h-1zM279 441h2v2h-2zM276 449h1v1h-1zM310 452h2v1h-2zM303 449h2v1h-2zM306 446h3v3h-3zM303 439h3v1h-3zM149 463h1v1h-1zM161 460h2v2h-2zM156 463h2v1h-2zM175 458h1v2h-1zM170 458h2v2h-2zM180 461h1v1h-1zM211 459h1v1h-1zM222 455h1v1h-1zM227 453h2v2h-2zM242 456h1v1h-1zM257 456h2v1h-2zM254 452h1v1h-1zM267 457h2v2h-2zM272 458h2v1h-2zM310 457h1v1h-1zM166 466h1v1h-1zM164 475h2v1h-2zM157 475h1v1h-1zM166 470h1v1h-1zM199 469h2v2h-2zM205 473h2v2h-2zM207 474h1v1h-1zM204 470h2v2h-2zM209 471h1v2h-1zM206 473h2v2h-2zM214 466h3v1h-3zM204 463h1v2h-1zM206 463h1v1h-1zM205 476h2v2h-2zM206 463h2v1h-2zM205 467h2v2h-2zM209 462h2v1h-2zM216 466h1v1h-1zM220 474h2v1h-2zM217 464h2v1h-2zM216 468h1v2h-1zM224 465h1v2h-1zM221 464h2v1h-2zM228 465h1v2h-1zM240 474h1v1h-1zM243 466h1v1h-1zM246 472h2v1h-2zM261 474h1v1h-1zM266 467h1v2h-1zM278 473h2v1h-2zM297 474h2v1h-2zM296 466h1v1h-1zM303 466h1v2h-1zM307 469h2v1h-2zM309 465h1v1h-1zM304 469h3v1h-3zM303 464h1v3h-1zM312 474h1v2h-1zM310 475h3v2h-3zM301 473h1v2h-1zM151 484h1v1h-1zM160 480h1v2h-1zM161 486h1v1h-1zM160 482h1v2h-1zM175 481h1v1h-1zM174 487h2v1h-2zM176 478h1v1h-1zM174 481h1v2h-1zM168 485h2v3h-2zM165 485h2v3h-2zM177 480h1v3h-1zM179 480h1v1h-1zM189 477h2v2h-2zM191 479h1v1h-1zM196 486h1v1h-1zM193 487h2v3h-2zM195 480h5v4h-5zM197 480h5v3h-5zM197 480h4v5h-4zM192 486h4v2h-4zM194 478h5v4h-5zM191 474h3v4h-3zM193 484h4v4h-4zM191 480h3v4h-3zM191 485h4v4h-4zM190 487h2v2h-2zM198 475h3v2h-3zM203 475h2v4h-2zM190 475h4v5h-4zM195 478h2v1h-2zM197 479h2v2h-2zM194 483h2v2h-2zM203 486h2v1h-2zM202 475h5v4h-5zM210 482h4v5h-4zM211 476h4v5h-4zM210 474h5v2h-5zM213 486h4v3h-4zM208 478h3v2h-3zM205 478h5v4h-5zM206 474h3v2h-3zM202 475h5v4h-5zM208 483h2v4h-2zM205 477h2v4h-2zM205 485h5v4h-5zM219 482h1v2h-1zM225 484h1v1h-1zM226 476h1v2h-1zM213 474h2v5h-2zM214 485h4v3h-4zM222 483h5v4h-5zM217 479h4v5h-4zM220 479h2v4h-2zM217 477h4v5h-4zM221 475h5v5h-5zM222 481h4v3h-4zM215 476h5v3h-5zM216 481h4v2h-4zM215 485h4v4h-4zM214 488h4v2h-4zM246 477h1v1h-1zM246 479h2v2h-2zM245 485h2v1h-2zM286 485h1v1h-1zM280 485h1v1h-1zM289 479h1v1h-1zM297 481h1v1h-1zM141 493h1v2h-1zM143 496h2v1h-2zM151 496h1v2h-1zM148 496h1v2h-1zM163 489h1v1h-1zM160 492h2v2h-2zM169 489h2v1h-2zM168 492h1v1h-1zM182 499h1v2h-1zM191 497h2v2h-2zM184 493h2v2h-2zM183 489h2v2h-2zM187 500h3v2h-3zM200 492h2v2h-2zM193 492h1v1h-1zM200 488h4v4h-4zM203 486h2v4h-2zM198 494h4v5h-4zM197 496h4v3h-4zM191 499h4v2h-4zM196 490h2v3h-2zM194 498h2v4h-2zM196 486h4v5h-4zM190 494h5v2h-5zM199 487h5v4h-5zM196 488h5v2h-5zM195 493h4v4h-4zM196 487h2v2h-2zM193 495h4v3h-4zM208 490h2v2h-2zM203 492h5v4h-5zM203 489h4v5h-4zM209 496h4v4h-4zM204 495h5v2h-5zM212 497h3v4h-3zM210 488h5v3h-5zM206 490h3v5h-3zM203 495h3v4h-3zM206 494h4v2h-4zM208 494h2v5h-2zM208 488h3v4h-3zM207 489h2v5h-2zM212 489h5v4h-5zM218 495h2v1h-2zM223 489h2v1h-2zM226 495h1v2h-1zM218 489h2v2h-2zM215 497h1v2h-1zM234 488h2v4h-2zM230 488h3v5h-3zM235 492h5v3h-5zM229 491h4v3h-4zM227 490h4v4h-4zM230 494h4v4h-4zM226 488h4v4h-4zM225 496h3v5h-3zM227 488h2v2h-2zM234 493h5v3h-5zM237 498h2v4h-2zM229 494h5v4h-5zM238 487h3v4h-3zM268 489h1v1h-1zM285 488h1v1h-1zM275 499h1v1h-1zM138 506h1v1h-1zM144 506h1v1h-1zM150 510h1v1h-1zM173 507h2v1h-2zM174 509h2v2h-2zM177 503h2v2h-2zM166 505h2v3h-2zM176 509h2v2h-2zM186 508h2v2h-2zM182 506h1v3h-1zM177 505h1v3h-1zM181 499h2v2h-2zM182 510h1v1h-1zM186 505h2v2h-2zM195 509h1v1h-1zM200 509h1v1h-1zM199 505h2v4h-2zM196 509h4v4h-4zM195 509h4v2h-4zM196 510h4v2h-4zM191 499h3v3h-3zM191 499h2v4h-2zM194 507h3v3h-3zM197 502h5v5h-5zM192 508h4v5h-4zM201 507h4v5h-4zM190 499h5v3h-5zM193 504h4v2h-4zM191 504h5v5h-5zM198 504h1v1h-1zM194 509h1v1h-1zM192 502h1v2h-1zM196 507h1v2h-1zM200 507h1v2h-1zM230 500h1v1h-1zM230 502h3v3h-3zM234 507h2v1h-2zM226 499h2v2h-2zM225 503h3v2h-3zM137 519h2v1h-2zM133 516h3v4h-3zM130 510h3v4h-3zM131 522h4v3h-4zM133 520h5v5h-5zM141 518h3v4h-3zM134 517h4v4h-4zM130 521h4v3h-4zM133 517h4v2h-4zM131 517h5v4h-5zM136 511h3v3h-3zM138 514h3v4h-3zM132 523h5v2h-5zM131 524h5v2h-5zM167 523h1v1h-1zM180 521h1v2h-1zM167 510h2v3h-2zM176 519h1v2h-1zM171 513h2v2h-2zM176 519h2v3h-2zM199 523h2v1h-2z"/><path fill="#c2000f" d="M282 350h1v2h-1zM294 351h2v1h-2zM306 353h2v1h-2zM318 347h1v1h-1zM312 351h2v1h-2zM240 362h1v1h-1zM245 360h1v1h-1zM261 357h1v2h-1zM251 362h1v1h-1zM279 366h1v1h-1zM288 367h2v1h-2zM257 369h2v1h-2zM303 373h1v1h-1zM301 369h2v1h-2zM38 385h2v2h-2zM36 380h1v1h-1zM48 387h2v1h-2zM128 387h1v1h-1zM126 385h2v2h-2zM194 388h1v1h-1zM198 385h1v2h-1zM199 389h2v1h-2zM200 381h1v2h-1zM197 388h2v2h-2zM222 390h1v1h-1zM221 387h2v1h-2zM299 383h1v2h-1zM29 398h2v1h-2zM35 398h1v1h-1zM35 402h2v1h-2zM51 398h1v2h-1zM92 396h1v2h-1zM99 396h1v1h-1zM113 400h2v1h-2zM117 400h2v1h-2zM122 401h1v1h-1zM211 394h1v1h-1zM232 402h1v2h-1zM228 392h2v1h-2zM237 395h2v2h-2zM239 393h1v1h-1zM240 400h2v1h-2zM239 399h1v2h-1zM246 401h1v1h-1zM248 396h1v1h-1zM241 394h1v2h-1zM245 394h1v1h-1zM241 402h2v1h-2zM273 398h2v2h-2zM273 393h1v1h-1zM268 403h1v1h-1zM285 399h2v2h-2zM289 400h2v1h-2zM303 401h2v1h-2zM310 394h1v1h-1zM47 404h1v1h-1zM84 411h1v2h-1zM114 413h1v1h-1zM111 412h1v1h-1zM129 405h2v1h-2zM179 413h1v2h-1zM186 411h2v1h-2zM184 409h1v1h-1zM186 410h1v2h-1zM210 414h2v2h-2zM212 407h1v2h-1zM210 404h1v1h-1zM233 414h2v2h-2zM238 411h1v2h-1zM236 413h1v1h-1zM227 407h2v2h-2zM237 411h2v1h-2zM231 405h2v1h-2zM232 405h1v1h-1zM236 411h1v1h-1zM233 409h2v2h-2zM245 414h1v2h-1zM249 414h1v1h-1zM247 414h1v1h-1zM246 406h2v1h-2zM239 405h1v2h-1zM248 414h2v2h-2zM266 411h1v1h-1zM275 408h1v1h-1zM287 406h2v1h-2zM295 412h2v1h-2zM100 421h1v1h-1zM102 419h2v1h-2zM114 416h1v1h-1zM126 426h1v2h-1zM132 416h2v1h-2zM145 419h2v1h-2zM150 427h2v1h-2zM148 423h2v2h-2zM165 418h1v2h-1zM174 416h1v2h-1zM167 420h1v1h-1zM210 419h1v2h-1zM223 416h2v1h-2zM222 423h2v1h-2zM232 425h1v1h-1zM235 417h1v2h-1zM249 424h2v1h-2zM269 421h1v1h-1zM263 423h1v1h-1zM275 419h1v1h-1zM286 425h1v2h-1zM274 428h2v2h-2zM277 420h2v2h-2zM286 427h3v2h-3zM280 420h1v3h-1zM289 425h1v1h-1zM125 438h1v2h-1zM144 433h1v1h-1zM158 439h2v1h-2zM167 435h1v1h-1zM171 439h1v1h-1zM176 429h2v2h-2zM189 438h1v2h-1zM228 433h1v2h-1zM259 439h1v1h-1zM282 437h1v2h-1zM294 435h1v3h-1zM289 428h2v2h-2zM287 430h3v3h-3zM142 440h1v2h-1zM139 447h1v1h-1zM136 450h1v1h-1zM145 441h2v1h-2zM161 447h1v2h-1zM159 440h2v2h-2zM174 441h1v2h-1zM168 444h1v1h-1zM171 449h1v2h-1zM176 444h2v1h-2zM175 451h1v1h-1zM174 448h2v1h-2zM189 448h1v1h-1zM187 441h1v2h-1zM185 445h1v1h-1zM203 445h2v1h-2zM237 445h2v1h-2zM268 442h2v1h-2zM283 449h2v2h-2zM287 446h2v2h-2zM309 445h1v1h-1zM307 440h1v1h-1zM163 462h2v2h-2zM172 460h1v1h-1zM177 457h1v1h-1zM178 460h1v2h-1zM175 461h1v1h-1zM171 453h2v1h-2zM177 453h1v2h-1zM199 462h1v1h-1zM220 455h2v1h-2zM235 460h1v1h-1zM231 451h2v2h-2zM229 460h2v2h-2zM234 463h1v2h-1zM235 450h2v2h-2zM227 462h2v2h-2zM261 454h2v1h-2zM302 453h1v1h-1zM147 472h1v1h-1zM145 466h2v2h-2zM177 466h2v1h-2zM172 475h1v1h-1zM167 467h1v2h-1zM187 474h1v1h-1zM193 475h2v1h-2zM206 469h1v2h-1zM229 466h2v2h-2zM225 472h1v2h-1zM229 470h1v1h-1zM226 467h2v2h-2zM231 475h1v1h-1zM229 471h3v2h-3zM249 467h1v2h-1zM266 466h2v1h-2zM266 468h1v2h-1zM271 468h2v2h-2zM285 473h2v1h-2zM280 472h1v1h-1zM284 472h1v1h-1zM279 474h1v1h-1zM282 474h1v2h-1zM280 467h1v2h-1zM277 470h1v2h-1zM308 467h1v1h-1zM301 464h1v1h-1zM308 474h2v2h-2zM109 476h2v2h-2zM106 488h2v2h-2zM110 474h2v3h-2zM108 486h2v2h-2zM117 474h2v1h-2zM123 480h2v2h-2zM127 486h2v2h-2zM129 484h2v2h-2zM117 478h2v2h-2zM144 480h1v1h-1zM144 476h1v1h-1zM146 484h2v1h-2zM163 476h1v1h-1zM169 480h2v2h-2zM210 482h1v1h-1zM218 486h2v1h-2zM222 477h1v2h-1zM225 481h2v2h-2zM228 481h1v1h-1zM236 487h1v1h-1zM237 476h2v2h-2zM227 477h2v2h-2zM245 476h1v1h-1zM271 480h2v1h-2zM285 482h1v2h-1zM275 478h2v2h-2zM284 482h1v1h-1zM301 477h2v1h-2zM302 484h3v1h-3zM304 479h3v2h-3zM308 478h2v2h-2zM298 485h2v2h-2zM107 486h3v3h-3zM119 500h2v2h-2zM106 496h2v2h-2zM136 491h2v1h-2zM146 494h1v1h-1zM157 497h1v1h-1zM164 488h2v1h-2zM186 493h1v2h-1zM200 496h1v1h-1zM199 498h2v1h-2zM198 488h2v2h-2zM196 488h2v2h-2zM223 494h2v1h-2zM227 495h2v1h-2zM227 499h2v1h-2zM264 498h1v1h-1zM263 489h1v1h-1zM272 493h1v1h-1zM270 492h2v1h-2zM265 492h2v2h-2zM270 491h2v2h-2zM266 498h1v2h-1zM268 492h2v1h-2zM278 490h1v1h-1zM128 502h1v1h-1zM123 507h2v1h-2zM136 503h1v1h-1zM166 504h1v2h-1zM155 509h1v1h-1zM163 501h2v1h-2zM158 511h1v1h-1zM175 508h1v1h-1zM199 507h1v2h-1zM195 505h2v2h-2zM210 511h2v1h-2zM217 501h2v1h-2zM232 504h1v1h-1zM132 518h1v1h-1zM177 515h2v1h-2zM177 519h1v1h-1zM192 522h1v1h-1zM191 513h1v2h-1z"/></g><polygon points="189.5,472.6 188.8,479.6 187.0,486.6 184.0,493.1 180.5,498.1 177.5,502.1 174.0,505.6 171.0,507.1 171.5,509.4 175.5,509.4 179.0,507.1 182.0,503.6 185.0,499.6 188.5,494.6 191.0,488.6 192.5,480.6 192.7,473.1 191.3,471.4" fill="#1b3a93" stroke="#1b3a93" stroke-width="0.4" stroke-linejoin="round"/><rect x="11.3" y="439" width="75" height="105" fill="#fff"/><rect x="265" y="526" width="100" height="20" fill="#fff"/></g><rect x="11.3" y="296.6" width="351.1" height="247" fill="none" stroke="#333" stroke-width="1"/><text x="32.5" y="453.3" font-size="8.5" font-weight="bold" font-family="'Liberation Serif', serif" fill="#111">Extreme fires</text><rect x="16.1" y="459.9" width="13.6" height="6.8" fill="#cc22ee"/><text x="32" y="466.7" font-size="8.5" font-family="'Liberation Serif', serif" fill="#111">2016-2022</text><rect x="16.1" y="473.3" width="13.6" height="6.8" fill="#4aa61a"/><text x="32" y="480.1" font-size="8.5" font-family="'Liberation Serif', serif" fill="#111">2011-2015</text><rect x="16.1" y="487.2" width="13.6" height="6.8" fill="#1a75ff"/><text x="32" y="494.0" font-size="8.5" font-family="'Liberation Serif', serif" fill="#111">2006-2010</text><rect x="16.1" y="500.3" width="13.6" height="6.8" fill="#ff5a14"/><text x="32" y="507.1" font-size="8.5" font-family="'Liberation Serif', serif" fill="#111">2001-2005</text><rect x="16.1" y="514.3" width="13.6" height="6.8" fill="#c0000f"/><text x="32" y="521.1" font-size="8.5" font-family="'Liberation Serif', serif" fill="#111">1996-2000</text><rect x="16.1" y="528.1" width="13.6" height="6.8" fill="#8a8a8a"/><text x="32" y="534.9" font-size="8.5" font-family="'Liberation Serif', serif" fill="#111">Large fires</text><g font-family="'Liberation Serif', serif" font-size="6.5" fill="#222"><text x="274.4" y="532.8" text-anchor="middle">0</text><text x="291.2" y="532.8" text-anchor="middle">250</text><text x="307.8" y="532.8" text-anchor="middle">500</text><text x="346.8" y="532.8" text-anchor="middle">1 000 km</text></g><g stroke="#444" stroke-width="0.6"><line x1="274.4" y1="542.3" x2="341.4" y2="542.3"/><line x1="274.4" y1="542.3" x2="274.4" y2="540.1"/><line x1="280.0" y1="542.3" x2="280.0" y2="540.1"/><line x1="285.6" y1="542.3" x2="285.6" y2="540.1"/><line x1="291.1" y1="542.3" x2="291.1" y2="540.1"/><line x1="296.7" y1="542.3" x2="296.7" y2="540.1"/><line x1="302.3" y1="542.3" x2="302.3" y2="540.1"/><line x1="307.9" y1="542.3" x2="307.9" y2="540.1"/><line x1="313.5" y1="542.3" x2="313.5" y2="540.1"/><line x1="319.1" y1="542.3" x2="319.1" y2="540.1"/><line x1="324.6" y1="542.3" x2="324.6" y2="540.1"/><line x1="330.2" y1="542.3" x2="330.2" y2="540.1"/><line x1="335.8" y1="542.3" x2="335.8" y2="540.1"/><line x1="341.4" y1="542.3" x2="341.4" y2="540.1"/></g><text x="60.6" y="292.4" font-size="5.2" text-anchor="middle" font-family="'Liberation Serif', serif" fill="#222">60°E</text><line x1="60.6" y1="294.0" x2="60.6" y2="297.1" stroke="#333" stroke-width="0.8"/><text x="124.6" y="292.4" font-size="5.2" text-anchor="middle" font-family="'Liberation Serif', serif" fill="#222">90°E</text><line x1="124.6" y1="294.0" x2="124.6" y2="297.1" stroke="#333" stroke-width="0.8"/><text x="185.8" y="292.4" font-size="5.2" text-anchor="middle" font-family="'Liberation Serif', serif" fill="#222">120°E</text><line x1="185.8" y1="294.0" x2="185.8" y2="297.1" stroke="#333" stroke-width="0.8"/><text x="258.8" y="292.4" font-size="5.2" text-anchor="middle" font-family="'Liberation Serif', serif" fill="#222">150°E</text><line x1="258.8" y1="294.0" x2="258.8" y2="297.1" stroke="#333" stroke-width="0.8"/><line x1="362.4" y1="355.7" x2="365.7" y2="355.7" stroke="#333" stroke-width="0.8"/><text x="365.8" y="357.5" font-size="5.2" font-family="'Liberation Serif', serif" fill="#222">60°N</text><line x1="362.4" y1="454.8" x2="365.7" y2="454.8" stroke="#333" stroke-width="0.8"/><text x="365.8" y="456.6" font-size="5.2" font-family="'Liberation Serif', serif" fill="#222">50°N</text></svg>
</body></html>
